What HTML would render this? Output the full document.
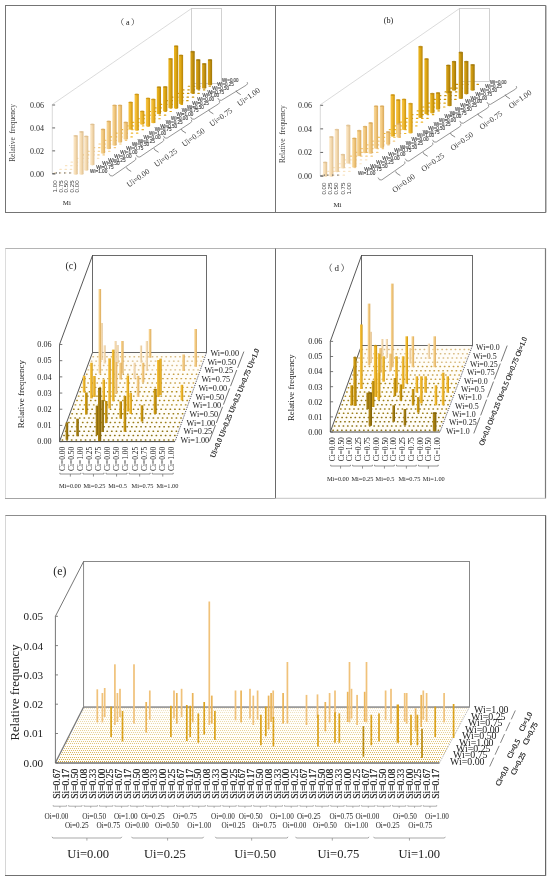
<!DOCTYPE html>
<html><head><meta charset="utf-8"><title>figure</title>
<style>html,body{margin:0;padding:0;background:#fff}svg{display:block}text{white-space:pre}</style></head><body>
<svg width="550" height="881" viewBox="0 0 550 881" font-family="'Liberation Serif','Noto Serif CJK SC',serif">
<defs>
<linearGradient id="gc" x1="0" x2="1" y1="0" y2="0"><stop offset="0" stop-color="#fbe9cc"/><stop offset="0.45" stop-color="#f6dcb2"/><stop offset="1" stop-color="#dcbc8c"/></linearGradient>
<linearGradient id="gl" x1="0" x2="1" y1="0" y2="0"><stop offset="0" stop-color="#f8d99c"/><stop offset="0.45" stop-color="#f3c97f"/><stop offset="1" stop-color="#d8a85a"/></linearGradient>
<linearGradient id="gg" x1="0" x2="1" y1="0" y2="0"><stop offset="0" stop-color="#f6c64a"/><stop offset="0.45" stop-color="#f0b72c"/><stop offset="1" stop-color="#c8920f"/></linearGradient>
<linearGradient id="gd" x1="0" x2="1" y1="0" y2="0"><stop offset="0" stop-color="#ebb72a"/><stop offset="0.45" stop-color="#dfa712"/><stop offset="1" stop-color="#b3820a"/></linearGradient>
<linearGradient id="gk" x1="0" x2="1" y1="0" y2="0"><stop offset="0" stop-color="#d8a51c"/><stop offset="0.45" stop-color="#c9950f"/><stop offset="1" stop-color="#9c7408"/></linearGradient>
<linearGradient id="gb" x1="0" x2="1" y1="0" y2="0"><stop offset="0" stop-color="#b48a18"/><stop offset="0.45" stop-color="#a07a10"/><stop offset="1" stop-color="#7c5e08"/></linearGradient>
</defs>
<rect x="0" y="0" width="550" height="881" fill="#fff"/>
<rect x="5.5" y="5.5" width="540" height="207" fill="none" stroke="#747474" stroke-width="1"/>
<line x1="275.50" y1="5.50" x2="275.50" y2="212.50" stroke="#747474" stroke-width="1" />
<line x1="545.80" y1="5.50" x2="545.80" y2="212.50" stroke="#8a8a8a" stroke-width="1.4" />
<rect x="191.50" y="8.50" width="30.00" height="75.00" fill="none" stroke="#c6c6c6" stroke-width="0.8"/>
<line x1="52.30" y1="104.50" x2="191.50" y2="8.50" stroke="#d2d2d2" stroke-width="0.8" />
<line x1="52.30" y1="104.50" x2="52.30" y2="173.80" stroke="#cfcfcf" stroke-width="0.8" />
<line x1="52.30" y1="173.80" x2="55.10" y2="173.80" stroke="#555" stroke-width="0.9" />
<text x="43.90" y="176.50" font-size="8" fill="#2a2a2a" text-anchor="end" >0.00</text>
<line x1="52.30" y1="150.87" x2="55.10" y2="150.87" stroke="#555" stroke-width="0.9" />
<text x="43.90" y="153.57" font-size="8" fill="#2a2a2a" text-anchor="end" >0.02</text>
<line x1="52.30" y1="127.93" x2="55.10" y2="127.93" stroke="#555" stroke-width="0.9" />
<text x="43.90" y="130.63" font-size="8" fill="#2a2a2a" text-anchor="end" >0.04</text>
<line x1="52.30" y1="105.00" x2="55.10" y2="105.00" stroke="#555" stroke-width="0.9" />
<text x="43.90" y="107.70" font-size="8" fill="#2a2a2a" text-anchor="end" >0.06</text>
<text x="15.30" y="132.90" font-size="7.4" fill="#444" text-anchor="middle" transform="rotate(-90.00 15.30 132.90)" >Relative&#160; frequency</text>
<rect x="187.67" y="85.63" width="2.5" height="1.2" rx="0.5" fill="#c9950f" opacity="1"/>
<rect x="192.87" y="85.63" width="2.5" height="1.2" rx="0.5" fill="#c9950f" opacity="1"/>
<rect x="198.07" y="85.63" width="2.5" height="1.2" rx="0.5" fill="#c9950f" opacity="1"/>
<rect x="203.27" y="85.63" width="2.5" height="1.2" rx="0.5" fill="#c9950f" opacity="1"/>
<rect x="208.47" y="85.63" width="2.5" height="1.2" rx="0.5" fill="#c9950f" opacity="1"/>
<rect x="182.09" y="89.24" width="2.5" height="1.2" rx="0.5" fill="#c9950f" opacity="1"/>
<rect x="187.29" y="89.24" width="2.5" height="1.2" rx="0.5" fill="#c9950f" opacity="1"/>
<rect x="192.49" y="89.24" width="2.5" height="1.2" rx="0.5" fill="#c9950f" opacity="1"/>
<rect x="197.69" y="89.24" width="2.5" height="1.2" rx="0.5" fill="#c9950f" opacity="1"/>
<rect x="202.89" y="89.24" width="2.5" height="1.2" rx="0.5" fill="#c9950f" opacity="1"/>
<rect x="176.51" y="92.85" width="2.5" height="1.2" rx="0.5" fill="#c9950f" opacity="1"/>
<rect x="181.71" y="92.85" width="2.5" height="1.2" rx="0.5" fill="#c9950f" opacity="1"/>
<rect x="186.91" y="92.85" width="2.5" height="1.2" rx="0.5" fill="#c9950f" opacity="1"/>
<rect x="192.11" y="92.85" width="2.5" height="1.2" rx="0.5" fill="#c9950f" opacity="1"/>
<rect x="197.31" y="92.85" width="2.5" height="1.2" rx="0.5" fill="#c9950f" opacity="1"/>
<rect x="170.93" y="96.46" width="2.5" height="1.2" rx="0.5" fill="#c9950f" opacity="1"/>
<rect x="176.13" y="96.46" width="2.5" height="1.2" rx="0.5" fill="#c9950f" opacity="1"/>
<rect x="181.33" y="96.46" width="2.5" height="1.2" rx="0.5" fill="#c9950f" opacity="1"/>
<rect x="186.53" y="96.46" width="2.5" height="1.2" rx="0.5" fill="#c9950f" opacity="1"/>
<rect x="191.73" y="96.46" width="2.5" height="1.2" rx="0.5" fill="#c9950f" opacity="1"/>
<rect x="165.35" y="100.07" width="2.5" height="1.2" rx="0.5" fill="#c9950f" opacity="1"/>
<rect x="170.55" y="100.07" width="2.5" height="1.2" rx="0.5" fill="#c9950f" opacity="1"/>
<rect x="175.75" y="100.07" width="2.5" height="1.2" rx="0.5" fill="#c9950f" opacity="1"/>
<rect x="180.95" y="100.07" width="2.5" height="1.2" rx="0.5" fill="#c9950f" opacity="1"/>
<rect x="186.15" y="100.07" width="2.5" height="1.2" rx="0.5" fill="#c9950f" opacity="1"/>
<rect x="159.77" y="103.68" width="2.5" height="1.2" rx="0.5" fill="#dfa712" opacity="1"/>
<rect x="164.97" y="103.68" width="2.5" height="1.2" rx="0.5" fill="#dfa712" opacity="1"/>
<rect x="170.17" y="103.68" width="2.5" height="1.2" rx="0.5" fill="#dfa712" opacity="1"/>
<rect x="175.37" y="103.68" width="2.5" height="1.2" rx="0.5" fill="#dfa712" opacity="1"/>
<rect x="180.57" y="103.68" width="2.5" height="1.2" rx="0.5" fill="#dfa712" opacity="1"/>
<rect x="154.19" y="107.30" width="2.5" height="1.2" rx="0.5" fill="#dfa712" opacity="1"/>
<rect x="159.39" y="107.30" width="2.5" height="1.2" rx="0.5" fill="#dfa712" opacity="1"/>
<rect x="164.59" y="107.30" width="2.5" height="1.2" rx="0.5" fill="#dfa712" opacity="1"/>
<rect x="169.79" y="107.30" width="2.5" height="1.2" rx="0.5" fill="#dfa712" opacity="1"/>
<rect x="174.99" y="107.30" width="2.5" height="1.2" rx="0.5" fill="#dfa712" opacity="1"/>
<rect x="148.61" y="110.91" width="2.5" height="1.2" rx="0.5" fill="#dfa712" opacity="1"/>
<rect x="153.81" y="110.91" width="2.5" height="1.2" rx="0.5" fill="#dfa712" opacity="1"/>
<rect x="159.01" y="110.91" width="2.5" height="1.2" rx="0.5" fill="#dfa712" opacity="1"/>
<rect x="164.21" y="110.91" width="2.5" height="1.2" rx="0.5" fill="#dfa712" opacity="1"/>
<rect x="169.41" y="110.91" width="2.5" height="1.2" rx="0.5" fill="#dfa712" opacity="1"/>
<rect x="143.03" y="114.52" width="2.5" height="1.2" rx="0.5" fill="#dfa712" opacity="1"/>
<rect x="148.23" y="114.52" width="2.5" height="1.2" rx="0.5" fill="#dfa712" opacity="1"/>
<rect x="153.43" y="114.52" width="2.5" height="1.2" rx="0.5" fill="#dfa712" opacity="1"/>
<rect x="158.63" y="114.52" width="2.5" height="1.2" rx="0.5" fill="#dfa712" opacity="1"/>
<rect x="163.83" y="114.52" width="2.5" height="1.2" rx="0.5" fill="#dfa712" opacity="1"/>
<rect x="137.45" y="118.13" width="2.5" height="1.2" rx="0.5" fill="#dfa712" opacity="1"/>
<rect x="142.65" y="118.13" width="2.5" height="1.2" rx="0.5" fill="#dfa712" opacity="1"/>
<rect x="147.85" y="118.13" width="2.5" height="1.2" rx="0.5" fill="#dfa712" opacity="1"/>
<rect x="153.05" y="118.13" width="2.5" height="1.2" rx="0.5" fill="#dfa712" opacity="1"/>
<rect x="158.25" y="118.13" width="2.5" height="1.2" rx="0.5" fill="#dfa712" opacity="1"/>
<rect x="131.87" y="121.74" width="2.5" height="1.2" rx="0.5" fill="#f0b72c" opacity="1"/>
<rect x="137.07" y="121.74" width="2.5" height="1.2" rx="0.5" fill="#f0b72c" opacity="1"/>
<rect x="142.27" y="121.74" width="2.5" height="1.2" rx="0.5" fill="#f0b72c" opacity="1"/>
<rect x="147.47" y="121.74" width="2.5" height="1.2" rx="0.5" fill="#f0b72c" opacity="1"/>
<rect x="152.67" y="121.74" width="2.5" height="1.2" rx="0.5" fill="#f0b72c" opacity="1"/>
<rect x="126.29" y="125.35" width="2.5" height="1.2" rx="0.5" fill="#f0b72c" opacity="1"/>
<rect x="131.49" y="125.35" width="2.5" height="1.2" rx="0.5" fill="#f0b72c" opacity="1"/>
<rect x="136.69" y="125.35" width="2.5" height="1.2" rx="0.5" fill="#f0b72c" opacity="1"/>
<rect x="141.89" y="125.35" width="2.5" height="1.2" rx="0.5" fill="#f0b72c" opacity="1"/>
<rect x="147.09" y="125.35" width="2.5" height="1.2" rx="0.5" fill="#f0b72c" opacity="1"/>
<rect x="120.71" y="128.96" width="2.5" height="1.2" rx="0.5" fill="#f0b72c" opacity="1"/>
<rect x="125.91" y="128.96" width="2.5" height="1.2" rx="0.5" fill="#f0b72c" opacity="1"/>
<rect x="131.11" y="128.96" width="2.5" height="1.2" rx="0.5" fill="#f0b72c" opacity="1"/>
<rect x="136.31" y="128.96" width="2.5" height="1.2" rx="0.5" fill="#f0b72c" opacity="1"/>
<rect x="141.51" y="128.96" width="2.5" height="1.2" rx="0.5" fill="#f0b72c" opacity="1"/>
<rect x="115.13" y="132.57" width="2.5" height="1.2" rx="0.5" fill="#f0b72c" opacity="1"/>
<rect x="120.33" y="132.57" width="2.5" height="1.2" rx="0.5" fill="#f0b72c" opacity="1"/>
<rect x="125.53" y="132.57" width="2.5" height="1.2" rx="0.5" fill="#f0b72c" opacity="1"/>
<rect x="130.73" y="132.57" width="2.5" height="1.2" rx="0.5" fill="#f0b72c" opacity="1"/>
<rect x="135.93" y="132.57" width="2.5" height="1.2" rx="0.5" fill="#f0b72c" opacity="1"/>
<rect x="109.55" y="136.19" width="2.5" height="1.2" rx="0.5" fill="#f0b72c" opacity="1"/>
<rect x="114.75" y="136.19" width="2.5" height="1.2" rx="0.5" fill="#f0b72c" opacity="1"/>
<rect x="119.95" y="136.19" width="2.5" height="1.2" rx="0.5" fill="#f0b72c" opacity="1"/>
<rect x="125.15" y="136.19" width="2.5" height="1.2" rx="0.5" fill="#f0b72c" opacity="1"/>
<rect x="130.35" y="136.19" width="2.5" height="1.2" rx="0.5" fill="#f0b72c" opacity="1"/>
<rect x="103.97" y="139.80" width="2.5" height="1.2" rx="0.5" fill="#f3c97f" opacity="1"/>
<rect x="109.17" y="139.80" width="2.5" height="1.2" rx="0.5" fill="#f3c97f" opacity="1"/>
<rect x="114.37" y="139.80" width="2.5" height="1.2" rx="0.5" fill="#f3c97f" opacity="1"/>
<rect x="119.57" y="139.80" width="2.5" height="1.2" rx="0.5" fill="#f3c97f" opacity="1"/>
<rect x="124.77" y="139.80" width="2.5" height="1.2" rx="0.5" fill="#f3c97f" opacity="1"/>
<rect x="98.39" y="143.41" width="2.5" height="1.2" rx="0.5" fill="#f3c97f" opacity="1"/>
<rect x="103.59" y="143.41" width="2.5" height="1.2" rx="0.5" fill="#f3c97f" opacity="1"/>
<rect x="108.79" y="143.41" width="2.5" height="1.2" rx="0.5" fill="#f3c97f" opacity="1"/>
<rect x="113.99" y="143.41" width="2.5" height="1.2" rx="0.5" fill="#f3c97f" opacity="1"/>
<rect x="119.19" y="143.41" width="2.5" height="1.2" rx="0.5" fill="#f3c97f" opacity="1"/>
<rect x="92.81" y="147.02" width="2.5" height="1.2" rx="0.5" fill="#f3c97f" opacity="1"/>
<rect x="98.01" y="147.02" width="2.5" height="1.2" rx="0.5" fill="#f3c97f" opacity="1"/>
<rect x="103.21" y="147.02" width="2.5" height="1.2" rx="0.5" fill="#f3c97f" opacity="1"/>
<rect x="108.41" y="147.02" width="2.5" height="1.2" rx="0.5" fill="#f3c97f" opacity="1"/>
<rect x="113.61" y="147.02" width="2.5" height="1.2" rx="0.5" fill="#f3c97f" opacity="1"/>
<rect x="87.23" y="150.63" width="2.5" height="1.2" rx="0.5" fill="#f3c97f" opacity="1"/>
<rect x="92.43" y="150.63" width="2.5" height="1.2" rx="0.5" fill="#f3c97f" opacity="1"/>
<rect x="97.63" y="150.63" width="2.5" height="1.2" rx="0.5" fill="#f3c97f" opacity="1"/>
<rect x="102.83" y="150.63" width="2.5" height="1.2" rx="0.5" fill="#f3c97f" opacity="1"/>
<rect x="108.03" y="150.63" width="2.5" height="1.2" rx="0.5" fill="#f3c97f" opacity="1"/>
<rect x="81.65" y="154.24" width="2.5" height="1.2" rx="0.5" fill="#f3c97f" opacity="1"/>
<rect x="86.85" y="154.24" width="2.5" height="1.2" rx="0.5" fill="#f3c97f" opacity="1"/>
<rect x="92.05" y="154.24" width="2.5" height="1.2" rx="0.5" fill="#f3c97f" opacity="1"/>
<rect x="97.25" y="154.24" width="2.5" height="1.2" rx="0.5" fill="#f3c97f" opacity="1"/>
<rect x="102.45" y="154.24" width="2.5" height="1.2" rx="0.5" fill="#f3c97f" opacity="1"/>
<rect x="76.07" y="157.85" width="2.5" height="1.2" rx="0.5" fill="#f6dcb2" opacity="0.8"/>
<rect x="81.27" y="157.85" width="2.5" height="1.2" rx="0.5" fill="#f6dcb2" opacity="0.8"/>
<rect x="86.47" y="157.85" width="2.5" height="1.2" rx="0.5" fill="#f6dcb2" opacity="0.8"/>
<rect x="91.67" y="157.85" width="2.5" height="1.2" rx="0.5" fill="#f6dcb2" opacity="0.8"/>
<rect x="96.87" y="157.85" width="2.5" height="1.2" rx="0.5" fill="#f6dcb2" opacity="0.8"/>
<rect x="70.49" y="161.47" width="2.5" height="1.2" rx="0.5" fill="#f6dcb2" opacity="0.8"/>
<rect x="75.69" y="161.47" width="2.5" height="1.2" rx="0.5" fill="#f6dcb2" opacity="0.8"/>
<rect x="80.89" y="161.47" width="2.5" height="1.2" rx="0.5" fill="#f6dcb2" opacity="0.8"/>
<rect x="86.09" y="161.47" width="2.5" height="1.2" rx="0.5" fill="#f6dcb2" opacity="0.8"/>
<rect x="91.29" y="161.47" width="2.5" height="1.2" rx="0.5" fill="#f6dcb2" opacity="0.8"/>
<rect x="64.91" y="165.08" width="2.5" height="1.2" rx="0.5" fill="#f6dcb2" opacity="0.8"/>
<rect x="70.11" y="165.08" width="2.5" height="1.2" rx="0.5" fill="#f6dcb2" opacity="0.8"/>
<rect x="75.31" y="165.08" width="2.5" height="1.2" rx="0.5" fill="#f6dcb2" opacity="0.8"/>
<rect x="80.51" y="165.08" width="2.5" height="1.2" rx="0.5" fill="#f6dcb2" opacity="0.8"/>
<rect x="85.71" y="165.08" width="2.5" height="1.2" rx="0.5" fill="#f6dcb2" opacity="0.8"/>
<rect x="59.33" y="168.69" width="2.5" height="1.2" rx="0.5" fill="#f6dcb2" opacity="0.8"/>
<rect x="64.53" y="168.69" width="2.5" height="1.2" rx="0.5" fill="#f6dcb2" opacity="0.8"/>
<rect x="69.73" y="168.69" width="2.5" height="1.2" rx="0.5" fill="#f6dcb2" opacity="0.8"/>
<rect x="74.93" y="168.69" width="2.5" height="1.2" rx="0.5" fill="#f6dcb2" opacity="0.8"/>
<rect x="80.13" y="168.69" width="2.5" height="1.2" rx="0.5" fill="#f6dcb2" opacity="0.8"/>
<rect x="53.75" y="172.30" width="2.5" height="1.2" rx="0.5" fill="#f6dcb2" opacity="0.8"/>
<rect x="58.95" y="172.30" width="2.5" height="1.2" rx="0.5" fill="#f6dcb2" opacity="0.8"/>
<rect x="64.15" y="172.30" width="2.5" height="1.2" rx="0.5" fill="#f6dcb2" opacity="0.8"/>
<rect x="69.35" y="172.30" width="2.5" height="1.2" rx="0.5" fill="#f6dcb2" opacity="0.8"/>
<rect x="74.55" y="172.30" width="2.5" height="1.2" rx="0.5" fill="#f6dcb2" opacity="0.8"/>
<rect x="207.90" y="59.60" width="4.20" height="25.20" fill="url(#gk)"/>
<ellipse cx="210.00" cy="59.90" rx="2.10" ry="0.9" fill="#9c7408" opacity="0.75"/>
<ellipse cx="210.00" cy="84.80" rx="2.10" ry="0.8" fill="url(#gk)"/>
<rect x="202.10" y="63.50" width="4.20" height="24.50" fill="url(#gk)"/>
<ellipse cx="204.20" cy="63.80" rx="2.10" ry="0.9" fill="#9c7408" opacity="0.75"/>
<ellipse cx="204.20" cy="88.00" rx="2.10" ry="0.8" fill="url(#gk)"/>
<rect x="196.10" y="59.60" width="4.20" height="29.40" fill="url(#gk)"/>
<ellipse cx="198.20" cy="59.90" rx="2.10" ry="0.9" fill="#9c7408" opacity="0.75"/>
<ellipse cx="198.20" cy="89.00" rx="2.10" ry="0.8" fill="url(#gk)"/>
<rect x="190.50" y="51.40" width="4.20" height="41.60" fill="url(#gk)"/>
<ellipse cx="192.60" cy="51.70" rx="2.10" ry="0.9" fill="#9c7408" opacity="0.75"/>
<ellipse cx="192.60" cy="93.00" rx="2.10" ry="0.8" fill="url(#gk)"/>
<rect x="178.90" y="55.00" width="4.20" height="48.60" fill="url(#gd)"/>
<ellipse cx="181.00" cy="55.30" rx="2.10" ry="0.9" fill="#b3820a" opacity="0.75"/>
<ellipse cx="181.00" cy="103.60" rx="2.10" ry="0.8" fill="url(#gd)"/>
<rect x="168.40" y="58.50" width="4.20" height="49.20" fill="url(#gd)"/>
<ellipse cx="170.50" cy="58.80" rx="2.10" ry="0.9" fill="#b3820a" opacity="0.75"/>
<ellipse cx="170.50" cy="107.70" rx="2.10" ry="0.8" fill="url(#gd)"/>
<rect x="174.00" y="45.80" width="4.20" height="62.20" fill="url(#gd)"/>
<ellipse cx="176.10" cy="46.10" rx="2.10" ry="0.9" fill="#b3820a" opacity="0.75"/>
<ellipse cx="176.10" cy="108.00" rx="2.10" ry="0.8" fill="url(#gd)"/>
<rect x="163.10" y="86.60" width="4.20" height="24.40" fill="url(#gd)"/>
<ellipse cx="165.20" cy="86.90" rx="2.10" ry="0.9" fill="#b3820a" opacity="0.75"/>
<ellipse cx="165.20" cy="111.00" rx="2.10" ry="0.8" fill="url(#gd)"/>
<rect x="156.80" y="86.80" width="4.20" height="26.70" fill="url(#gd)"/>
<ellipse cx="158.90" cy="87.10" rx="2.10" ry="0.9" fill="#b3820a" opacity="0.75"/>
<ellipse cx="158.90" cy="113.50" rx="2.10" ry="0.8" fill="url(#gd)"/>
<rect x="151.20" y="99.00" width="4.20" height="23.50" fill="url(#gg)"/>
<ellipse cx="153.30" cy="99.30" rx="2.10" ry="0.9" fill="#c8920f" opacity="0.75"/>
<ellipse cx="153.30" cy="122.50" rx="2.10" ry="0.8" fill="url(#gg)"/>
<rect x="140.10" y="111.00" width="4.20" height="13.00" fill="url(#gg)"/>
<ellipse cx="142.20" cy="111.30" rx="2.10" ry="0.9" fill="#c8920f" opacity="0.75"/>
<ellipse cx="142.20" cy="124.00" rx="2.10" ry="0.8" fill="url(#gg)"/>
<rect x="145.90" y="98.00" width="4.20" height="28.00" fill="url(#gg)"/>
<ellipse cx="148.00" cy="98.30" rx="2.10" ry="0.9" fill="#c8920f" opacity="0.75"/>
<ellipse cx="148.00" cy="126.00" rx="2.10" ry="0.8" fill="url(#gg)"/>
<rect x="128.50" y="102.00" width="4.20" height="27.00" fill="url(#gg)"/>
<ellipse cx="130.60" cy="102.30" rx="2.10" ry="0.9" fill="#c8920f" opacity="0.75"/>
<ellipse cx="130.60" cy="129.00" rx="2.10" ry="0.8" fill="url(#gg)"/>
<rect x="134.60" y="94.00" width="4.20" height="36.00" fill="url(#gg)"/>
<ellipse cx="136.70" cy="94.30" rx="2.10" ry="0.9" fill="#c8920f" opacity="0.75"/>
<ellipse cx="136.70" cy="130.00" rx="2.10" ry="0.8" fill="url(#gg)"/>
<rect x="123.60" y="122.00" width="4.20" height="17.00" fill="url(#gl)"/>
<ellipse cx="125.70" cy="122.30" rx="2.10" ry="0.9" fill="#d8a85a" opacity="0.75"/>
<ellipse cx="125.70" cy="139.00" rx="2.10" ry="0.8" fill="url(#gl)"/>
<rect x="117.90" y="105.00" width="4.20" height="37.00" fill="url(#gl)"/>
<ellipse cx="120.00" cy="105.30" rx="2.10" ry="0.9" fill="#d8a85a" opacity="0.75"/>
<ellipse cx="120.00" cy="142.00" rx="2.10" ry="0.8" fill="url(#gl)"/>
<rect x="112.40" y="105.00" width="4.20" height="40.00" fill="url(#gl)"/>
<ellipse cx="114.50" cy="105.30" rx="2.10" ry="0.9" fill="#d8a85a" opacity="0.75"/>
<ellipse cx="114.50" cy="145.00" rx="2.10" ry="0.8" fill="url(#gl)"/>
<rect x="106.60" y="121.00" width="4.20" height="27.50" fill="url(#gl)"/>
<ellipse cx="108.70" cy="121.30" rx="2.10" ry="0.9" fill="#d8a85a" opacity="0.75"/>
<ellipse cx="108.70" cy="148.50" rx="2.10" ry="0.8" fill="url(#gl)"/>
<rect x="100.90" y="129.00" width="4.20" height="24.00" fill="url(#gl)"/>
<ellipse cx="103.00" cy="129.30" rx="2.10" ry="0.9" fill="#d8a85a" opacity="0.75"/>
<ellipse cx="103.00" cy="153.00" rx="2.10" ry="0.8" fill="url(#gl)"/>
<rect x="90.20" y="124.00" width="4.20" height="40.60" fill="url(#gc)"/>
<ellipse cx="92.30" cy="124.30" rx="2.10" ry="0.9" fill="#dcbc8c" opacity="0.75"/>
<ellipse cx="92.30" cy="164.60" rx="2.10" ry="0.8" fill="url(#gc)"/>
<rect x="84.10" y="136.00" width="4.20" height="34.00" fill="url(#gc)"/>
<ellipse cx="86.20" cy="136.30" rx="2.10" ry="0.9" fill="#dcbc8c" opacity="0.75"/>
<ellipse cx="86.20" cy="170.00" rx="2.10" ry="0.8" fill="url(#gc)"/>
<rect x="73.50" y="135.50" width="4.20" height="38.50" fill="url(#gc)"/>
<ellipse cx="75.60" cy="135.80" rx="2.10" ry="0.9" fill="#dcbc8c" opacity="0.75"/>
<ellipse cx="75.60" cy="174.00" rx="2.10" ry="0.8" fill="url(#gc)"/>
<rect x="79.30" y="131.50" width="4.20" height="42.50" fill="url(#gc)"/>
<ellipse cx="81.40" cy="131.80" rx="2.10" ry="0.9" fill="#dcbc8c" opacity="0.75"/>
<ellipse cx="81.40" cy="174.00" rx="2.10" ry="0.8" fill="url(#gc)"/>
<rect x="55.80" y="172.20" width="1" height="1.5" fill="#666"/>
<rect x="59.30" y="172.20" width="1" height="1.5" fill="#666"/>
<rect x="64.30" y="172.20" width="1" height="1.5" fill="#666"/>
<rect x="69.40" y="172.20" width="1" height="1.5" fill="#666"/>
<line x1="52.30" y1="173.80" x2="55.50" y2="173.80" stroke="#555" stroke-width="0.9" />
<text x="57.30" y="192.40" font-size="6.2" fill="#444" text-anchor="start" transform="rotate(-90.00 57.30 192.40)" font-family="'Liberation Sans',sans-serif">1.00</text>
<text x="62.85" y="192.40" font-size="6.2" fill="#444" text-anchor="start" transform="rotate(-90.00 62.85 192.40)" font-family="'Liberation Sans',sans-serif">0.75</text>
<text x="68.40" y="192.40" font-size="6.2" fill="#444" text-anchor="start" transform="rotate(-90.00 68.40 192.40)" font-family="'Liberation Sans',sans-serif">0.50</text>
<text x="73.95" y="192.40" font-size="6.2" fill="#444" text-anchor="start" transform="rotate(-90.00 73.95 192.40)" font-family="'Liberation Sans',sans-serif">0.25</text>
<text x="79.50" y="192.40" font-size="6.2" fill="#444" text-anchor="start" transform="rotate(-90.00 79.50 192.40)" font-family="'Liberation Sans',sans-serif">0.00</text>
<text x="66.80" y="204.80" font-size="6.9" fill="#222" text-anchor="middle" >Mi</text>
<text x="90.00" y="172.90" font-size="4.7" fill="#484848" text-anchor="start" font-family="'Liberation Sans',sans-serif" stroke="#484848" stroke-width="0.15">Wi=1.00</text>
<text x="96.17" y="169.12" font-size="4.69" fill="#484848" text-anchor="start" font-family="'Liberation Sans',sans-serif" stroke="#484848" stroke-width="0.15">Wi=0.75</text>
<text x="102.28" y="165.34" font-size="4.68" fill="#484848" text-anchor="start" font-family="'Liberation Sans',sans-serif" stroke="#484848" stroke-width="0.15">Wi=0.50</text>
<text x="108.34" y="161.56" font-size="4.67" fill="#484848" text-anchor="start" font-family="'Liberation Sans',sans-serif" stroke="#484848" stroke-width="0.15">Wi=0.25</text>
<text x="114.34" y="157.78" font-size="4.66" fill="#484848" text-anchor="start" font-family="'Liberation Sans',sans-serif" stroke="#484848" stroke-width="0.15">Wi=0.00</text>
<text x="120.28" y="154.00" font-size="4.65" fill="#484848" text-anchor="start" font-family="'Liberation Sans',sans-serif" stroke="#484848" stroke-width="0.15">Wi=1.00</text>
<text x="126.16" y="150.22" font-size="4.64" fill="#484848" text-anchor="start" font-family="'Liberation Sans',sans-serif" stroke="#484848" stroke-width="0.15">Wi=0.75</text>
<text x="131.98" y="146.44" font-size="4.63" fill="#484848" text-anchor="start" font-family="'Liberation Sans',sans-serif" stroke="#484848" stroke-width="0.15">Wi=0.50</text>
<text x="137.74" y="142.66" font-size="4.62" fill="#484848" text-anchor="start" font-family="'Liberation Sans',sans-serif" stroke="#484848" stroke-width="0.15">Wi=0.25</text>
<text x="143.45" y="138.88" font-size="4.61" fill="#484848" text-anchor="start" font-family="'Liberation Sans',sans-serif" stroke="#484848" stroke-width="0.15">Wi=0.00</text>
<text x="149.10" y="135.10" font-size="4.6" fill="#484848" text-anchor="start" font-family="'Liberation Sans',sans-serif" stroke="#484848" stroke-width="0.15">Wi=1.00</text>
<text x="154.69" y="131.32" font-size="4.59" fill="#484848" text-anchor="start" font-family="'Liberation Sans',sans-serif" stroke="#484848" stroke-width="0.15">Wi=0.75</text>
<text x="160.22" y="127.54" font-size="4.58" fill="#484848" text-anchor="start" font-family="'Liberation Sans',sans-serif" stroke="#484848" stroke-width="0.15">Wi=0.50</text>
<text x="165.70" y="123.76" font-size="4.57" fill="#484848" text-anchor="start" font-family="'Liberation Sans',sans-serif" stroke="#484848" stroke-width="0.15">Wi=0.25</text>
<text x="171.12" y="119.98" font-size="4.56" fill="#484848" text-anchor="start" font-family="'Liberation Sans',sans-serif" stroke="#484848" stroke-width="0.15">Wi=0.00</text>
<text x="176.47" y="116.20" font-size="4.55" fill="#484848" text-anchor="start" font-family="'Liberation Sans',sans-serif" stroke="#484848" stroke-width="0.15">Wi=1.00</text>
<text x="181.78" y="112.42" font-size="4.54" fill="#484848" text-anchor="start" font-family="'Liberation Sans',sans-serif" stroke="#484848" stroke-width="0.15">Wi=0.75</text>
<text x="187.02" y="108.64" font-size="4.53" fill="#484848" text-anchor="start" font-family="'Liberation Sans',sans-serif" stroke="#484848" stroke-width="0.15">Wi=0.50</text>
<text x="192.20" y="104.86" font-size="4.52" fill="#484848" text-anchor="start" font-family="'Liberation Sans',sans-serif" stroke="#484848" stroke-width="0.15">Wi=0.25</text>
<text x="197.33" y="101.08" font-size="4.51" fill="#484848" text-anchor="start" font-family="'Liberation Sans',sans-serif" stroke="#484848" stroke-width="0.15">Wi=0.00</text>
<text x="202.40" y="97.30" font-size="4.5" fill="#484848" text-anchor="start" font-family="'Liberation Sans',sans-serif" stroke="#484848" stroke-width="0.15">Wi=1.00</text>
<text x="207.41" y="93.52" font-size="4.49" fill="#484848" text-anchor="start" font-family="'Liberation Sans',sans-serif" stroke="#484848" stroke-width="0.15">Wi=0.75</text>
<text x="212.36" y="89.74" font-size="4.48" fill="#484848" text-anchor="start" font-family="'Liberation Sans',sans-serif" stroke="#484848" stroke-width="0.15">Wi=0.50</text>
<text x="217.26" y="85.96" font-size="4.47" fill="#484848" text-anchor="start" font-family="'Liberation Sans',sans-serif" stroke="#484848" stroke-width="0.15">Wi=0.25</text>
<text x="222.10" y="82.18" font-size="4.46" fill="#484848" text-anchor="start" font-family="'Liberation Sans',sans-serif" stroke="#484848" stroke-width="0.15">Wi=0.00</text>
<path d="M109.00 173.60 Q109.90 176.80 112.70 175.90 L134.80 160.50 Q136.60 159.30 135.60 157.50" fill="none" stroke="#7a7a7a" stroke-width="0.8"/>
<line x1="127.30" y1="169.00" x2="131.20" y2="171.50" stroke="#6a6a6a" stroke-width="0.8" />
<line x1="127.30" y1="169.00" x2="126.60" y2="167.40" stroke="#6a6a6a" stroke-width="0.8" />
<text x="129.00" y="187.60" font-size="7.9" fill="#333" text-anchor="start" transform="rotate(-35.50 129.00 187.60)" >Ui=0.00</text>
<path d="M136.20 154.70 Q137.10 157.90 139.90 157.00 L162.70 141.65 Q164.50 140.45 163.50 138.65" fill="none" stroke="#7a7a7a" stroke-width="0.8"/>
<line x1="154.70" y1="149.80" x2="158.60" y2="152.30" stroke="#6a6a6a" stroke-width="0.8" />
<line x1="154.70" y1="149.80" x2="154.00" y2="148.20" stroke="#6a6a6a" stroke-width="0.8" />
<text x="156.60" y="167.35" font-size="7.9" fill="#333" text-anchor="start" transform="rotate(-35.50 156.60 167.35)" >Ui=0.25</text>
<path d="M163.40 135.80 Q164.30 139.00 167.10 138.10 L190.60 122.80 Q192.40 121.60 191.40 119.80" fill="none" stroke="#7a7a7a" stroke-width="0.8"/>
<line x1="182.10" y1="130.60" x2="186.00" y2="133.10" stroke="#6a6a6a" stroke-width="0.8" />
<line x1="182.10" y1="130.60" x2="181.40" y2="129.00" stroke="#6a6a6a" stroke-width="0.8" />
<text x="184.20" y="147.10" font-size="7.9" fill="#333" text-anchor="start" transform="rotate(-35.50 184.20 147.10)" >Ui=0.50</text>
<path d="M190.60 116.90 Q191.50 120.10 194.30 119.20 L218.50 103.95 Q220.30 102.75 219.30 100.95" fill="none" stroke="#7a7a7a" stroke-width="0.8"/>
<line x1="209.50" y1="111.40" x2="213.40" y2="113.90" stroke="#6a6a6a" stroke-width="0.8" />
<line x1="209.50" y1="111.40" x2="208.80" y2="109.80" stroke="#6a6a6a" stroke-width="0.8" />
<text x="211.80" y="126.85" font-size="7.9" fill="#333" text-anchor="start" transform="rotate(-35.50 211.80 126.85)" >Ui=0.75</text>
<path d="M217.80 98.00 Q218.70 101.20 221.50 100.30 L246.40 85.10 Q248.20 83.90 247.20 82.10" fill="none" stroke="#7a7a7a" stroke-width="0.8"/>
<line x1="236.90" y1="92.20" x2="240.80" y2="94.70" stroke="#6a6a6a" stroke-width="0.8" />
<line x1="236.90" y1="92.20" x2="236.20" y2="90.60" stroke="#6a6a6a" stroke-width="0.8" />
<text x="239.40" y="106.60" font-size="7.9" fill="#333" text-anchor="start" transform="rotate(-35.50 239.40 106.60)" >Ui=1.00</text>
<text x="128.50" y="25.20" font-size="8.2" fill="#222" text-anchor="middle" letter-spacing="1.6">（a）</text>
<rect x="459.50" y="8.50" width="30.00" height="73.00" fill="none" stroke="#c6c6c6" stroke-width="0.8"/>
<line x1="320.30" y1="104.80" x2="459.50" y2="8.50" stroke="#d2d2d2" stroke-width="0.8" />
<line x1="320.30" y1="104.80" x2="320.30" y2="176.00" stroke="#cfcfcf" stroke-width="0.8" />
<line x1="320.30" y1="176.00" x2="323.10" y2="176.00" stroke="#555" stroke-width="0.9" />
<text x="311.90" y="178.70" font-size="8" fill="#2a2a2a" text-anchor="end" >0.00</text>
<line x1="320.30" y1="152.43" x2="323.10" y2="152.43" stroke="#555" stroke-width="0.9" />
<text x="311.90" y="155.13" font-size="8" fill="#2a2a2a" text-anchor="end" >0.02</text>
<line x1="320.30" y1="128.87" x2="323.10" y2="128.87" stroke="#555" stroke-width="0.9" />
<text x="311.90" y="131.57" font-size="8" fill="#2a2a2a" text-anchor="end" >0.04</text>
<line x1="320.30" y1="105.30" x2="323.10" y2="105.30" stroke="#555" stroke-width="0.9" />
<text x="311.90" y="108.00" font-size="8" fill="#2a2a2a" text-anchor="end" >0.06</text>
<text x="285.20" y="134.15" font-size="7.4" fill="#444" text-anchor="middle" transform="rotate(-90.00 285.20 134.15)" >Relative&#160; frequency</text>
<rect x="455.67" y="83.70" width="2.5" height="1.2" rx="0.5" fill="#c9950f" opacity="1"/>
<rect x="460.87" y="83.70" width="2.5" height="1.2" rx="0.5" fill="#c9950f" opacity="1"/>
<rect x="466.07" y="83.70" width="2.5" height="1.2" rx="0.5" fill="#c9950f" opacity="1"/>
<rect x="471.27" y="83.70" width="2.5" height="1.2" rx="0.5" fill="#c9950f" opacity="1"/>
<rect x="476.47" y="83.70" width="2.5" height="1.2" rx="0.5" fill="#c9950f" opacity="1"/>
<rect x="450.09" y="87.49" width="2.5" height="1.2" rx="0.5" fill="#c9950f" opacity="1"/>
<rect x="455.29" y="87.49" width="2.5" height="1.2" rx="0.5" fill="#c9950f" opacity="1"/>
<rect x="460.49" y="87.49" width="2.5" height="1.2" rx="0.5" fill="#c9950f" opacity="1"/>
<rect x="465.69" y="87.49" width="2.5" height="1.2" rx="0.5" fill="#c9950f" opacity="1"/>
<rect x="470.89" y="87.49" width="2.5" height="1.2" rx="0.5" fill="#c9950f" opacity="1"/>
<rect x="444.51" y="91.27" width="2.5" height="1.2" rx="0.5" fill="#c9950f" opacity="1"/>
<rect x="449.71" y="91.27" width="2.5" height="1.2" rx="0.5" fill="#c9950f" opacity="1"/>
<rect x="454.91" y="91.27" width="2.5" height="1.2" rx="0.5" fill="#c9950f" opacity="1"/>
<rect x="460.11" y="91.27" width="2.5" height="1.2" rx="0.5" fill="#c9950f" opacity="1"/>
<rect x="465.31" y="91.27" width="2.5" height="1.2" rx="0.5" fill="#c9950f" opacity="1"/>
<rect x="438.93" y="95.05" width="2.5" height="1.2" rx="0.5" fill="#c9950f" opacity="1"/>
<rect x="444.13" y="95.05" width="2.5" height="1.2" rx="0.5" fill="#c9950f" opacity="1"/>
<rect x="449.33" y="95.05" width="2.5" height="1.2" rx="0.5" fill="#c9950f" opacity="1"/>
<rect x="454.53" y="95.05" width="2.5" height="1.2" rx="0.5" fill="#c9950f" opacity="1"/>
<rect x="459.73" y="95.05" width="2.5" height="1.2" rx="0.5" fill="#c9950f" opacity="1"/>
<rect x="433.35" y="98.84" width="2.5" height="1.2" rx="0.5" fill="#c9950f" opacity="1"/>
<rect x="438.55" y="98.84" width="2.5" height="1.2" rx="0.5" fill="#c9950f" opacity="1"/>
<rect x="443.75" y="98.84" width="2.5" height="1.2" rx="0.5" fill="#c9950f" opacity="1"/>
<rect x="448.95" y="98.84" width="2.5" height="1.2" rx="0.5" fill="#c9950f" opacity="1"/>
<rect x="454.15" y="98.84" width="2.5" height="1.2" rx="0.5" fill="#c9950f" opacity="1"/>
<rect x="427.77" y="102.62" width="2.5" height="1.2" rx="0.5" fill="#dfa712" opacity="1"/>
<rect x="432.97" y="102.62" width="2.5" height="1.2" rx="0.5" fill="#dfa712" opacity="1"/>
<rect x="438.17" y="102.62" width="2.5" height="1.2" rx="0.5" fill="#dfa712" opacity="1"/>
<rect x="443.37" y="102.62" width="2.5" height="1.2" rx="0.5" fill="#dfa712" opacity="1"/>
<rect x="448.57" y="102.62" width="2.5" height="1.2" rx="0.5" fill="#dfa712" opacity="1"/>
<rect x="422.19" y="106.40" width="2.5" height="1.2" rx="0.5" fill="#dfa712" opacity="1"/>
<rect x="427.39" y="106.40" width="2.5" height="1.2" rx="0.5" fill="#dfa712" opacity="1"/>
<rect x="432.59" y="106.40" width="2.5" height="1.2" rx="0.5" fill="#dfa712" opacity="1"/>
<rect x="437.79" y="106.40" width="2.5" height="1.2" rx="0.5" fill="#dfa712" opacity="1"/>
<rect x="442.99" y="106.40" width="2.5" height="1.2" rx="0.5" fill="#dfa712" opacity="1"/>
<rect x="416.61" y="110.19" width="2.5" height="1.2" rx="0.5" fill="#dfa712" opacity="1"/>
<rect x="421.81" y="110.19" width="2.5" height="1.2" rx="0.5" fill="#dfa712" opacity="1"/>
<rect x="427.01" y="110.19" width="2.5" height="1.2" rx="0.5" fill="#dfa712" opacity="1"/>
<rect x="432.21" y="110.19" width="2.5" height="1.2" rx="0.5" fill="#dfa712" opacity="1"/>
<rect x="437.41" y="110.19" width="2.5" height="1.2" rx="0.5" fill="#dfa712" opacity="1"/>
<rect x="411.03" y="113.97" width="2.5" height="1.2" rx="0.5" fill="#dfa712" opacity="1"/>
<rect x="416.23" y="113.97" width="2.5" height="1.2" rx="0.5" fill="#dfa712" opacity="1"/>
<rect x="421.43" y="113.97" width="2.5" height="1.2" rx="0.5" fill="#dfa712" opacity="1"/>
<rect x="426.63" y="113.97" width="2.5" height="1.2" rx="0.5" fill="#dfa712" opacity="1"/>
<rect x="431.83" y="113.97" width="2.5" height="1.2" rx="0.5" fill="#dfa712" opacity="1"/>
<rect x="405.45" y="117.75" width="2.5" height="1.2" rx="0.5" fill="#dfa712" opacity="1"/>
<rect x="410.65" y="117.75" width="2.5" height="1.2" rx="0.5" fill="#dfa712" opacity="1"/>
<rect x="415.85" y="117.75" width="2.5" height="1.2" rx="0.5" fill="#dfa712" opacity="1"/>
<rect x="421.05" y="117.75" width="2.5" height="1.2" rx="0.5" fill="#dfa712" opacity="1"/>
<rect x="426.25" y="117.75" width="2.5" height="1.2" rx="0.5" fill="#dfa712" opacity="1"/>
<rect x="399.87" y="121.54" width="2.5" height="1.2" rx="0.5" fill="#f0b72c" opacity="1"/>
<rect x="405.07" y="121.54" width="2.5" height="1.2" rx="0.5" fill="#f0b72c" opacity="1"/>
<rect x="410.27" y="121.54" width="2.5" height="1.2" rx="0.5" fill="#f0b72c" opacity="1"/>
<rect x="415.47" y="121.54" width="2.5" height="1.2" rx="0.5" fill="#f0b72c" opacity="1"/>
<rect x="420.67" y="121.54" width="2.5" height="1.2" rx="0.5" fill="#f0b72c" opacity="1"/>
<rect x="394.29" y="125.32" width="2.5" height="1.2" rx="0.5" fill="#f0b72c" opacity="1"/>
<rect x="399.49" y="125.32" width="2.5" height="1.2" rx="0.5" fill="#f0b72c" opacity="1"/>
<rect x="404.69" y="125.32" width="2.5" height="1.2" rx="0.5" fill="#f0b72c" opacity="1"/>
<rect x="409.89" y="125.32" width="2.5" height="1.2" rx="0.5" fill="#f0b72c" opacity="1"/>
<rect x="415.09" y="125.32" width="2.5" height="1.2" rx="0.5" fill="#f0b72c" opacity="1"/>
<rect x="388.71" y="129.10" width="2.5" height="1.2" rx="0.5" fill="#f0b72c" opacity="1"/>
<rect x="393.91" y="129.10" width="2.5" height="1.2" rx="0.5" fill="#f0b72c" opacity="1"/>
<rect x="399.11" y="129.10" width="2.5" height="1.2" rx="0.5" fill="#f0b72c" opacity="1"/>
<rect x="404.31" y="129.10" width="2.5" height="1.2" rx="0.5" fill="#f0b72c" opacity="1"/>
<rect x="409.51" y="129.10" width="2.5" height="1.2" rx="0.5" fill="#f0b72c" opacity="1"/>
<rect x="383.13" y="132.89" width="2.5" height="1.2" rx="0.5" fill="#f0b72c" opacity="1"/>
<rect x="388.33" y="132.89" width="2.5" height="1.2" rx="0.5" fill="#f0b72c" opacity="1"/>
<rect x="393.53" y="132.89" width="2.5" height="1.2" rx="0.5" fill="#f0b72c" opacity="1"/>
<rect x="398.73" y="132.89" width="2.5" height="1.2" rx="0.5" fill="#f0b72c" opacity="1"/>
<rect x="403.93" y="132.89" width="2.5" height="1.2" rx="0.5" fill="#f0b72c" opacity="1"/>
<rect x="377.55" y="136.67" width="2.5" height="1.2" rx="0.5" fill="#f0b72c" opacity="1"/>
<rect x="382.75" y="136.67" width="2.5" height="1.2" rx="0.5" fill="#f0b72c" opacity="1"/>
<rect x="387.95" y="136.67" width="2.5" height="1.2" rx="0.5" fill="#f0b72c" opacity="1"/>
<rect x="393.15" y="136.67" width="2.5" height="1.2" rx="0.5" fill="#f0b72c" opacity="1"/>
<rect x="398.35" y="136.67" width="2.5" height="1.2" rx="0.5" fill="#f0b72c" opacity="1"/>
<rect x="371.97" y="140.45" width="2.5" height="1.2" rx="0.5" fill="#f3c97f" opacity="1"/>
<rect x="377.17" y="140.45" width="2.5" height="1.2" rx="0.5" fill="#f3c97f" opacity="1"/>
<rect x="382.37" y="140.45" width="2.5" height="1.2" rx="0.5" fill="#f3c97f" opacity="1"/>
<rect x="387.57" y="140.45" width="2.5" height="1.2" rx="0.5" fill="#f3c97f" opacity="1"/>
<rect x="392.77" y="140.45" width="2.5" height="1.2" rx="0.5" fill="#f3c97f" opacity="1"/>
<rect x="366.39" y="144.23" width="2.5" height="1.2" rx="0.5" fill="#f3c97f" opacity="1"/>
<rect x="371.59" y="144.23" width="2.5" height="1.2" rx="0.5" fill="#f3c97f" opacity="1"/>
<rect x="376.79" y="144.23" width="2.5" height="1.2" rx="0.5" fill="#f3c97f" opacity="1"/>
<rect x="381.99" y="144.23" width="2.5" height="1.2" rx="0.5" fill="#f3c97f" opacity="1"/>
<rect x="387.19" y="144.23" width="2.5" height="1.2" rx="0.5" fill="#f3c97f" opacity="1"/>
<rect x="360.81" y="148.02" width="2.5" height="1.2" rx="0.5" fill="#f3c97f" opacity="1"/>
<rect x="366.01" y="148.02" width="2.5" height="1.2" rx="0.5" fill="#f3c97f" opacity="1"/>
<rect x="371.21" y="148.02" width="2.5" height="1.2" rx="0.5" fill="#f3c97f" opacity="1"/>
<rect x="376.41" y="148.02" width="2.5" height="1.2" rx="0.5" fill="#f3c97f" opacity="1"/>
<rect x="381.61" y="148.02" width="2.5" height="1.2" rx="0.5" fill="#f3c97f" opacity="1"/>
<rect x="355.23" y="151.80" width="2.5" height="1.2" rx="0.5" fill="#f3c97f" opacity="1"/>
<rect x="360.43" y="151.80" width="2.5" height="1.2" rx="0.5" fill="#f3c97f" opacity="1"/>
<rect x="365.63" y="151.80" width="2.5" height="1.2" rx="0.5" fill="#f3c97f" opacity="1"/>
<rect x="370.83" y="151.80" width="2.5" height="1.2" rx="0.5" fill="#f3c97f" opacity="1"/>
<rect x="376.03" y="151.80" width="2.5" height="1.2" rx="0.5" fill="#f3c97f" opacity="1"/>
<rect x="349.65" y="155.58" width="2.5" height="1.2" rx="0.5" fill="#f3c97f" opacity="1"/>
<rect x="354.85" y="155.58" width="2.5" height="1.2" rx="0.5" fill="#f3c97f" opacity="1"/>
<rect x="360.05" y="155.58" width="2.5" height="1.2" rx="0.5" fill="#f3c97f" opacity="1"/>
<rect x="365.25" y="155.58" width="2.5" height="1.2" rx="0.5" fill="#f3c97f" opacity="1"/>
<rect x="370.45" y="155.58" width="2.5" height="1.2" rx="0.5" fill="#f3c97f" opacity="1"/>
<rect x="344.07" y="159.37" width="2.5" height="1.2" rx="0.5" fill="#f6dcb2" opacity="0.8"/>
<rect x="349.27" y="159.37" width="2.5" height="1.2" rx="0.5" fill="#f6dcb2" opacity="0.8"/>
<rect x="354.47" y="159.37" width="2.5" height="1.2" rx="0.5" fill="#f6dcb2" opacity="0.8"/>
<rect x="359.67" y="159.37" width="2.5" height="1.2" rx="0.5" fill="#f6dcb2" opacity="0.8"/>
<rect x="364.87" y="159.37" width="2.5" height="1.2" rx="0.5" fill="#f6dcb2" opacity="0.8"/>
<rect x="338.49" y="163.15" width="2.5" height="1.2" rx="0.5" fill="#f6dcb2" opacity="0.8"/>
<rect x="343.69" y="163.15" width="2.5" height="1.2" rx="0.5" fill="#f6dcb2" opacity="0.8"/>
<rect x="348.89" y="163.15" width="2.5" height="1.2" rx="0.5" fill="#f6dcb2" opacity="0.8"/>
<rect x="354.09" y="163.15" width="2.5" height="1.2" rx="0.5" fill="#f6dcb2" opacity="0.8"/>
<rect x="359.29" y="163.15" width="2.5" height="1.2" rx="0.5" fill="#f6dcb2" opacity="0.8"/>
<rect x="332.91" y="166.93" width="2.5" height="1.2" rx="0.5" fill="#f6dcb2" opacity="0.8"/>
<rect x="338.11" y="166.93" width="2.5" height="1.2" rx="0.5" fill="#f6dcb2" opacity="0.8"/>
<rect x="343.31" y="166.93" width="2.5" height="1.2" rx="0.5" fill="#f6dcb2" opacity="0.8"/>
<rect x="348.51" y="166.93" width="2.5" height="1.2" rx="0.5" fill="#f6dcb2" opacity="0.8"/>
<rect x="353.71" y="166.93" width="2.5" height="1.2" rx="0.5" fill="#f6dcb2" opacity="0.8"/>
<rect x="327.33" y="170.72" width="2.5" height="1.2" rx="0.5" fill="#f6dcb2" opacity="0.8"/>
<rect x="332.53" y="170.72" width="2.5" height="1.2" rx="0.5" fill="#f6dcb2" opacity="0.8"/>
<rect x="337.73" y="170.72" width="2.5" height="1.2" rx="0.5" fill="#f6dcb2" opacity="0.8"/>
<rect x="342.93" y="170.72" width="2.5" height="1.2" rx="0.5" fill="#f6dcb2" opacity="0.8"/>
<rect x="348.13" y="170.72" width="2.5" height="1.2" rx="0.5" fill="#f6dcb2" opacity="0.8"/>
<rect x="321.75" y="174.50" width="2.5" height="1.2" rx="0.5" fill="#f6dcb2" opacity="0.8"/>
<rect x="326.95" y="174.50" width="2.5" height="1.2" rx="0.5" fill="#f6dcb2" opacity="0.8"/>
<rect x="332.15" y="174.50" width="2.5" height="1.2" rx="0.5" fill="#f6dcb2" opacity="0.8"/>
<rect x="337.35" y="174.50" width="2.5" height="1.2" rx="0.5" fill="#f6dcb2" opacity="0.8"/>
<rect x="342.55" y="174.50" width="2.5" height="1.2" rx="0.5" fill="#f6dcb2" opacity="0.8"/>
<rect x="451.90" y="61.30" width="4.20" height="28.70" fill="url(#gk)"/>
<ellipse cx="454.00" cy="61.60" rx="2.10" ry="0.9" fill="#9c7408" opacity="0.75"/>
<ellipse cx="454.00" cy="90.00" rx="2.10" ry="0.8" fill="url(#gk)"/>
<rect x="470.50" y="64.50" width="4.20" height="25.50" fill="url(#gk)"/>
<ellipse cx="472.60" cy="64.80" rx="2.10" ry="0.9" fill="#9c7408" opacity="0.75"/>
<ellipse cx="472.60" cy="90.00" rx="2.10" ry="0.8" fill="url(#gk)"/>
<rect x="446.20" y="65.00" width="4.20" height="28.00" fill="url(#gk)"/>
<ellipse cx="448.30" cy="65.30" rx="2.10" ry="0.9" fill="#9c7408" opacity="0.75"/>
<ellipse cx="448.30" cy="93.00" rx="2.10" ry="0.8" fill="url(#gk)"/>
<rect x="464.20" y="61.30" width="4.20" height="32.30" fill="url(#gk)"/>
<ellipse cx="466.30" cy="61.60" rx="2.10" ry="0.9" fill="#9c7408" opacity="0.75"/>
<ellipse cx="466.30" cy="93.60" rx="2.10" ry="0.8" fill="url(#gk)"/>
<rect x="458.70" y="52.20" width="4.20" height="46.00" fill="url(#gk)"/>
<ellipse cx="460.80" cy="52.50" rx="2.10" ry="0.9" fill="#9c7408" opacity="0.75"/>
<ellipse cx="460.80" cy="98.20" rx="2.10" ry="0.8" fill="url(#gk)"/>
<rect x="447.40" y="91.80" width="4.20" height="13.70" fill="url(#gk)"/>
<ellipse cx="449.50" cy="92.10" rx="2.10" ry="0.9" fill="#9c7408" opacity="0.75"/>
<ellipse cx="449.50" cy="105.50" rx="2.10" ry="0.8" fill="url(#gk)"/>
<rect x="435.90" y="92.70" width="4.20" height="16.30" fill="url(#gd)"/>
<ellipse cx="438.00" cy="93.00" rx="2.10" ry="0.9" fill="#b3820a" opacity="0.75"/>
<ellipse cx="438.00" cy="109.00" rx="2.10" ry="0.8" fill="url(#gd)"/>
<rect x="430.20" y="93.30" width="4.20" height="19.40" fill="url(#gd)"/>
<ellipse cx="432.30" cy="93.60" rx="2.10" ry="0.9" fill="#b3820a" opacity="0.75"/>
<ellipse cx="432.30" cy="112.70" rx="2.10" ry="0.8" fill="url(#gd)"/>
<rect x="424.40" y="58.70" width="4.20" height="54.90" fill="url(#gd)"/>
<ellipse cx="426.50" cy="59.00" rx="2.10" ry="0.9" fill="#b3820a" opacity="0.75"/>
<ellipse cx="426.50" cy="113.60" rx="2.10" ry="0.8" fill="url(#gd)"/>
<rect x="418.40" y="46.40" width="4.20" height="70.90" fill="url(#gd)"/>
<ellipse cx="420.50" cy="46.70" rx="2.10" ry="0.9" fill="#b3820a" opacity="0.75"/>
<ellipse cx="420.50" cy="117.30" rx="2.10" ry="0.8" fill="url(#gd)"/>
<rect x="401.90" y="99.00" width="4.20" height="30.20" fill="url(#gg)"/>
<ellipse cx="404.00" cy="99.30" rx="2.10" ry="0.9" fill="#c8920f" opacity="0.75"/>
<ellipse cx="404.00" cy="129.20" rx="2.10" ry="0.8" fill="url(#gg)"/>
<rect x="408.40" y="103.30" width="4.20" height="29.40" fill="url(#gg)"/>
<ellipse cx="410.50" cy="103.60" rx="2.10" ry="0.9" fill="#c8920f" opacity="0.75"/>
<ellipse cx="410.50" cy="132.70" rx="2.10" ry="0.8" fill="url(#gg)"/>
<rect x="396.10" y="99.70" width="4.20" height="34.10" fill="url(#gg)"/>
<ellipse cx="398.20" cy="100.00" rx="2.10" ry="0.9" fill="#c8920f" opacity="0.75"/>
<ellipse cx="398.20" cy="133.80" rx="2.10" ry="0.8" fill="url(#gg)"/>
<rect x="390.60" y="94.70" width="4.20" height="41.30" fill="url(#gg)"/>
<ellipse cx="392.70" cy="95.00" rx="2.10" ry="0.9" fill="#c8920f" opacity="0.75"/>
<ellipse cx="392.70" cy="136.00" rx="2.10" ry="0.8" fill="url(#gg)"/>
<rect x="396.50" y="123.60" width="4.20" height="13.40" fill="url(#gl)"/>
<ellipse cx="398.60" cy="123.90" rx="2.10" ry="0.9" fill="#d8a85a" opacity="0.75"/>
<ellipse cx="398.60" cy="137.00" rx="2.10" ry="0.8" fill="url(#gl)"/>
<rect x="386.00" y="131.70" width="4.20" height="12.30" fill="url(#gl)"/>
<ellipse cx="388.10" cy="132.00" rx="2.10" ry="0.9" fill="#d8a85a" opacity="0.75"/>
<ellipse cx="388.10" cy="144.00" rx="2.10" ry="0.8" fill="url(#gl)"/>
<rect x="379.90" y="105.90" width="4.20" height="41.40" fill="url(#gl)"/>
<ellipse cx="382.00" cy="106.20" rx="2.10" ry="0.9" fill="#d8a85a" opacity="0.75"/>
<ellipse cx="382.00" cy="147.30" rx="2.10" ry="0.8" fill="url(#gl)"/>
<rect x="373.90" y="105.90" width="4.20" height="42.10" fill="url(#gl)"/>
<ellipse cx="376.00" cy="106.20" rx="2.10" ry="0.9" fill="#d8a85a" opacity="0.75"/>
<ellipse cx="376.00" cy="148.00" rx="2.10" ry="0.8" fill="url(#gl)"/>
<rect x="362.90" y="126.30" width="4.20" height="26.10" fill="url(#gl)"/>
<ellipse cx="365.00" cy="126.60" rx="2.10" ry="0.9" fill="#d8a85a" opacity="0.75"/>
<ellipse cx="365.00" cy="152.40" rx="2.10" ry="0.8" fill="url(#gl)"/>
<rect x="368.50" y="122.70" width="4.20" height="30.30" fill="url(#gl)"/>
<ellipse cx="370.60" cy="123.00" rx="2.10" ry="0.9" fill="#d8a85a" opacity="0.75"/>
<ellipse cx="370.60" cy="153.00" rx="2.10" ry="0.8" fill="url(#gl)"/>
<rect x="357.10" y="130.40" width="4.20" height="25.10" fill="url(#gl)"/>
<ellipse cx="359.20" cy="130.70" rx="2.10" ry="0.9" fill="#d8a85a" opacity="0.75"/>
<ellipse cx="359.20" cy="155.50" rx="2.10" ry="0.8" fill="url(#gl)"/>
<rect x="346.10" y="125.20" width="4.20" height="37.80" fill="url(#gc)"/>
<ellipse cx="348.20" cy="125.50" rx="2.10" ry="0.9" fill="#dcbc8c" opacity="0.75"/>
<ellipse cx="348.20" cy="163.00" rx="2.10" ry="0.8" fill="url(#gc)"/>
<rect x="352.20" y="138.00" width="4.20" height="29.00" fill="url(#gl)"/>
<ellipse cx="354.30" cy="138.30" rx="2.10" ry="0.9" fill="#d8a85a" opacity="0.75"/>
<ellipse cx="354.30" cy="167.00" rx="2.10" ry="0.8" fill="url(#gl)"/>
<rect x="340.70" y="154.30" width="4.20" height="13.40" fill="url(#gc)"/>
<ellipse cx="342.80" cy="154.60" rx="2.10" ry="0.9" fill="#dcbc8c" opacity="0.75"/>
<ellipse cx="342.80" cy="167.70" rx="2.10" ry="0.8" fill="url(#gc)"/>
<rect x="334.70" y="129.30" width="4.20" height="42.20" fill="url(#gc)"/>
<ellipse cx="336.80" cy="129.60" rx="2.10" ry="0.9" fill="#dcbc8c" opacity="0.75"/>
<ellipse cx="336.80" cy="171.50" rx="2.10" ry="0.8" fill="url(#gc)"/>
<rect x="323.00" y="162.00" width="4.20" height="14.00" fill="url(#gc)"/>
<ellipse cx="325.10" cy="162.30" rx="2.10" ry="0.9" fill="#dcbc8c" opacity="0.75"/>
<ellipse cx="325.10" cy="176.00" rx="2.10" ry="0.8" fill="url(#gc)"/>
<rect x="329.20" y="136.60" width="4.20" height="39.40" fill="url(#gc)"/>
<ellipse cx="331.30" cy="136.90" rx="2.10" ry="0.9" fill="#dcbc8c" opacity="0.75"/>
<ellipse cx="331.30" cy="176.00" rx="2.10" ry="0.8" fill="url(#gc)"/>
<rect x="323.80" y="174.40" width="1" height="1.5" fill="#666"/>
<rect x="327.30" y="174.40" width="1" height="1.5" fill="#666"/>
<rect x="332.30" y="174.40" width="1" height="1.5" fill="#666"/>
<rect x="337.40" y="174.40" width="1" height="1.5" fill="#666"/>
<line x1="320.30" y1="176.00" x2="323.50" y2="176.00" stroke="#555" stroke-width="0.9" />
<text x="325.60" y="194.60" font-size="6.2" fill="#444" text-anchor="start" transform="rotate(-90.00 325.60 194.60)" font-family="'Liberation Sans',sans-serif">0.00</text>
<text x="332.00" y="194.60" font-size="6.2" fill="#444" text-anchor="start" transform="rotate(-90.00 332.00 194.60)" font-family="'Liberation Sans',sans-serif">0.25</text>
<text x="338.40" y="194.60" font-size="6.2" fill="#444" text-anchor="start" transform="rotate(-90.00 338.40 194.60)" font-family="'Liberation Sans',sans-serif">0.50</text>
<text x="344.80" y="194.60" font-size="6.2" fill="#444" text-anchor="start" transform="rotate(-90.00 344.80 194.60)" font-family="'Liberation Sans',sans-serif">0.75</text>
<text x="351.20" y="194.60" font-size="6.2" fill="#444" text-anchor="start" transform="rotate(-90.00 351.20 194.60)" font-family="'Liberation Sans',sans-serif">1.00</text>
<text x="337.40" y="207.00" font-size="6.9" fill="#222" text-anchor="middle" >Mi</text>
<text x="358.00" y="175.10" font-size="4.7" fill="#484848" text-anchor="start" font-family="'Liberation Sans',sans-serif" stroke="#484848" stroke-width="0.15">Wi=1.00</text>
<text x="364.17" y="171.32" font-size="4.69" fill="#484848" text-anchor="start" font-family="'Liberation Sans',sans-serif" stroke="#484848" stroke-width="0.15">Wi=0.75</text>
<text x="370.28" y="167.54" font-size="4.68" fill="#484848" text-anchor="start" font-family="'Liberation Sans',sans-serif" stroke="#484848" stroke-width="0.15">Wi=0.50</text>
<text x="376.34" y="163.76" font-size="4.67" fill="#484848" text-anchor="start" font-family="'Liberation Sans',sans-serif" stroke="#484848" stroke-width="0.15">Wi=0.25</text>
<text x="382.34" y="159.98" font-size="4.66" fill="#484848" text-anchor="start" font-family="'Liberation Sans',sans-serif" stroke="#484848" stroke-width="0.15">Wi=0.00</text>
<text x="388.27" y="156.20" font-size="4.65" fill="#484848" text-anchor="start" font-family="'Liberation Sans',sans-serif" stroke="#484848" stroke-width="0.15">Wi=1.00</text>
<text x="394.16" y="152.42" font-size="4.64" fill="#484848" text-anchor="start" font-family="'Liberation Sans',sans-serif" stroke="#484848" stroke-width="0.15">Wi=0.75</text>
<text x="399.98" y="148.64" font-size="4.63" fill="#484848" text-anchor="start" font-family="'Liberation Sans',sans-serif" stroke="#484848" stroke-width="0.15">Wi=0.50</text>
<text x="405.74" y="144.86" font-size="4.62" fill="#484848" text-anchor="start" font-family="'Liberation Sans',sans-serif" stroke="#484848" stroke-width="0.15">Wi=0.25</text>
<text x="411.45" y="141.08" font-size="4.61" fill="#484848" text-anchor="start" font-family="'Liberation Sans',sans-serif" stroke="#484848" stroke-width="0.15">Wi=0.00</text>
<text x="417.10" y="137.30" font-size="4.6" fill="#484848" text-anchor="start" font-family="'Liberation Sans',sans-serif" stroke="#484848" stroke-width="0.15">Wi=1.00</text>
<text x="422.69" y="133.52" font-size="4.59" fill="#484848" text-anchor="start" font-family="'Liberation Sans',sans-serif" stroke="#484848" stroke-width="0.15">Wi=0.75</text>
<text x="428.22" y="129.74" font-size="4.58" fill="#484848" text-anchor="start" font-family="'Liberation Sans',sans-serif" stroke="#484848" stroke-width="0.15">Wi=0.50</text>
<text x="433.70" y="125.96" font-size="4.57" fill="#484848" text-anchor="start" font-family="'Liberation Sans',sans-serif" stroke="#484848" stroke-width="0.15">Wi=0.25</text>
<text x="439.12" y="122.18" font-size="4.56" fill="#484848" text-anchor="start" font-family="'Liberation Sans',sans-serif" stroke="#484848" stroke-width="0.15">Wi=0.00</text>
<text x="444.48" y="118.40" font-size="4.55" fill="#484848" text-anchor="start" font-family="'Liberation Sans',sans-serif" stroke="#484848" stroke-width="0.15">Wi=1.00</text>
<text x="449.78" y="114.62" font-size="4.54" fill="#484848" text-anchor="start" font-family="'Liberation Sans',sans-serif" stroke="#484848" stroke-width="0.15">Wi=0.75</text>
<text x="455.02" y="110.84" font-size="4.53" fill="#484848" text-anchor="start" font-family="'Liberation Sans',sans-serif" stroke="#484848" stroke-width="0.15">Wi=0.50</text>
<text x="460.20" y="107.06" font-size="4.52" fill="#484848" text-anchor="start" font-family="'Liberation Sans',sans-serif" stroke="#484848" stroke-width="0.15">Wi=0.25</text>
<text x="465.33" y="103.28" font-size="4.51" fill="#484848" text-anchor="start" font-family="'Liberation Sans',sans-serif" stroke="#484848" stroke-width="0.15">Wi=0.00</text>
<text x="470.40" y="99.50" font-size="4.5" fill="#484848" text-anchor="start" font-family="'Liberation Sans',sans-serif" stroke="#484848" stroke-width="0.15">Wi=1.00</text>
<text x="475.41" y="95.72" font-size="4.49" fill="#484848" text-anchor="start" font-family="'Liberation Sans',sans-serif" stroke="#484848" stroke-width="0.15">Wi=0.75</text>
<text x="480.36" y="91.94" font-size="4.48" fill="#484848" text-anchor="start" font-family="'Liberation Sans',sans-serif" stroke="#484848" stroke-width="0.15">Wi=0.50</text>
<text x="485.26" y="88.16" font-size="4.47" fill="#484848" text-anchor="start" font-family="'Liberation Sans',sans-serif" stroke="#484848" stroke-width="0.15">Wi=0.25</text>
<text x="490.10" y="84.38" font-size="4.46" fill="#484848" text-anchor="start" font-family="'Liberation Sans',sans-serif" stroke="#484848" stroke-width="0.15">Wi=0.00</text>
<path d="M378.10 177.60 Q379.00 180.80 381.80 179.90 L403.90 164.50 Q405.70 163.30 404.70 161.50" fill="none" stroke="#7a7a7a" stroke-width="0.8"/>
<line x1="396.40" y1="173.00" x2="400.30" y2="175.50" stroke="#6a6a6a" stroke-width="0.8" />
<line x1="396.40" y1="173.00" x2="395.70" y2="171.40" stroke="#6a6a6a" stroke-width="0.8" />
<text x="394.50" y="193.00" font-size="7.9" fill="#333" text-anchor="start" transform="rotate(-35.50 394.50 193.00)" >Oi=0.00</text>
<path d="M405.30 158.70 Q406.20 161.90 409.00 161.00 L431.80 145.65 Q433.60 144.45 432.60 142.65" fill="none" stroke="#7a7a7a" stroke-width="0.8"/>
<line x1="423.80" y1="153.80" x2="427.70" y2="156.30" stroke="#6a6a6a" stroke-width="0.8" />
<line x1="423.80" y1="153.80" x2="423.10" y2="152.20" stroke="#6a6a6a" stroke-width="0.8" />
<text x="423.60" y="172.00" font-size="7.9" fill="#333" text-anchor="start" transform="rotate(-35.50 423.60 172.00)" >Oi=0.25</text>
<path d="M432.50 139.80 Q433.40 143.00 436.20 142.10 L459.70 126.80 Q461.50 125.60 460.50 123.80" fill="none" stroke="#7a7a7a" stroke-width="0.8"/>
<line x1="451.20" y1="134.60" x2="455.10" y2="137.10" stroke="#6a6a6a" stroke-width="0.8" />
<line x1="451.20" y1="134.60" x2="450.50" y2="133.00" stroke="#6a6a6a" stroke-width="0.8" />
<text x="452.70" y="151.00" font-size="7.9" fill="#333" text-anchor="start" transform="rotate(-35.50 452.70 151.00)" >Oi=0.50</text>
<path d="M459.70 120.90 Q460.60 124.10 463.40 123.20 L487.60 107.95 Q489.40 106.75 488.40 104.95" fill="none" stroke="#7a7a7a" stroke-width="0.8"/>
<line x1="478.60" y1="115.40" x2="482.50" y2="117.90" stroke="#6a6a6a" stroke-width="0.8" />
<line x1="478.60" y1="115.40" x2="477.90" y2="113.80" stroke="#6a6a6a" stroke-width="0.8" />
<text x="481.80" y="130.00" font-size="7.9" fill="#333" text-anchor="start" transform="rotate(-35.50 481.80 130.00)" >Oi=0.75</text>
<path d="M486.90 102.00 Q487.80 105.20 490.60 104.30 L515.50 89.10 Q517.30 87.90 516.30 86.10" fill="none" stroke="#7a7a7a" stroke-width="0.8"/>
<line x1="506.00" y1="96.20" x2="509.90" y2="98.70" stroke="#6a6a6a" stroke-width="0.8" />
<line x1="506.00" y1="96.20" x2="505.30" y2="94.60" stroke="#6a6a6a" stroke-width="0.8" />
<text x="510.90" y="109.00" font-size="7.9" fill="#333" text-anchor="start" transform="rotate(-35.50 510.90 109.00)" >Oi=1.00</text>
<text x="388.50" y="23.20" font-size="8.2" fill="#222" text-anchor="middle" >(b)</text>
<line x1="5.00" y1="248.50" x2="546.00" y2="248.50" stroke="#b4b4b4" stroke-width="1" />
<line x1="5.50" y1="248.50" x2="5.50" y2="498.50" stroke="#dcdcdc" stroke-width="1" />
<line x1="275.50" y1="248.50" x2="275.50" y2="498.50" stroke="#6a6a6a" stroke-width="1" />
<line x1="545.50" y1="248.50" x2="545.50" y2="498.50" stroke="#7a7a7a" stroke-width="1.2" />
<line x1="5.00" y1="498.50" x2="275.50" y2="498.50" stroke="#a4a4a4" stroke-width="1" />
<line x1="275.50" y1="498.30" x2="546.00" y2="498.30" stroke="#c4c4c4" stroke-width="1" />
<rect x="92.50" y="255.50" width="114.00" height="97.00" fill="#fff" stroke="#505050" stroke-width="0.85"/>
<polygon points="92.50,352.50 206.50,352.50 175.00,441.60 59.50,441.60" fill="#fffdf8" stroke="none"/>
<rect x="61.54" y="439.20" width="1.8" height="1.45" rx="0.45" fill="#8f7416"/>
<rect x="66.16" y="439.20" width="1.8" height="1.45" rx="0.45" fill="#8f7416"/>
<rect x="70.78" y="439.20" width="1.8" height="1.45" rx="0.45" fill="#8f7416"/>
<rect x="75.40" y="439.20" width="1.8" height="1.45" rx="0.45" fill="#8f7416"/>
<rect x="80.01" y="439.20" width="1.8" height="1.45" rx="0.45" fill="#8f7416"/>
<rect x="84.63" y="439.20" width="1.8" height="1.45" rx="0.45" fill="#8f7416"/>
<rect x="89.25" y="439.20" width="1.8" height="1.45" rx="0.45" fill="#8f7416"/>
<rect x="93.87" y="439.20" width="1.8" height="1.45" rx="0.45" fill="#8f7416"/>
<rect x="98.49" y="439.20" width="1.8" height="1.45" rx="0.45" fill="#8f7416"/>
<rect x="103.11" y="439.20" width="1.8" height="1.45" rx="0.45" fill="#8f7416"/>
<rect x="107.73" y="439.20" width="1.8" height="1.45" rx="0.45" fill="#8f7416"/>
<rect x="112.35" y="439.20" width="1.8" height="1.45" rx="0.45" fill="#8f7416"/>
<rect x="116.97" y="439.20" width="1.8" height="1.45" rx="0.45" fill="#8f7416"/>
<rect x="121.58" y="439.20" width="1.8" height="1.45" rx="0.45" fill="#8f7416"/>
<rect x="126.20" y="439.20" width="1.8" height="1.45" rx="0.45" fill="#8f7416"/>
<rect x="130.82" y="439.20" width="1.8" height="1.45" rx="0.45" fill="#8f7416"/>
<rect x="135.44" y="439.20" width="1.8" height="1.45" rx="0.45" fill="#8f7416"/>
<rect x="140.06" y="439.20" width="1.8" height="1.45" rx="0.45" fill="#8f7416"/>
<rect x="144.68" y="439.20" width="1.8" height="1.45" rx="0.45" fill="#8f7416"/>
<rect x="149.30" y="439.20" width="1.8" height="1.45" rx="0.45" fill="#8f7416"/>
<rect x="153.92" y="439.20" width="1.8" height="1.45" rx="0.45" fill="#8f7416"/>
<rect x="158.54" y="439.20" width="1.8" height="1.45" rx="0.45" fill="#8f7416"/>
<rect x="163.15" y="439.20" width="1.8" height="1.45" rx="0.45" fill="#8f7416"/>
<rect x="167.77" y="439.20" width="1.8" height="1.45" rx="0.45" fill="#8f7416"/>
<rect x="172.39" y="439.20" width="1.8" height="1.45" rx="0.45" fill="#8f7416"/>
<rect x="63.16" y="434.82" width="1.8" height="1.45" rx="0.45" fill="#8f7416"/>
<rect x="67.78" y="434.82" width="1.8" height="1.45" rx="0.45" fill="#8f7416"/>
<rect x="72.39" y="434.82" width="1.8" height="1.45" rx="0.45" fill="#8f7416"/>
<rect x="77.01" y="434.82" width="1.8" height="1.45" rx="0.45" fill="#8f7416"/>
<rect x="81.62" y="434.82" width="1.8" height="1.45" rx="0.45" fill="#8f7416"/>
<rect x="86.24" y="434.82" width="1.8" height="1.45" rx="0.45" fill="#8f7416"/>
<rect x="90.85" y="434.82" width="1.8" height="1.45" rx="0.45" fill="#8f7416"/>
<rect x="95.47" y="434.82" width="1.8" height="1.45" rx="0.45" fill="#8f7416"/>
<rect x="100.09" y="434.82" width="1.8" height="1.45" rx="0.45" fill="#8f7416"/>
<rect x="104.70" y="434.82" width="1.8" height="1.45" rx="0.45" fill="#8f7416"/>
<rect x="109.32" y="434.82" width="1.8" height="1.45" rx="0.45" fill="#8f7416"/>
<rect x="113.93" y="434.82" width="1.8" height="1.45" rx="0.45" fill="#8f7416"/>
<rect x="118.55" y="434.82" width="1.8" height="1.45" rx="0.45" fill="#8f7416"/>
<rect x="123.17" y="434.82" width="1.8" height="1.45" rx="0.45" fill="#8f7416"/>
<rect x="127.78" y="434.82" width="1.8" height="1.45" rx="0.45" fill="#8f7416"/>
<rect x="132.40" y="434.82" width="1.8" height="1.45" rx="0.45" fill="#8f7416"/>
<rect x="137.01" y="434.82" width="1.8" height="1.45" rx="0.45" fill="#8f7416"/>
<rect x="141.63" y="434.82" width="1.8" height="1.45" rx="0.45" fill="#8f7416"/>
<rect x="146.25" y="434.82" width="1.8" height="1.45" rx="0.45" fill="#8f7416"/>
<rect x="150.86" y="434.82" width="1.8" height="1.45" rx="0.45" fill="#8f7416"/>
<rect x="155.48" y="434.82" width="1.8" height="1.45" rx="0.45" fill="#8f7416"/>
<rect x="160.09" y="434.82" width="1.8" height="1.45" rx="0.45" fill="#8f7416"/>
<rect x="164.71" y="434.82" width="1.8" height="1.45" rx="0.45" fill="#8f7416"/>
<rect x="169.33" y="434.82" width="1.8" height="1.45" rx="0.45" fill="#8f7416"/>
<rect x="173.94" y="434.82" width="1.8" height="1.45" rx="0.45" fill="#8f7416"/>
<rect x="64.78" y="430.44" width="1.8" height="1.45" rx="0.45" fill="#8f7416"/>
<rect x="69.39" y="430.44" width="1.8" height="1.45" rx="0.45" fill="#8f7416"/>
<rect x="74.01" y="430.44" width="1.8" height="1.45" rx="0.45" fill="#8f7416"/>
<rect x="78.62" y="430.44" width="1.8" height="1.45" rx="0.45" fill="#8f7416"/>
<rect x="83.23" y="430.44" width="1.8" height="1.45" rx="0.45" fill="#8f7416"/>
<rect x="87.84" y="430.44" width="1.8" height="1.45" rx="0.45" fill="#8f7416"/>
<rect x="92.46" y="430.44" width="1.8" height="1.45" rx="0.45" fill="#8f7416"/>
<rect x="97.07" y="430.44" width="1.8" height="1.45" rx="0.45" fill="#8f7416"/>
<rect x="101.68" y="430.44" width="1.8" height="1.45" rx="0.45" fill="#8f7416"/>
<rect x="106.30" y="430.44" width="1.8" height="1.45" rx="0.45" fill="#8f7416"/>
<rect x="110.91" y="430.44" width="1.8" height="1.45" rx="0.45" fill="#8f7416"/>
<rect x="115.52" y="430.44" width="1.8" height="1.45" rx="0.45" fill="#8f7416"/>
<rect x="120.13" y="430.44" width="1.8" height="1.45" rx="0.45" fill="#8f7416"/>
<rect x="124.75" y="430.44" width="1.8" height="1.45" rx="0.45" fill="#8f7416"/>
<rect x="129.36" y="430.44" width="1.8" height="1.45" rx="0.45" fill="#8f7416"/>
<rect x="133.97" y="430.44" width="1.8" height="1.45" rx="0.45" fill="#8f7416"/>
<rect x="138.59" y="430.44" width="1.8" height="1.45" rx="0.45" fill="#8f7416"/>
<rect x="143.20" y="430.44" width="1.8" height="1.45" rx="0.45" fill="#8f7416"/>
<rect x="147.81" y="430.44" width="1.8" height="1.45" rx="0.45" fill="#8f7416"/>
<rect x="152.43" y="430.44" width="1.8" height="1.45" rx="0.45" fill="#8f7416"/>
<rect x="157.04" y="430.44" width="1.8" height="1.45" rx="0.45" fill="#8f7416"/>
<rect x="161.65" y="430.44" width="1.8" height="1.45" rx="0.45" fill="#8f7416"/>
<rect x="166.26" y="430.44" width="1.8" height="1.45" rx="0.45" fill="#8f7416"/>
<rect x="170.88" y="430.44" width="1.8" height="1.45" rx="0.45" fill="#8f7416"/>
<rect x="175.49" y="430.44" width="1.8" height="1.45" rx="0.45" fill="#8f7416"/>
<rect x="66.40" y="426.06" width="1.8" height="1.45" rx="0.45" fill="#8f7416"/>
<rect x="71.01" y="426.06" width="1.8" height="1.45" rx="0.45" fill="#8f7416"/>
<rect x="75.62" y="426.06" width="1.8" height="1.45" rx="0.45" fill="#8f7416"/>
<rect x="80.23" y="426.06" width="1.8" height="1.45" rx="0.45" fill="#8f7416"/>
<rect x="84.84" y="426.06" width="1.8" height="1.45" rx="0.45" fill="#8f7416"/>
<rect x="89.45" y="426.06" width="1.8" height="1.45" rx="0.45" fill="#8f7416"/>
<rect x="94.06" y="426.06" width="1.8" height="1.45" rx="0.45" fill="#8f7416"/>
<rect x="98.67" y="426.06" width="1.8" height="1.45" rx="0.45" fill="#8f7416"/>
<rect x="103.28" y="426.06" width="1.8" height="1.45" rx="0.45" fill="#8f7416"/>
<rect x="107.89" y="426.06" width="1.8" height="1.45" rx="0.45" fill="#8f7416"/>
<rect x="112.50" y="426.06" width="1.8" height="1.45" rx="0.45" fill="#8f7416"/>
<rect x="117.11" y="426.06" width="1.8" height="1.45" rx="0.45" fill="#8f7416"/>
<rect x="121.72" y="426.06" width="1.8" height="1.45" rx="0.45" fill="#8f7416"/>
<rect x="126.33" y="426.06" width="1.8" height="1.45" rx="0.45" fill="#8f7416"/>
<rect x="130.94" y="426.06" width="1.8" height="1.45" rx="0.45" fill="#8f7416"/>
<rect x="135.55" y="426.06" width="1.8" height="1.45" rx="0.45" fill="#8f7416"/>
<rect x="140.16" y="426.06" width="1.8" height="1.45" rx="0.45" fill="#8f7416"/>
<rect x="144.77" y="426.06" width="1.8" height="1.45" rx="0.45" fill="#8f7416"/>
<rect x="149.38" y="426.06" width="1.8" height="1.45" rx="0.45" fill="#8f7416"/>
<rect x="153.99" y="426.06" width="1.8" height="1.45" rx="0.45" fill="#8f7416"/>
<rect x="158.60" y="426.06" width="1.8" height="1.45" rx="0.45" fill="#8f7416"/>
<rect x="163.21" y="426.06" width="1.8" height="1.45" rx="0.45" fill="#8f7416"/>
<rect x="167.82" y="426.06" width="1.8" height="1.45" rx="0.45" fill="#8f7416"/>
<rect x="172.43" y="426.06" width="1.8" height="1.45" rx="0.45" fill="#8f7416"/>
<rect x="177.04" y="426.06" width="1.8" height="1.45" rx="0.45" fill="#8f7416"/>
<rect x="68.02" y="421.69" width="1.8" height="1.45" rx="0.45" fill="#9c7e18"/>
<rect x="72.63" y="421.69" width="1.8" height="1.45" rx="0.45" fill="#9c7e18"/>
<rect x="77.23" y="421.69" width="1.8" height="1.45" rx="0.45" fill="#9c7e18"/>
<rect x="81.84" y="421.69" width="1.8" height="1.45" rx="0.45" fill="#9c7e18"/>
<rect x="86.45" y="421.69" width="1.8" height="1.45" rx="0.45" fill="#9c7e18"/>
<rect x="91.05" y="421.69" width="1.8" height="1.45" rx="0.45" fill="#9c7e18"/>
<rect x="95.66" y="421.69" width="1.8" height="1.45" rx="0.45" fill="#9c7e18"/>
<rect x="100.27" y="421.69" width="1.8" height="1.45" rx="0.45" fill="#9c7e18"/>
<rect x="104.88" y="421.69" width="1.8" height="1.45" rx="0.45" fill="#9c7e18"/>
<rect x="109.48" y="421.69" width="1.8" height="1.45" rx="0.45" fill="#9c7e18"/>
<rect x="114.09" y="421.69" width="1.8" height="1.45" rx="0.45" fill="#9c7e18"/>
<rect x="118.70" y="421.69" width="1.8" height="1.45" rx="0.45" fill="#9c7e18"/>
<rect x="123.30" y="421.69" width="1.8" height="1.45" rx="0.45" fill="#9c7e18"/>
<rect x="127.91" y="421.69" width="1.8" height="1.45" rx="0.45" fill="#9c7e18"/>
<rect x="132.52" y="421.69" width="1.8" height="1.45" rx="0.45" fill="#9c7e18"/>
<rect x="137.13" y="421.69" width="1.8" height="1.45" rx="0.45" fill="#9c7e18"/>
<rect x="141.73" y="421.69" width="1.8" height="1.45" rx="0.45" fill="#9c7e18"/>
<rect x="146.34" y="421.69" width="1.8" height="1.45" rx="0.45" fill="#9c7e18"/>
<rect x="150.95" y="421.69" width="1.8" height="1.45" rx="0.45" fill="#9c7e18"/>
<rect x="155.55" y="421.69" width="1.8" height="1.45" rx="0.45" fill="#9c7e18"/>
<rect x="160.16" y="421.69" width="1.8" height="1.45" rx="0.45" fill="#9c7e18"/>
<rect x="164.77" y="421.69" width="1.8" height="1.45" rx="0.45" fill="#9c7e18"/>
<rect x="169.38" y="421.69" width="1.8" height="1.45" rx="0.45" fill="#9c7e18"/>
<rect x="173.98" y="421.69" width="1.8" height="1.45" rx="0.45" fill="#9c7e18"/>
<rect x="178.59" y="421.69" width="1.8" height="1.45" rx="0.45" fill="#9c7e18"/>
<rect x="69.64" y="417.31" width="1.8" height="1.45" rx="0.45" fill="#9c7e18"/>
<rect x="74.24" y="417.31" width="1.8" height="1.45" rx="0.45" fill="#9c7e18"/>
<rect x="78.85" y="417.31" width="1.8" height="1.45" rx="0.45" fill="#9c7e18"/>
<rect x="83.45" y="417.31" width="1.8" height="1.45" rx="0.45" fill="#9c7e18"/>
<rect x="88.06" y="417.31" width="1.8" height="1.45" rx="0.45" fill="#9c7e18"/>
<rect x="92.66" y="417.31" width="1.8" height="1.45" rx="0.45" fill="#9c7e18"/>
<rect x="97.26" y="417.31" width="1.8" height="1.45" rx="0.45" fill="#9c7e18"/>
<rect x="101.87" y="417.31" width="1.8" height="1.45" rx="0.45" fill="#9c7e18"/>
<rect x="106.47" y="417.31" width="1.8" height="1.45" rx="0.45" fill="#9c7e18"/>
<rect x="111.08" y="417.31" width="1.8" height="1.45" rx="0.45" fill="#9c7e18"/>
<rect x="115.68" y="417.31" width="1.8" height="1.45" rx="0.45" fill="#9c7e18"/>
<rect x="120.29" y="417.31" width="1.8" height="1.45" rx="0.45" fill="#9c7e18"/>
<rect x="124.89" y="417.31" width="1.8" height="1.45" rx="0.45" fill="#9c7e18"/>
<rect x="129.49" y="417.31" width="1.8" height="1.45" rx="0.45" fill="#9c7e18"/>
<rect x="134.10" y="417.31" width="1.8" height="1.45" rx="0.45" fill="#9c7e18"/>
<rect x="138.70" y="417.31" width="1.8" height="1.45" rx="0.45" fill="#9c7e18"/>
<rect x="143.31" y="417.31" width="1.8" height="1.45" rx="0.45" fill="#9c7e18"/>
<rect x="147.91" y="417.31" width="1.8" height="1.45" rx="0.45" fill="#9c7e18"/>
<rect x="152.51" y="417.31" width="1.8" height="1.45" rx="0.45" fill="#9c7e18"/>
<rect x="157.12" y="417.31" width="1.8" height="1.45" rx="0.45" fill="#9c7e18"/>
<rect x="161.72" y="417.31" width="1.8" height="1.45" rx="0.45" fill="#9c7e18"/>
<rect x="166.33" y="417.31" width="1.8" height="1.45" rx="0.45" fill="#9c7e18"/>
<rect x="170.93" y="417.31" width="1.8" height="1.45" rx="0.45" fill="#9c7e18"/>
<rect x="175.53" y="417.31" width="1.8" height="1.45" rx="0.45" fill="#9c7e18"/>
<rect x="180.14" y="417.31" width="1.8" height="1.45" rx="0.45" fill="#9c7e18"/>
<rect x="71.26" y="412.93" width="1.8" height="1.45" rx="0.45" fill="#9c7e18"/>
<rect x="75.86" y="412.93" width="1.8" height="1.45" rx="0.45" fill="#9c7e18"/>
<rect x="80.46" y="412.93" width="1.8" height="1.45" rx="0.45" fill="#9c7e18"/>
<rect x="85.06" y="412.93" width="1.8" height="1.45" rx="0.45" fill="#9c7e18"/>
<rect x="89.66" y="412.93" width="1.8" height="1.45" rx="0.45" fill="#9c7e18"/>
<rect x="94.27" y="412.93" width="1.8" height="1.45" rx="0.45" fill="#9c7e18"/>
<rect x="98.87" y="412.93" width="1.8" height="1.45" rx="0.45" fill="#9c7e18"/>
<rect x="103.47" y="412.93" width="1.8" height="1.45" rx="0.45" fill="#9c7e18"/>
<rect x="108.07" y="412.93" width="1.8" height="1.45" rx="0.45" fill="#9c7e18"/>
<rect x="112.67" y="412.93" width="1.8" height="1.45" rx="0.45" fill="#9c7e18"/>
<rect x="117.27" y="412.93" width="1.8" height="1.45" rx="0.45" fill="#9c7e18"/>
<rect x="121.87" y="412.93" width="1.8" height="1.45" rx="0.45" fill="#9c7e18"/>
<rect x="126.47" y="412.93" width="1.8" height="1.45" rx="0.45" fill="#9c7e18"/>
<rect x="131.08" y="412.93" width="1.8" height="1.45" rx="0.45" fill="#9c7e18"/>
<rect x="135.68" y="412.93" width="1.8" height="1.45" rx="0.45" fill="#9c7e18"/>
<rect x="140.28" y="412.93" width="1.8" height="1.45" rx="0.45" fill="#9c7e18"/>
<rect x="144.88" y="412.93" width="1.8" height="1.45" rx="0.45" fill="#9c7e18"/>
<rect x="149.48" y="412.93" width="1.8" height="1.45" rx="0.45" fill="#9c7e18"/>
<rect x="154.08" y="412.93" width="1.8" height="1.45" rx="0.45" fill="#9c7e18"/>
<rect x="158.68" y="412.93" width="1.8" height="1.45" rx="0.45" fill="#9c7e18"/>
<rect x="163.28" y="412.93" width="1.8" height="1.45" rx="0.45" fill="#9c7e18"/>
<rect x="167.88" y="412.93" width="1.8" height="1.45" rx="0.45" fill="#9c7e18"/>
<rect x="172.49" y="412.93" width="1.8" height="1.45" rx="0.45" fill="#9c7e18"/>
<rect x="177.09" y="412.93" width="1.8" height="1.45" rx="0.45" fill="#9c7e18"/>
<rect x="181.69" y="412.93" width="1.8" height="1.45" rx="0.45" fill="#9c7e18"/>
<rect x="72.88" y="408.55" width="1.8" height="1.45" rx="0.45" fill="#9c7e18"/>
<rect x="77.48" y="408.55" width="1.8" height="1.45" rx="0.45" fill="#9c7e18"/>
<rect x="82.08" y="408.55" width="1.8" height="1.45" rx="0.45" fill="#9c7e18"/>
<rect x="86.67" y="408.55" width="1.8" height="1.45" rx="0.45" fill="#9c7e18"/>
<rect x="91.27" y="408.55" width="1.8" height="1.45" rx="0.45" fill="#9c7e18"/>
<rect x="95.87" y="408.55" width="1.8" height="1.45" rx="0.45" fill="#9c7e18"/>
<rect x="100.47" y="408.55" width="1.8" height="1.45" rx="0.45" fill="#9c7e18"/>
<rect x="105.07" y="408.55" width="1.8" height="1.45" rx="0.45" fill="#9c7e18"/>
<rect x="109.67" y="408.55" width="1.8" height="1.45" rx="0.45" fill="#9c7e18"/>
<rect x="114.26" y="408.55" width="1.8" height="1.45" rx="0.45" fill="#9c7e18"/>
<rect x="118.86" y="408.55" width="1.8" height="1.45" rx="0.45" fill="#9c7e18"/>
<rect x="123.46" y="408.55" width="1.8" height="1.45" rx="0.45" fill="#9c7e18"/>
<rect x="128.06" y="408.55" width="1.8" height="1.45" rx="0.45" fill="#9c7e18"/>
<rect x="132.66" y="408.55" width="1.8" height="1.45" rx="0.45" fill="#9c7e18"/>
<rect x="137.26" y="408.55" width="1.8" height="1.45" rx="0.45" fill="#9c7e18"/>
<rect x="141.85" y="408.55" width="1.8" height="1.45" rx="0.45" fill="#9c7e18"/>
<rect x="146.45" y="408.55" width="1.8" height="1.45" rx="0.45" fill="#9c7e18"/>
<rect x="151.05" y="408.55" width="1.8" height="1.45" rx="0.45" fill="#9c7e18"/>
<rect x="155.65" y="408.55" width="1.8" height="1.45" rx="0.45" fill="#9c7e18"/>
<rect x="160.25" y="408.55" width="1.8" height="1.45" rx="0.45" fill="#9c7e18"/>
<rect x="164.84" y="408.55" width="1.8" height="1.45" rx="0.45" fill="#9c7e18"/>
<rect x="169.44" y="408.55" width="1.8" height="1.45" rx="0.45" fill="#9c7e18"/>
<rect x="174.04" y="408.55" width="1.8" height="1.45" rx="0.45" fill="#9c7e18"/>
<rect x="178.64" y="408.55" width="1.8" height="1.45" rx="0.45" fill="#9c7e18"/>
<rect x="183.24" y="408.55" width="1.8" height="1.45" rx="0.45" fill="#9c7e18"/>
<rect x="74.50" y="404.17" width="1.8" height="1.45" rx="0.45" fill="#ad8a1c"/>
<rect x="79.10" y="404.17" width="1.8" height="1.45" rx="0.45" fill="#ad8a1c"/>
<rect x="83.69" y="404.17" width="1.8" height="1.45" rx="0.45" fill="#ad8a1c"/>
<rect x="88.29" y="404.17" width="1.8" height="1.45" rx="0.45" fill="#ad8a1c"/>
<rect x="92.88" y="404.17" width="1.8" height="1.45" rx="0.45" fill="#ad8a1c"/>
<rect x="97.48" y="404.17" width="1.8" height="1.45" rx="0.45" fill="#ad8a1c"/>
<rect x="102.07" y="404.17" width="1.8" height="1.45" rx="0.45" fill="#ad8a1c"/>
<rect x="106.67" y="404.17" width="1.8" height="1.45" rx="0.45" fill="#ad8a1c"/>
<rect x="111.26" y="404.17" width="1.8" height="1.45" rx="0.45" fill="#ad8a1c"/>
<rect x="115.86" y="404.17" width="1.8" height="1.45" rx="0.45" fill="#ad8a1c"/>
<rect x="120.45" y="404.17" width="1.8" height="1.45" rx="0.45" fill="#ad8a1c"/>
<rect x="125.05" y="404.17" width="1.8" height="1.45" rx="0.45" fill="#ad8a1c"/>
<rect x="129.64" y="404.17" width="1.8" height="1.45" rx="0.45" fill="#ad8a1c"/>
<rect x="134.24" y="404.17" width="1.8" height="1.45" rx="0.45" fill="#ad8a1c"/>
<rect x="138.83" y="404.17" width="1.8" height="1.45" rx="0.45" fill="#ad8a1c"/>
<rect x="143.43" y="404.17" width="1.8" height="1.45" rx="0.45" fill="#ad8a1c"/>
<rect x="148.02" y="404.17" width="1.8" height="1.45" rx="0.45" fill="#ad8a1c"/>
<rect x="152.62" y="404.17" width="1.8" height="1.45" rx="0.45" fill="#ad8a1c"/>
<rect x="157.22" y="404.17" width="1.8" height="1.45" rx="0.45" fill="#ad8a1c"/>
<rect x="161.81" y="404.17" width="1.8" height="1.45" rx="0.45" fill="#ad8a1c"/>
<rect x="166.41" y="404.17" width="1.8" height="1.45" rx="0.45" fill="#ad8a1c"/>
<rect x="171.00" y="404.17" width="1.8" height="1.45" rx="0.45" fill="#ad8a1c"/>
<rect x="175.60" y="404.17" width="1.8" height="1.45" rx="0.45" fill="#ad8a1c"/>
<rect x="180.19" y="404.17" width="1.8" height="1.45" rx="0.45" fill="#ad8a1c"/>
<rect x="184.79" y="404.17" width="1.8" height="1.45" rx="0.45" fill="#ad8a1c"/>
<rect x="76.12" y="399.79" width="1.8" height="1.45" rx="0.45" fill="#ad8a1c"/>
<rect x="80.71" y="399.79" width="1.8" height="1.45" rx="0.45" fill="#ad8a1c"/>
<rect x="85.31" y="399.79" width="1.8" height="1.45" rx="0.45" fill="#ad8a1c"/>
<rect x="89.90" y="399.79" width="1.8" height="1.45" rx="0.45" fill="#ad8a1c"/>
<rect x="94.49" y="399.79" width="1.8" height="1.45" rx="0.45" fill="#ad8a1c"/>
<rect x="99.08" y="399.79" width="1.8" height="1.45" rx="0.45" fill="#ad8a1c"/>
<rect x="103.67" y="399.79" width="1.8" height="1.45" rx="0.45" fill="#ad8a1c"/>
<rect x="108.27" y="399.79" width="1.8" height="1.45" rx="0.45" fill="#ad8a1c"/>
<rect x="112.86" y="399.79" width="1.8" height="1.45" rx="0.45" fill="#ad8a1c"/>
<rect x="117.45" y="399.79" width="1.8" height="1.45" rx="0.45" fill="#ad8a1c"/>
<rect x="122.04" y="399.79" width="1.8" height="1.45" rx="0.45" fill="#ad8a1c"/>
<rect x="126.64" y="399.79" width="1.8" height="1.45" rx="0.45" fill="#ad8a1c"/>
<rect x="131.23" y="399.79" width="1.8" height="1.45" rx="0.45" fill="#ad8a1c"/>
<rect x="135.82" y="399.79" width="1.8" height="1.45" rx="0.45" fill="#ad8a1c"/>
<rect x="140.41" y="399.79" width="1.8" height="1.45" rx="0.45" fill="#ad8a1c"/>
<rect x="145.01" y="399.79" width="1.8" height="1.45" rx="0.45" fill="#ad8a1c"/>
<rect x="149.60" y="399.79" width="1.8" height="1.45" rx="0.45" fill="#ad8a1c"/>
<rect x="154.19" y="399.79" width="1.8" height="1.45" rx="0.45" fill="#ad8a1c"/>
<rect x="158.78" y="399.79" width="1.8" height="1.45" rx="0.45" fill="#ad8a1c"/>
<rect x="163.37" y="399.79" width="1.8" height="1.45" rx="0.45" fill="#ad8a1c"/>
<rect x="167.97" y="399.79" width="1.8" height="1.45" rx="0.45" fill="#ad8a1c"/>
<rect x="172.56" y="399.79" width="1.8" height="1.45" rx="0.45" fill="#ad8a1c"/>
<rect x="177.15" y="399.79" width="1.8" height="1.45" rx="0.45" fill="#ad8a1c"/>
<rect x="181.74" y="399.79" width="1.8" height="1.45" rx="0.45" fill="#ad8a1c"/>
<rect x="186.34" y="399.79" width="1.8" height="1.45" rx="0.45" fill="#ad8a1c"/>
<rect x="77.74" y="395.42" width="1.8" height="1.45" rx="0.45" fill="#ad8a1c"/>
<rect x="82.33" y="395.42" width="1.8" height="1.45" rx="0.45" fill="#ad8a1c"/>
<rect x="86.92" y="395.42" width="1.8" height="1.45" rx="0.45" fill="#ad8a1c"/>
<rect x="91.51" y="395.42" width="1.8" height="1.45" rx="0.45" fill="#ad8a1c"/>
<rect x="96.10" y="395.42" width="1.8" height="1.45" rx="0.45" fill="#ad8a1c"/>
<rect x="100.69" y="395.42" width="1.8" height="1.45" rx="0.45" fill="#ad8a1c"/>
<rect x="105.28" y="395.42" width="1.8" height="1.45" rx="0.45" fill="#ad8a1c"/>
<rect x="109.87" y="395.42" width="1.8" height="1.45" rx="0.45" fill="#ad8a1c"/>
<rect x="114.46" y="395.42" width="1.8" height="1.45" rx="0.45" fill="#ad8a1c"/>
<rect x="119.04" y="395.42" width="1.8" height="1.45" rx="0.45" fill="#ad8a1c"/>
<rect x="123.63" y="395.42" width="1.8" height="1.45" rx="0.45" fill="#ad8a1c"/>
<rect x="128.22" y="395.42" width="1.8" height="1.45" rx="0.45" fill="#ad8a1c"/>
<rect x="132.81" y="395.42" width="1.8" height="1.45" rx="0.45" fill="#ad8a1c"/>
<rect x="137.40" y="395.42" width="1.8" height="1.45" rx="0.45" fill="#ad8a1c"/>
<rect x="141.99" y="395.42" width="1.8" height="1.45" rx="0.45" fill="#ad8a1c"/>
<rect x="146.58" y="395.42" width="1.8" height="1.45" rx="0.45" fill="#ad8a1c"/>
<rect x="151.17" y="395.42" width="1.8" height="1.45" rx="0.45" fill="#ad8a1c"/>
<rect x="155.76" y="395.42" width="1.8" height="1.45" rx="0.45" fill="#ad8a1c"/>
<rect x="160.35" y="395.42" width="1.8" height="1.45" rx="0.45" fill="#ad8a1c"/>
<rect x="164.94" y="395.42" width="1.8" height="1.45" rx="0.45" fill="#ad8a1c"/>
<rect x="169.53" y="395.42" width="1.8" height="1.45" rx="0.45" fill="#ad8a1c"/>
<rect x="174.12" y="395.42" width="1.8" height="1.45" rx="0.45" fill="#ad8a1c"/>
<rect x="178.71" y="395.42" width="1.8" height="1.45" rx="0.45" fill="#ad8a1c"/>
<rect x="183.30" y="395.42" width="1.8" height="1.45" rx="0.45" fill="#ad8a1c"/>
<rect x="187.89" y="395.42" width="1.8" height="1.45" rx="0.45" fill="#ad8a1c"/>
<rect x="79.36" y="391.04" width="1.8" height="1.45" rx="0.45" fill="#ad8a1c"/>
<rect x="83.95" y="391.04" width="1.8" height="1.45" rx="0.45" fill="#ad8a1c"/>
<rect x="88.53" y="391.04" width="1.8" height="1.45" rx="0.45" fill="#ad8a1c"/>
<rect x="93.12" y="391.04" width="1.8" height="1.45" rx="0.45" fill="#ad8a1c"/>
<rect x="97.71" y="391.04" width="1.8" height="1.45" rx="0.45" fill="#ad8a1c"/>
<rect x="102.29" y="391.04" width="1.8" height="1.45" rx="0.45" fill="#ad8a1c"/>
<rect x="106.88" y="391.04" width="1.8" height="1.45" rx="0.45" fill="#ad8a1c"/>
<rect x="111.47" y="391.04" width="1.8" height="1.45" rx="0.45" fill="#ad8a1c"/>
<rect x="116.05" y="391.04" width="1.8" height="1.45" rx="0.45" fill="#ad8a1c"/>
<rect x="120.64" y="391.04" width="1.8" height="1.45" rx="0.45" fill="#ad8a1c"/>
<rect x="125.22" y="391.04" width="1.8" height="1.45" rx="0.45" fill="#ad8a1c"/>
<rect x="129.81" y="391.04" width="1.8" height="1.45" rx="0.45" fill="#ad8a1c"/>
<rect x="134.40" y="391.04" width="1.8" height="1.45" rx="0.45" fill="#ad8a1c"/>
<rect x="138.98" y="391.04" width="1.8" height="1.45" rx="0.45" fill="#ad8a1c"/>
<rect x="143.57" y="391.04" width="1.8" height="1.45" rx="0.45" fill="#ad8a1c"/>
<rect x="148.16" y="391.04" width="1.8" height="1.45" rx="0.45" fill="#ad8a1c"/>
<rect x="152.74" y="391.04" width="1.8" height="1.45" rx="0.45" fill="#ad8a1c"/>
<rect x="157.33" y="391.04" width="1.8" height="1.45" rx="0.45" fill="#ad8a1c"/>
<rect x="161.92" y="391.04" width="1.8" height="1.45" rx="0.45" fill="#ad8a1c"/>
<rect x="166.50" y="391.04" width="1.8" height="1.45" rx="0.45" fill="#ad8a1c"/>
<rect x="171.09" y="391.04" width="1.8" height="1.45" rx="0.45" fill="#ad8a1c"/>
<rect x="175.68" y="391.04" width="1.8" height="1.45" rx="0.45" fill="#ad8a1c"/>
<rect x="180.26" y="391.04" width="1.8" height="1.45" rx="0.45" fill="#ad8a1c"/>
<rect x="184.85" y="391.04" width="1.8" height="1.45" rx="0.45" fill="#ad8a1c"/>
<rect x="189.43" y="391.04" width="1.8" height="1.45" rx="0.45" fill="#ad8a1c"/>
<rect x="80.98" y="386.66" width="1.8" height="1.45" rx="0.45" fill="#c8a24a"/>
<rect x="85.56" y="386.66" width="1.8" height="1.45" rx="0.45" fill="#c8a24a"/>
<rect x="90.15" y="386.66" width="1.8" height="1.45" rx="0.45" fill="#c8a24a"/>
<rect x="94.73" y="386.66" width="1.8" height="1.45" rx="0.45" fill="#c8a24a"/>
<rect x="99.31" y="386.66" width="1.8" height="1.45" rx="0.45" fill="#c8a24a"/>
<rect x="103.90" y="386.66" width="1.8" height="1.45" rx="0.45" fill="#c8a24a"/>
<rect x="108.48" y="386.66" width="1.8" height="1.45" rx="0.45" fill="#c8a24a"/>
<rect x="113.07" y="386.66" width="1.8" height="1.45" rx="0.45" fill="#c8a24a"/>
<rect x="117.65" y="386.66" width="1.8" height="1.45" rx="0.45" fill="#c8a24a"/>
<rect x="122.23" y="386.66" width="1.8" height="1.45" rx="0.45" fill="#c8a24a"/>
<rect x="126.82" y="386.66" width="1.8" height="1.45" rx="0.45" fill="#c8a24a"/>
<rect x="131.40" y="386.66" width="1.8" height="1.45" rx="0.45" fill="#c8a24a"/>
<rect x="135.98" y="386.66" width="1.8" height="1.45" rx="0.45" fill="#c8a24a"/>
<rect x="140.57" y="386.66" width="1.8" height="1.45" rx="0.45" fill="#c8a24a"/>
<rect x="145.15" y="386.66" width="1.8" height="1.45" rx="0.45" fill="#c8a24a"/>
<rect x="149.73" y="386.66" width="1.8" height="1.45" rx="0.45" fill="#c8a24a"/>
<rect x="154.32" y="386.66" width="1.8" height="1.45" rx="0.45" fill="#c8a24a"/>
<rect x="158.90" y="386.66" width="1.8" height="1.45" rx="0.45" fill="#c8a24a"/>
<rect x="163.48" y="386.66" width="1.8" height="1.45" rx="0.45" fill="#c8a24a"/>
<rect x="168.07" y="386.66" width="1.8" height="1.45" rx="0.45" fill="#c8a24a"/>
<rect x="172.65" y="386.66" width="1.8" height="1.45" rx="0.45" fill="#c8a24a"/>
<rect x="177.23" y="386.66" width="1.8" height="1.45" rx="0.45" fill="#c8a24a"/>
<rect x="181.82" y="386.66" width="1.8" height="1.45" rx="0.45" fill="#c8a24a"/>
<rect x="186.40" y="386.66" width="1.8" height="1.45" rx="0.45" fill="#c8a24a"/>
<rect x="190.98" y="386.66" width="1.8" height="1.45" rx="0.45" fill="#c8a24a"/>
<rect x="82.60" y="382.28" width="1.8" height="1.45" rx="0.45" fill="#c8a24a"/>
<rect x="87.18" y="382.28" width="1.8" height="1.45" rx="0.45" fill="#c8a24a"/>
<rect x="91.76" y="382.28" width="1.8" height="1.45" rx="0.45" fill="#c8a24a"/>
<rect x="96.34" y="382.28" width="1.8" height="1.45" rx="0.45" fill="#c8a24a"/>
<rect x="100.92" y="382.28" width="1.8" height="1.45" rx="0.45" fill="#c8a24a"/>
<rect x="105.50" y="382.28" width="1.8" height="1.45" rx="0.45" fill="#c8a24a"/>
<rect x="110.08" y="382.28" width="1.8" height="1.45" rx="0.45" fill="#c8a24a"/>
<rect x="114.66" y="382.28" width="1.8" height="1.45" rx="0.45" fill="#c8a24a"/>
<rect x="119.25" y="382.28" width="1.8" height="1.45" rx="0.45" fill="#c8a24a"/>
<rect x="123.83" y="382.28" width="1.8" height="1.45" rx="0.45" fill="#c8a24a"/>
<rect x="128.41" y="382.28" width="1.8" height="1.45" rx="0.45" fill="#c8a24a"/>
<rect x="132.99" y="382.28" width="1.8" height="1.45" rx="0.45" fill="#c8a24a"/>
<rect x="137.57" y="382.28" width="1.8" height="1.45" rx="0.45" fill="#c8a24a"/>
<rect x="142.15" y="382.28" width="1.8" height="1.45" rx="0.45" fill="#c8a24a"/>
<rect x="146.73" y="382.28" width="1.8" height="1.45" rx="0.45" fill="#c8a24a"/>
<rect x="151.31" y="382.28" width="1.8" height="1.45" rx="0.45" fill="#c8a24a"/>
<rect x="155.89" y="382.28" width="1.8" height="1.45" rx="0.45" fill="#c8a24a"/>
<rect x="160.47" y="382.28" width="1.8" height="1.45" rx="0.45" fill="#c8a24a"/>
<rect x="165.05" y="382.28" width="1.8" height="1.45" rx="0.45" fill="#c8a24a"/>
<rect x="169.63" y="382.28" width="1.8" height="1.45" rx="0.45" fill="#c8a24a"/>
<rect x="174.21" y="382.28" width="1.8" height="1.45" rx="0.45" fill="#c8a24a"/>
<rect x="178.79" y="382.28" width="1.8" height="1.45" rx="0.45" fill="#c8a24a"/>
<rect x="183.37" y="382.28" width="1.8" height="1.45" rx="0.45" fill="#c8a24a"/>
<rect x="187.95" y="382.28" width="1.8" height="1.45" rx="0.45" fill="#c8a24a"/>
<rect x="192.53" y="382.28" width="1.8" height="1.45" rx="0.45" fill="#c8a24a"/>
<rect x="84.22" y="377.90" width="1.8" height="1.45" rx="0.45" fill="#c8a24a"/>
<rect x="88.80" y="377.90" width="1.8" height="1.45" rx="0.45" fill="#c8a24a"/>
<rect x="93.38" y="377.90" width="1.8" height="1.45" rx="0.45" fill="#c8a24a"/>
<rect x="97.95" y="377.90" width="1.8" height="1.45" rx="0.45" fill="#c8a24a"/>
<rect x="102.53" y="377.90" width="1.8" height="1.45" rx="0.45" fill="#c8a24a"/>
<rect x="107.11" y="377.90" width="1.8" height="1.45" rx="0.45" fill="#c8a24a"/>
<rect x="111.69" y="377.90" width="1.8" height="1.45" rx="0.45" fill="#c8a24a"/>
<rect x="116.26" y="377.90" width="1.8" height="1.45" rx="0.45" fill="#c8a24a"/>
<rect x="120.84" y="377.90" width="1.8" height="1.45" rx="0.45" fill="#c8a24a"/>
<rect x="125.42" y="377.90" width="1.8" height="1.45" rx="0.45" fill="#c8a24a"/>
<rect x="130.00" y="377.90" width="1.8" height="1.45" rx="0.45" fill="#c8a24a"/>
<rect x="134.57" y="377.90" width="1.8" height="1.45" rx="0.45" fill="#c8a24a"/>
<rect x="139.15" y="377.90" width="1.8" height="1.45" rx="0.45" fill="#c8a24a"/>
<rect x="143.73" y="377.90" width="1.8" height="1.45" rx="0.45" fill="#c8a24a"/>
<rect x="148.31" y="377.90" width="1.8" height="1.45" rx="0.45" fill="#c8a24a"/>
<rect x="152.88" y="377.90" width="1.8" height="1.45" rx="0.45" fill="#c8a24a"/>
<rect x="157.46" y="377.90" width="1.8" height="1.45" rx="0.45" fill="#c8a24a"/>
<rect x="162.04" y="377.90" width="1.8" height="1.45" rx="0.45" fill="#c8a24a"/>
<rect x="166.62" y="377.90" width="1.8" height="1.45" rx="0.45" fill="#c8a24a"/>
<rect x="171.20" y="377.90" width="1.8" height="1.45" rx="0.45" fill="#c8a24a"/>
<rect x="175.77" y="377.90" width="1.8" height="1.45" rx="0.45" fill="#c8a24a"/>
<rect x="180.35" y="377.90" width="1.8" height="1.45" rx="0.45" fill="#c8a24a"/>
<rect x="184.93" y="377.90" width="1.8" height="1.45" rx="0.45" fill="#c8a24a"/>
<rect x="189.51" y="377.90" width="1.8" height="1.45" rx="0.45" fill="#c8a24a"/>
<rect x="194.08" y="377.90" width="1.8" height="1.45" rx="0.45" fill="#c8a24a"/>
<rect x="85.84" y="373.52" width="1.8" height="1.45" rx="0.45" fill="#c8a24a"/>
<rect x="90.42" y="373.52" width="1.8" height="1.45" rx="0.45" fill="#c8a24a"/>
<rect x="94.99" y="373.52" width="1.8" height="1.45" rx="0.45" fill="#c8a24a"/>
<rect x="99.57" y="373.52" width="1.8" height="1.45" rx="0.45" fill="#c8a24a"/>
<rect x="104.14" y="373.52" width="1.8" height="1.45" rx="0.45" fill="#c8a24a"/>
<rect x="108.71" y="373.52" width="1.8" height="1.45" rx="0.45" fill="#c8a24a"/>
<rect x="113.29" y="373.52" width="1.8" height="1.45" rx="0.45" fill="#c8a24a"/>
<rect x="117.86" y="373.52" width="1.8" height="1.45" rx="0.45" fill="#c8a24a"/>
<rect x="122.44" y="373.52" width="1.8" height="1.45" rx="0.45" fill="#c8a24a"/>
<rect x="127.01" y="373.52" width="1.8" height="1.45" rx="0.45" fill="#c8a24a"/>
<rect x="131.59" y="373.52" width="1.8" height="1.45" rx="0.45" fill="#c8a24a"/>
<rect x="136.16" y="373.52" width="1.8" height="1.45" rx="0.45" fill="#c8a24a"/>
<rect x="140.74" y="373.52" width="1.8" height="1.45" rx="0.45" fill="#c8a24a"/>
<rect x="145.31" y="373.52" width="1.8" height="1.45" rx="0.45" fill="#c8a24a"/>
<rect x="149.89" y="373.52" width="1.8" height="1.45" rx="0.45" fill="#c8a24a"/>
<rect x="154.46" y="373.52" width="1.8" height="1.45" rx="0.45" fill="#c8a24a"/>
<rect x="159.04" y="373.52" width="1.8" height="1.45" rx="0.45" fill="#c8a24a"/>
<rect x="163.61" y="373.52" width="1.8" height="1.45" rx="0.45" fill="#c8a24a"/>
<rect x="168.18" y="373.52" width="1.8" height="1.45" rx="0.45" fill="#c8a24a"/>
<rect x="172.76" y="373.52" width="1.8" height="1.45" rx="0.45" fill="#c8a24a"/>
<rect x="177.33" y="373.52" width="1.8" height="1.45" rx="0.45" fill="#c8a24a"/>
<rect x="181.91" y="373.52" width="1.8" height="1.45" rx="0.45" fill="#c8a24a"/>
<rect x="186.48" y="373.52" width="1.8" height="1.45" rx="0.45" fill="#c8a24a"/>
<rect x="191.06" y="373.52" width="1.8" height="1.45" rx="0.45" fill="#c8a24a"/>
<rect x="195.63" y="373.52" width="1.8" height="1.45" rx="0.45" fill="#c8a24a"/>
<rect x="87.46" y="369.15" width="1.8" height="1.45" rx="0.45" fill="#d8bc84"/>
<rect x="92.03" y="369.15" width="1.8" height="1.45" rx="0.45" fill="#d8bc84"/>
<rect x="96.60" y="369.15" width="1.8" height="1.45" rx="0.45" fill="#d8bc84"/>
<rect x="101.18" y="369.15" width="1.8" height="1.45" rx="0.45" fill="#d8bc84"/>
<rect x="105.75" y="369.15" width="1.8" height="1.45" rx="0.45" fill="#d8bc84"/>
<rect x="110.32" y="369.15" width="1.8" height="1.45" rx="0.45" fill="#d8bc84"/>
<rect x="114.89" y="369.15" width="1.8" height="1.45" rx="0.45" fill="#d8bc84"/>
<rect x="119.46" y="369.15" width="1.8" height="1.45" rx="0.45" fill="#d8bc84"/>
<rect x="124.03" y="369.15" width="1.8" height="1.45" rx="0.45" fill="#d8bc84"/>
<rect x="128.61" y="369.15" width="1.8" height="1.45" rx="0.45" fill="#d8bc84"/>
<rect x="133.18" y="369.15" width="1.8" height="1.45" rx="0.45" fill="#d8bc84"/>
<rect x="137.75" y="369.15" width="1.8" height="1.45" rx="0.45" fill="#d8bc84"/>
<rect x="142.32" y="369.15" width="1.8" height="1.45" rx="0.45" fill="#d8bc84"/>
<rect x="146.89" y="369.15" width="1.8" height="1.45" rx="0.45" fill="#d8bc84"/>
<rect x="151.46" y="369.15" width="1.8" height="1.45" rx="0.45" fill="#d8bc84"/>
<rect x="156.04" y="369.15" width="1.8" height="1.45" rx="0.45" fill="#d8bc84"/>
<rect x="160.61" y="369.15" width="1.8" height="1.45" rx="0.45" fill="#d8bc84"/>
<rect x="165.18" y="369.15" width="1.8" height="1.45" rx="0.45" fill="#d8bc84"/>
<rect x="169.75" y="369.15" width="1.8" height="1.45" rx="0.45" fill="#d8bc84"/>
<rect x="174.32" y="369.15" width="1.8" height="1.45" rx="0.45" fill="#d8bc84"/>
<rect x="178.90" y="369.15" width="1.8" height="1.45" rx="0.45" fill="#d8bc84"/>
<rect x="183.47" y="369.15" width="1.8" height="1.45" rx="0.45" fill="#d8bc84"/>
<rect x="188.04" y="369.15" width="1.8" height="1.45" rx="0.45" fill="#d8bc84"/>
<rect x="192.61" y="369.15" width="1.8" height="1.45" rx="0.45" fill="#d8bc84"/>
<rect x="197.18" y="369.15" width="1.8" height="1.45" rx="0.45" fill="#d8bc84"/>
<rect x="89.08" y="364.77" width="1.8" height="1.45" rx="0.45" fill="#d8bc84"/>
<rect x="93.65" y="364.77" width="1.8" height="1.45" rx="0.45" fill="#d8bc84"/>
<rect x="98.22" y="364.77" width="1.8" height="1.45" rx="0.45" fill="#d8bc84"/>
<rect x="102.79" y="364.77" width="1.8" height="1.45" rx="0.45" fill="#d8bc84"/>
<rect x="107.36" y="364.77" width="1.8" height="1.45" rx="0.45" fill="#d8bc84"/>
<rect x="111.93" y="364.77" width="1.8" height="1.45" rx="0.45" fill="#d8bc84"/>
<rect x="116.49" y="364.77" width="1.8" height="1.45" rx="0.45" fill="#d8bc84"/>
<rect x="121.06" y="364.77" width="1.8" height="1.45" rx="0.45" fill="#d8bc84"/>
<rect x="125.63" y="364.77" width="1.8" height="1.45" rx="0.45" fill="#d8bc84"/>
<rect x="130.20" y="364.77" width="1.8" height="1.45" rx="0.45" fill="#d8bc84"/>
<rect x="134.77" y="364.77" width="1.8" height="1.45" rx="0.45" fill="#d8bc84"/>
<rect x="139.34" y="364.77" width="1.8" height="1.45" rx="0.45" fill="#d8bc84"/>
<rect x="143.91" y="364.77" width="1.8" height="1.45" rx="0.45" fill="#d8bc84"/>
<rect x="148.48" y="364.77" width="1.8" height="1.45" rx="0.45" fill="#d8bc84"/>
<rect x="153.04" y="364.77" width="1.8" height="1.45" rx="0.45" fill="#d8bc84"/>
<rect x="157.61" y="364.77" width="1.8" height="1.45" rx="0.45" fill="#d8bc84"/>
<rect x="162.18" y="364.77" width="1.8" height="1.45" rx="0.45" fill="#d8bc84"/>
<rect x="166.75" y="364.77" width="1.8" height="1.45" rx="0.45" fill="#d8bc84"/>
<rect x="171.32" y="364.77" width="1.8" height="1.45" rx="0.45" fill="#d8bc84"/>
<rect x="175.89" y="364.77" width="1.8" height="1.45" rx="0.45" fill="#d8bc84"/>
<rect x="180.46" y="364.77" width="1.8" height="1.45" rx="0.45" fill="#d8bc84"/>
<rect x="185.02" y="364.77" width="1.8" height="1.45" rx="0.45" fill="#d8bc84"/>
<rect x="189.59" y="364.77" width="1.8" height="1.45" rx="0.45" fill="#d8bc84"/>
<rect x="194.16" y="364.77" width="1.8" height="1.45" rx="0.45" fill="#d8bc84"/>
<rect x="198.73" y="364.77" width="1.8" height="1.45" rx="0.45" fill="#d8bc84"/>
<rect x="90.70" y="360.39" width="1.8" height="1.45" rx="0.45" fill="#d8bc84"/>
<rect x="95.27" y="360.39" width="1.8" height="1.45" rx="0.45" fill="#d8bc84"/>
<rect x="99.83" y="360.39" width="1.8" height="1.45" rx="0.45" fill="#d8bc84"/>
<rect x="104.40" y="360.39" width="1.8" height="1.45" rx="0.45" fill="#d8bc84"/>
<rect x="108.96" y="360.39" width="1.8" height="1.45" rx="0.45" fill="#d8bc84"/>
<rect x="113.53" y="360.39" width="1.8" height="1.45" rx="0.45" fill="#d8bc84"/>
<rect x="118.10" y="360.39" width="1.8" height="1.45" rx="0.45" fill="#d8bc84"/>
<rect x="122.66" y="360.39" width="1.8" height="1.45" rx="0.45" fill="#d8bc84"/>
<rect x="127.23" y="360.39" width="1.8" height="1.45" rx="0.45" fill="#d8bc84"/>
<rect x="131.79" y="360.39" width="1.8" height="1.45" rx="0.45" fill="#d8bc84"/>
<rect x="136.36" y="360.39" width="1.8" height="1.45" rx="0.45" fill="#d8bc84"/>
<rect x="140.93" y="360.39" width="1.8" height="1.45" rx="0.45" fill="#d8bc84"/>
<rect x="145.49" y="360.39" width="1.8" height="1.45" rx="0.45" fill="#d8bc84"/>
<rect x="150.06" y="360.39" width="1.8" height="1.45" rx="0.45" fill="#d8bc84"/>
<rect x="154.62" y="360.39" width="1.8" height="1.45" rx="0.45" fill="#d8bc84"/>
<rect x="159.19" y="360.39" width="1.8" height="1.45" rx="0.45" fill="#d8bc84"/>
<rect x="163.75" y="360.39" width="1.8" height="1.45" rx="0.45" fill="#d8bc84"/>
<rect x="168.32" y="360.39" width="1.8" height="1.45" rx="0.45" fill="#d8bc84"/>
<rect x="172.89" y="360.39" width="1.8" height="1.45" rx="0.45" fill="#d8bc84"/>
<rect x="177.45" y="360.39" width="1.8" height="1.45" rx="0.45" fill="#d8bc84"/>
<rect x="182.02" y="360.39" width="1.8" height="1.45" rx="0.45" fill="#d8bc84"/>
<rect x="186.58" y="360.39" width="1.8" height="1.45" rx="0.45" fill="#d8bc84"/>
<rect x="191.15" y="360.39" width="1.8" height="1.45" rx="0.45" fill="#d8bc84"/>
<rect x="195.71" y="360.39" width="1.8" height="1.45" rx="0.45" fill="#d8bc84"/>
<rect x="200.28" y="360.39" width="1.8" height="1.45" rx="0.45" fill="#d8bc84"/>
<rect x="92.32" y="356.01" width="1.8" height="1.45" rx="0.45" fill="#d8bc84"/>
<rect x="96.88" y="356.01" width="1.8" height="1.45" rx="0.45" fill="#d8bc84"/>
<rect x="101.45" y="356.01" width="1.8" height="1.45" rx="0.45" fill="#d8bc84"/>
<rect x="106.01" y="356.01" width="1.8" height="1.45" rx="0.45" fill="#d8bc84"/>
<rect x="110.57" y="356.01" width="1.8" height="1.45" rx="0.45" fill="#d8bc84"/>
<rect x="115.14" y="356.01" width="1.8" height="1.45" rx="0.45" fill="#d8bc84"/>
<rect x="119.70" y="356.01" width="1.8" height="1.45" rx="0.45" fill="#d8bc84"/>
<rect x="124.26" y="356.01" width="1.8" height="1.45" rx="0.45" fill="#d8bc84"/>
<rect x="128.82" y="356.01" width="1.8" height="1.45" rx="0.45" fill="#d8bc84"/>
<rect x="133.39" y="356.01" width="1.8" height="1.45" rx="0.45" fill="#d8bc84"/>
<rect x="137.95" y="356.01" width="1.8" height="1.45" rx="0.45" fill="#d8bc84"/>
<rect x="142.51" y="356.01" width="1.8" height="1.45" rx="0.45" fill="#d8bc84"/>
<rect x="147.08" y="356.01" width="1.8" height="1.45" rx="0.45" fill="#d8bc84"/>
<rect x="151.64" y="356.01" width="1.8" height="1.45" rx="0.45" fill="#d8bc84"/>
<rect x="156.20" y="356.01" width="1.8" height="1.45" rx="0.45" fill="#d8bc84"/>
<rect x="160.76" y="356.01" width="1.8" height="1.45" rx="0.45" fill="#d8bc84"/>
<rect x="165.33" y="356.01" width="1.8" height="1.45" rx="0.45" fill="#d8bc84"/>
<rect x="169.89" y="356.01" width="1.8" height="1.45" rx="0.45" fill="#d8bc84"/>
<rect x="174.45" y="356.01" width="1.8" height="1.45" rx="0.45" fill="#d8bc84"/>
<rect x="179.02" y="356.01" width="1.8" height="1.45" rx="0.45" fill="#d8bc84"/>
<rect x="183.58" y="356.01" width="1.8" height="1.45" rx="0.45" fill="#d8bc84"/>
<rect x="188.14" y="356.01" width="1.8" height="1.45" rx="0.45" fill="#d8bc84"/>
<rect x="192.70" y="356.01" width="1.8" height="1.45" rx="0.45" fill="#d8bc84"/>
<rect x="197.27" y="356.01" width="1.8" height="1.45" rx="0.45" fill="#d8bc84"/>
<rect x="201.83" y="356.01" width="1.8" height="1.45" rx="0.45" fill="#d8bc84"/>
<line x1="59.50" y1="441.60" x2="92.50" y2="352.50" stroke="#444" stroke-width="0.9" />
<line x1="59.50" y1="441.60" x2="175.00" y2="441.60" stroke="#444" stroke-width="1.0" />
<line x1="206.50" y1="352.50" x2="175.00" y2="441.60" stroke="#445" stroke-width="0.9" stroke-dasharray="1.2 1.1"/>
<line x1="92.50" y1="352.50" x2="206.50" y2="352.50" stroke="#5a5a5a" stroke-width="0.85" />
<line x1="59.50" y1="344.50" x2="59.50" y2="441.60" stroke="#555" stroke-width="0.9" />
<line x1="59.50" y1="344.50" x2="92.50" y2="255.50" stroke="#444" stroke-width="0.9" />
<line x1="59.50" y1="441.60" x2="62.30" y2="441.60" stroke="#555" stroke-width="0.8" />
<text x="51.50" y="444.40" font-size="8.1" fill="#222" text-anchor="end" >0.00</text>
<line x1="59.50" y1="425.42" x2="62.30" y2="425.42" stroke="#555" stroke-width="0.8" />
<text x="51.50" y="428.22" font-size="8.1" fill="#222" text-anchor="end" >0.01</text>
<line x1="59.50" y1="409.23" x2="62.30" y2="409.23" stroke="#555" stroke-width="0.8" />
<text x="51.50" y="412.03" font-size="8.1" fill="#222" text-anchor="end" >0.02</text>
<line x1="59.50" y1="393.05" x2="62.30" y2="393.05" stroke="#555" stroke-width="0.8" />
<text x="51.50" y="395.85" font-size="8.1" fill="#222" text-anchor="end" >0.03</text>
<line x1="59.50" y1="376.87" x2="62.30" y2="376.87" stroke="#555" stroke-width="0.8" />
<text x="51.50" y="379.67" font-size="8.1" fill="#222" text-anchor="end" >0.04</text>
<line x1="59.50" y1="360.68" x2="62.30" y2="360.68" stroke="#555" stroke-width="0.8" />
<text x="51.50" y="363.48" font-size="8.1" fill="#222" text-anchor="end" >0.05</text>
<line x1="59.50" y1="344.50" x2="62.30" y2="344.50" stroke="#555" stroke-width="0.8" />
<text x="51.50" y="347.30" font-size="8.1" fill="#222" text-anchor="end" >0.06</text>
<text x="24.20" y="394.05" font-size="9" fill="#222" text-anchor="middle" transform="rotate(-90.00 24.20 394.05)" >Relative frequency</text>
<rect x="148.70" y="329.00" width="2.60" height="28.80" fill="url(#gl)"/>
<rect x="100.50" y="323.00" width="2.20" height="37.00" fill="url(#gc)"/>
<rect x="139.90" y="345.50" width="2.20" height="17.20" fill="url(#gc)"/>
<rect x="103.40" y="345.30" width="2.20" height="18.20" fill="url(#gc)"/>
<rect x="116.40" y="345.00" width="2.20" height="18.50" fill="url(#gc)"/>
<rect x="194.30" y="329.00" width="2.60" height="37.80" fill="url(#gl)"/>
<rect x="145.60" y="341.00" width="2.20" height="30.00" fill="url(#gc)"/>
<rect x="182.20" y="354.50" width="2.60" height="16.50" fill="url(#gl)"/>
<rect x="98.50" y="289.00" width="2.60" height="84.60" fill="url(#gl)"/>
<rect x="121.00" y="341.00" width="2.60" height="32.60" fill="url(#gl)"/>
<rect x="114.30" y="341.00" width="2.20" height="37.00" fill="url(#gc)"/>
<rect x="133.30" y="362.70" width="2.20" height="16.30" fill="url(#gc)"/>
<rect x="119.20" y="362.70" width="2.60" height="16.80" fill="url(#gl)"/>
<rect x="141.70" y="362.70" width="2.60" height="19.70" fill="url(#gl)"/>
<rect x="82.80" y="375.80" width="2.60" height="16.70" fill="url(#gg)"/>
<rect x="114.70" y="362.00" width="2.60" height="32.00" fill="url(#gl)"/>
<rect x="159.10" y="358.60" width="2.60" height="36.40" fill="url(#gg)"/>
<rect x="93.00" y="376.00" width="2.60" height="21.00" fill="url(#gg)"/>
<rect x="136.70" y="375.80" width="2.60" height="21.20" fill="url(#gl)"/>
<rect x="157.00" y="360.00" width="2.60" height="37.00" fill="url(#gg)"/>
<rect x="90.10" y="362.70" width="2.60" height="35.70" fill="url(#gg)"/>
<rect x="102.40" y="379.50" width="2.60" height="20.50" fill="url(#gg)"/>
<rect x="180.60" y="384.80" width="2.60" height="15.60" fill="url(#gg)"/>
<rect x="111.90" y="349.60" width="2.60" height="51.70" fill="url(#gg)"/>
<rect x="108.20" y="358.40" width="2.60" height="50.10" fill="url(#gg)"/>
<rect x="126.50" y="375.50" width="2.60" height="36.00" fill="url(#gg)"/>
<rect x="153.70" y="389.00" width="3.00" height="24.50" fill="url(#gk)"/>
<ellipse cx="155.20" cy="389.30" rx="1.50" ry="0.9" fill="#9c7408" opacity="0.75"/>
<ellipse cx="155.20" cy="413.50" rx="1.50" ry="0.8" fill="url(#gk)"/>
<rect x="129.30" y="393.00" width="2.60" height="21.00" fill="url(#gg)"/>
<rect x="85.00" y="392.50" width="2.60" height="21.90" fill="url(#gk)"/>
<rect x="119.40" y="401.30" width="2.60" height="17.40" fill="url(#gk)"/>
<rect x="140.70" y="405.30" width="2.60" height="16.30" fill="url(#gk)"/>
<rect x="104.90" y="401.00" width="2.60" height="22.00" fill="url(#gk)"/>
<rect x="123.60" y="396.00" width="2.60" height="35.80" fill="url(#gk)"/>
<rect x="101.30" y="400.00" width="2.60" height="32.00" fill="url(#gb)"/>
<rect x="95.70" y="405.60" width="2.60" height="29.40" fill="url(#gb)"/>
<rect x="76.20" y="418.70" width="2.60" height="17.50" fill="url(#gb)"/>
<rect x="65.60" y="422.40" width="2.60" height="17.40" fill="url(#gb)"/>
<rect x="98.00" y="388.00" width="3.20" height="52.50" fill="url(#gb)"/>
<ellipse cx="99.60" cy="388.30" rx="1.60" ry="0.9" fill="#7c5e08" opacity="0.75"/>
<ellipse cx="99.60" cy="440.50" rx="1.60" ry="0.8" fill="url(#gb)"/>
<text x="64.80" y="446.80" font-size="7.4" fill="#222" text-anchor="end" transform="rotate(-90.00 64.80 446.80)" >Ci=0.00</text>
<text x="73.90" y="446.80" font-size="7.4" fill="#222" text-anchor="end" transform="rotate(-90.00 73.90 446.80)" >Ci=0.50</text>
<text x="83.00" y="446.80" font-size="7.4" fill="#222" text-anchor="end" transform="rotate(-90.00 83.00 446.80)" >Ci=1.00</text>
<text x="92.10" y="446.80" font-size="7.4" fill="#222" text-anchor="end" transform="rotate(-90.00 92.10 446.80)" >Ci=0.25</text>
<text x="101.20" y="446.80" font-size="7.4" fill="#222" text-anchor="end" transform="rotate(-90.00 101.20 446.80)" >Ci=0.75</text>
<text x="110.30" y="446.80" font-size="7.4" fill="#222" text-anchor="end" transform="rotate(-90.00 110.30 446.80)" >Ci=0.00</text>
<text x="119.40" y="446.80" font-size="7.4" fill="#222" text-anchor="end" transform="rotate(-90.00 119.40 446.80)" >Ci=0.50</text>
<text x="128.50" y="446.80" font-size="7.4" fill="#222" text-anchor="end" transform="rotate(-90.00 128.50 446.80)" >Ci=1.00</text>
<text x="137.60" y="446.80" font-size="7.4" fill="#222" text-anchor="end" transform="rotate(-90.00 137.60 446.80)" >Ci=0.25</text>
<text x="146.70" y="446.80" font-size="7.4" fill="#222" text-anchor="end" transform="rotate(-90.00 146.70 446.80)" >Ci=0.75</text>
<text x="155.80" y="446.80" font-size="7.4" fill="#222" text-anchor="end" transform="rotate(-90.00 155.80 446.80)" >Ci=0.00</text>
<text x="164.90" y="446.80" font-size="7.4" fill="#222" text-anchor="end" transform="rotate(-90.00 164.90 446.80)" >Ci=0.50</text>
<text x="174.00" y="446.80" font-size="7.4" fill="#222" text-anchor="end" transform="rotate(-90.00 174.00 446.80)" >Ci=1.00</text>
<path d="M59.90 472.80 L59.90 474.00 L80.80 474.00 L80.80 472.80 M70.35 474.00 l0 2.6" fill="none" stroke="#777" stroke-width="0.8"/>
<path d="M83.00 472.80 L83.00 474.00 L103.90 474.00 L103.90 472.80 M93.45 474.00 l0 2.6" fill="none" stroke="#777" stroke-width="0.8"/>
<path d="M106.10 472.80 L106.10 474.00 L127.00 474.00 L127.00 472.80 M116.55 474.00 l0 2.6" fill="none" stroke="#777" stroke-width="0.8"/>
<path d="M129.20 472.80 L129.20 474.00 L150.10 474.00 L150.10 472.80 M139.65 474.00 l0 2.6" fill="none" stroke="#777" stroke-width="0.8"/>
<path d="M152.30 472.80 L152.30 474.00 L173.20 474.00 L173.20 472.80 M162.75 474.00 l0 2.6" fill="none" stroke="#777" stroke-width="0.8"/>
<text x="59.00" y="488.40" font-size="6.3" fill="#222" text-anchor="start" >Mi=0.00</text>
<text x="83.50" y="488.40" font-size="6.3" fill="#222" text-anchor="start" >Mi=0.25</text>
<text x="108.20" y="488.40" font-size="6.3" fill="#222" text-anchor="start" >Mi=0.5</text>
<text x="131.60" y="488.40" font-size="6.3" fill="#222" text-anchor="start" >Mi=0.75</text>
<text x="156.40" y="488.40" font-size="6.3" fill="#222" text-anchor="start" >Mi=1.00</text>
<text x="210.40" y="356.00" font-size="8.2" fill="#222" text-anchor="start" >Wi=0.00</text>
<text x="207.42" y="364.70" font-size="8.2" fill="#222" text-anchor="start" >Wi=0.50</text>
<text x="204.44" y="373.40" font-size="8.2" fill="#222" text-anchor="start" >Wi=0.25</text>
<text x="201.46" y="382.10" font-size="8.2" fill="#222" text-anchor="start" >Wi=0.75</text>
<text x="198.48" y="390.80" font-size="8.2" fill="#222" text-anchor="start" >Wi=0.00</text>
<text x="195.50" y="399.50" font-size="8.2" fill="#222" text-anchor="start" >Wi=0.50</text>
<text x="192.52" y="408.20" font-size="8.2" fill="#222" text-anchor="start" >Wi=1.00</text>
<text x="189.54" y="416.90" font-size="8.2" fill="#222" text-anchor="start" >Wi=0.50</text>
<text x="186.56" y="425.60" font-size="8.2" fill="#222" text-anchor="start" >Wi=1.00</text>
<text x="183.58" y="434.30" font-size="8.2" fill="#222" text-anchor="start" >Wi=0.25</text>
<text x="180.60" y="443.00" font-size="8.2" fill="#222" text-anchor="start" >Wi=1.00</text>
<line x1="243.87" y1="351.60" x2="237.63" y2="367.80" stroke="#555" stroke-width="0.8" />
<line x1="236.77" y1="370.00" x2="230.53" y2="386.20" stroke="#555" stroke-width="0.8" />
<line x1="229.67" y1="388.40" x2="223.43" y2="404.60" stroke="#555" stroke-width="0.8" />
<line x1="222.57" y1="406.80" x2="216.33" y2="423.00" stroke="#555" stroke-width="0.8" />
<line x1="215.47" y1="425.20" x2="209.23" y2="441.40" stroke="#555" stroke-width="0.8" />
<text x="214.60" y="458.30" font-size="7.3" fill="#222" text-anchor="start" transform="rotate(-67.50 214.60 458.30)" stroke="#222" stroke-width="0.22">Ui=0.0 Ui=0.25 Ui=0.5 Ui=0.75 Ui=1.0</text>
<text x="71.00" y="269.20" font-size="10" fill="#222" text-anchor="middle" >(c)</text>
<rect x="361.50" y="255.50" width="111.00" height="90.00" fill="#fff" stroke="#505050" stroke-width="0.85"/>
<polygon points="361.50,345.50 472.50,345.50 440.00,432.00 330.30,432.00" fill="#fffdf8" stroke="none"/>
<rect x="332.21" y="429.60" width="1.8" height="1.45" rx="0.45" fill="#8f7416"/>
<rect x="336.60" y="429.60" width="1.8" height="1.45" rx="0.45" fill="#8f7416"/>
<rect x="340.99" y="429.60" width="1.8" height="1.45" rx="0.45" fill="#8f7416"/>
<rect x="345.37" y="429.60" width="1.8" height="1.45" rx="0.45" fill="#8f7416"/>
<rect x="349.76" y="429.60" width="1.8" height="1.45" rx="0.45" fill="#8f7416"/>
<rect x="354.15" y="429.60" width="1.8" height="1.45" rx="0.45" fill="#8f7416"/>
<rect x="358.54" y="429.60" width="1.8" height="1.45" rx="0.45" fill="#8f7416"/>
<rect x="362.93" y="429.60" width="1.8" height="1.45" rx="0.45" fill="#8f7416"/>
<rect x="367.32" y="429.60" width="1.8" height="1.45" rx="0.45" fill="#8f7416"/>
<rect x="371.71" y="429.60" width="1.8" height="1.45" rx="0.45" fill="#8f7416"/>
<rect x="376.10" y="429.60" width="1.8" height="1.45" rx="0.45" fill="#8f7416"/>
<rect x="380.49" y="429.60" width="1.8" height="1.45" rx="0.45" fill="#8f7416"/>
<rect x="384.88" y="429.60" width="1.8" height="1.45" rx="0.45" fill="#8f7416"/>
<rect x="389.26" y="429.60" width="1.8" height="1.45" rx="0.45" fill="#8f7416"/>
<rect x="393.65" y="429.60" width="1.8" height="1.45" rx="0.45" fill="#8f7416"/>
<rect x="398.04" y="429.60" width="1.8" height="1.45" rx="0.45" fill="#8f7416"/>
<rect x="402.43" y="429.60" width="1.8" height="1.45" rx="0.45" fill="#8f7416"/>
<rect x="406.82" y="429.60" width="1.8" height="1.45" rx="0.45" fill="#8f7416"/>
<rect x="411.21" y="429.60" width="1.8" height="1.45" rx="0.45" fill="#8f7416"/>
<rect x="415.60" y="429.60" width="1.8" height="1.45" rx="0.45" fill="#8f7416"/>
<rect x="419.99" y="429.60" width="1.8" height="1.45" rx="0.45" fill="#8f7416"/>
<rect x="424.38" y="429.60" width="1.8" height="1.45" rx="0.45" fill="#8f7416"/>
<rect x="428.77" y="429.60" width="1.8" height="1.45" rx="0.45" fill="#8f7416"/>
<rect x="433.16" y="429.60" width="1.8" height="1.45" rx="0.45" fill="#8f7416"/>
<rect x="437.54" y="429.60" width="1.8" height="1.45" rx="0.45" fill="#8f7416"/>
<rect x="333.74" y="425.35" width="1.8" height="1.45" rx="0.45" fill="#8f7416"/>
<rect x="338.13" y="425.35" width="1.8" height="1.45" rx="0.45" fill="#8f7416"/>
<rect x="342.53" y="425.35" width="1.8" height="1.45" rx="0.45" fill="#8f7416"/>
<rect x="346.92" y="425.35" width="1.8" height="1.45" rx="0.45" fill="#8f7416"/>
<rect x="351.31" y="425.35" width="1.8" height="1.45" rx="0.45" fill="#8f7416"/>
<rect x="355.70" y="425.35" width="1.8" height="1.45" rx="0.45" fill="#8f7416"/>
<rect x="360.09" y="425.35" width="1.8" height="1.45" rx="0.45" fill="#8f7416"/>
<rect x="364.48" y="425.35" width="1.8" height="1.45" rx="0.45" fill="#8f7416"/>
<rect x="368.87" y="425.35" width="1.8" height="1.45" rx="0.45" fill="#8f7416"/>
<rect x="373.27" y="425.35" width="1.8" height="1.45" rx="0.45" fill="#8f7416"/>
<rect x="377.66" y="425.35" width="1.8" height="1.45" rx="0.45" fill="#8f7416"/>
<rect x="382.05" y="425.35" width="1.8" height="1.45" rx="0.45" fill="#8f7416"/>
<rect x="386.44" y="425.35" width="1.8" height="1.45" rx="0.45" fill="#8f7416"/>
<rect x="390.83" y="425.35" width="1.8" height="1.45" rx="0.45" fill="#8f7416"/>
<rect x="395.22" y="425.35" width="1.8" height="1.45" rx="0.45" fill="#8f7416"/>
<rect x="399.62" y="425.35" width="1.8" height="1.45" rx="0.45" fill="#8f7416"/>
<rect x="404.01" y="425.35" width="1.8" height="1.45" rx="0.45" fill="#8f7416"/>
<rect x="408.40" y="425.35" width="1.8" height="1.45" rx="0.45" fill="#8f7416"/>
<rect x="412.79" y="425.35" width="1.8" height="1.45" rx="0.45" fill="#8f7416"/>
<rect x="417.18" y="425.35" width="1.8" height="1.45" rx="0.45" fill="#8f7416"/>
<rect x="421.57" y="425.35" width="1.8" height="1.45" rx="0.45" fill="#8f7416"/>
<rect x="425.97" y="425.35" width="1.8" height="1.45" rx="0.45" fill="#8f7416"/>
<rect x="430.36" y="425.35" width="1.8" height="1.45" rx="0.45" fill="#8f7416"/>
<rect x="434.75" y="425.35" width="1.8" height="1.45" rx="0.45" fill="#8f7416"/>
<rect x="439.14" y="425.35" width="1.8" height="1.45" rx="0.45" fill="#8f7416"/>
<rect x="335.28" y="421.10" width="1.8" height="1.45" rx="0.45" fill="#8f7416"/>
<rect x="339.67" y="421.10" width="1.8" height="1.45" rx="0.45" fill="#8f7416"/>
<rect x="344.06" y="421.10" width="1.8" height="1.45" rx="0.45" fill="#8f7416"/>
<rect x="348.46" y="421.10" width="1.8" height="1.45" rx="0.45" fill="#8f7416"/>
<rect x="352.85" y="421.10" width="1.8" height="1.45" rx="0.45" fill="#8f7416"/>
<rect x="357.25" y="421.10" width="1.8" height="1.45" rx="0.45" fill="#8f7416"/>
<rect x="361.64" y="421.10" width="1.8" height="1.45" rx="0.45" fill="#8f7416"/>
<rect x="366.04" y="421.10" width="1.8" height="1.45" rx="0.45" fill="#8f7416"/>
<rect x="370.43" y="421.10" width="1.8" height="1.45" rx="0.45" fill="#8f7416"/>
<rect x="374.82" y="421.10" width="1.8" height="1.45" rx="0.45" fill="#8f7416"/>
<rect x="379.22" y="421.10" width="1.8" height="1.45" rx="0.45" fill="#8f7416"/>
<rect x="383.61" y="421.10" width="1.8" height="1.45" rx="0.45" fill="#8f7416"/>
<rect x="388.01" y="421.10" width="1.8" height="1.45" rx="0.45" fill="#8f7416"/>
<rect x="392.40" y="421.10" width="1.8" height="1.45" rx="0.45" fill="#8f7416"/>
<rect x="396.79" y="421.10" width="1.8" height="1.45" rx="0.45" fill="#8f7416"/>
<rect x="401.19" y="421.10" width="1.8" height="1.45" rx="0.45" fill="#8f7416"/>
<rect x="405.58" y="421.10" width="1.8" height="1.45" rx="0.45" fill="#8f7416"/>
<rect x="409.98" y="421.10" width="1.8" height="1.45" rx="0.45" fill="#8f7416"/>
<rect x="414.37" y="421.10" width="1.8" height="1.45" rx="0.45" fill="#8f7416"/>
<rect x="418.77" y="421.10" width="1.8" height="1.45" rx="0.45" fill="#8f7416"/>
<rect x="423.16" y="421.10" width="1.8" height="1.45" rx="0.45" fill="#8f7416"/>
<rect x="427.55" y="421.10" width="1.8" height="1.45" rx="0.45" fill="#8f7416"/>
<rect x="431.95" y="421.10" width="1.8" height="1.45" rx="0.45" fill="#8f7416"/>
<rect x="436.34" y="421.10" width="1.8" height="1.45" rx="0.45" fill="#8f7416"/>
<rect x="440.74" y="421.10" width="1.8" height="1.45" rx="0.45" fill="#8f7416"/>
<rect x="336.81" y="416.85" width="1.8" height="1.45" rx="0.45" fill="#8f7416"/>
<rect x="341.21" y="416.85" width="1.8" height="1.45" rx="0.45" fill="#8f7416"/>
<rect x="345.60" y="416.85" width="1.8" height="1.45" rx="0.45" fill="#8f7416"/>
<rect x="350.00" y="416.85" width="1.8" height="1.45" rx="0.45" fill="#8f7416"/>
<rect x="354.40" y="416.85" width="1.8" height="1.45" rx="0.45" fill="#8f7416"/>
<rect x="358.79" y="416.85" width="1.8" height="1.45" rx="0.45" fill="#8f7416"/>
<rect x="363.19" y="416.85" width="1.8" height="1.45" rx="0.45" fill="#8f7416"/>
<rect x="367.59" y="416.85" width="1.8" height="1.45" rx="0.45" fill="#8f7416"/>
<rect x="371.98" y="416.85" width="1.8" height="1.45" rx="0.45" fill="#8f7416"/>
<rect x="376.38" y="416.85" width="1.8" height="1.45" rx="0.45" fill="#8f7416"/>
<rect x="380.78" y="416.85" width="1.8" height="1.45" rx="0.45" fill="#8f7416"/>
<rect x="385.17" y="416.85" width="1.8" height="1.45" rx="0.45" fill="#8f7416"/>
<rect x="389.57" y="416.85" width="1.8" height="1.45" rx="0.45" fill="#8f7416"/>
<rect x="393.97" y="416.85" width="1.8" height="1.45" rx="0.45" fill="#8f7416"/>
<rect x="398.36" y="416.85" width="1.8" height="1.45" rx="0.45" fill="#8f7416"/>
<rect x="402.76" y="416.85" width="1.8" height="1.45" rx="0.45" fill="#8f7416"/>
<rect x="407.16" y="416.85" width="1.8" height="1.45" rx="0.45" fill="#8f7416"/>
<rect x="411.55" y="416.85" width="1.8" height="1.45" rx="0.45" fill="#8f7416"/>
<rect x="415.95" y="416.85" width="1.8" height="1.45" rx="0.45" fill="#8f7416"/>
<rect x="420.35" y="416.85" width="1.8" height="1.45" rx="0.45" fill="#8f7416"/>
<rect x="424.74" y="416.85" width="1.8" height="1.45" rx="0.45" fill="#8f7416"/>
<rect x="429.14" y="416.85" width="1.8" height="1.45" rx="0.45" fill="#8f7416"/>
<rect x="433.54" y="416.85" width="1.8" height="1.45" rx="0.45" fill="#8f7416"/>
<rect x="437.93" y="416.85" width="1.8" height="1.45" rx="0.45" fill="#8f7416"/>
<rect x="442.33" y="416.85" width="1.8" height="1.45" rx="0.45" fill="#8f7416"/>
<rect x="338.35" y="412.60" width="1.8" height="1.45" rx="0.45" fill="#9c7e18"/>
<rect x="342.74" y="412.60" width="1.8" height="1.45" rx="0.45" fill="#9c7e18"/>
<rect x="347.14" y="412.60" width="1.8" height="1.45" rx="0.45" fill="#9c7e18"/>
<rect x="351.54" y="412.60" width="1.8" height="1.45" rx="0.45" fill="#9c7e18"/>
<rect x="355.94" y="412.60" width="1.8" height="1.45" rx="0.45" fill="#9c7e18"/>
<rect x="360.34" y="412.60" width="1.8" height="1.45" rx="0.45" fill="#9c7e18"/>
<rect x="364.74" y="412.60" width="1.8" height="1.45" rx="0.45" fill="#9c7e18"/>
<rect x="369.14" y="412.60" width="1.8" height="1.45" rx="0.45" fill="#9c7e18"/>
<rect x="373.54" y="412.60" width="1.8" height="1.45" rx="0.45" fill="#9c7e18"/>
<rect x="377.94" y="412.60" width="1.8" height="1.45" rx="0.45" fill="#9c7e18"/>
<rect x="382.34" y="412.60" width="1.8" height="1.45" rx="0.45" fill="#9c7e18"/>
<rect x="386.74" y="412.60" width="1.8" height="1.45" rx="0.45" fill="#9c7e18"/>
<rect x="391.14" y="412.60" width="1.8" height="1.45" rx="0.45" fill="#9c7e18"/>
<rect x="395.54" y="412.60" width="1.8" height="1.45" rx="0.45" fill="#9c7e18"/>
<rect x="399.93" y="412.60" width="1.8" height="1.45" rx="0.45" fill="#9c7e18"/>
<rect x="404.33" y="412.60" width="1.8" height="1.45" rx="0.45" fill="#9c7e18"/>
<rect x="408.73" y="412.60" width="1.8" height="1.45" rx="0.45" fill="#9c7e18"/>
<rect x="413.13" y="412.60" width="1.8" height="1.45" rx="0.45" fill="#9c7e18"/>
<rect x="417.53" y="412.60" width="1.8" height="1.45" rx="0.45" fill="#9c7e18"/>
<rect x="421.93" y="412.60" width="1.8" height="1.45" rx="0.45" fill="#9c7e18"/>
<rect x="426.33" y="412.60" width="1.8" height="1.45" rx="0.45" fill="#9c7e18"/>
<rect x="430.73" y="412.60" width="1.8" height="1.45" rx="0.45" fill="#9c7e18"/>
<rect x="435.13" y="412.60" width="1.8" height="1.45" rx="0.45" fill="#9c7e18"/>
<rect x="439.53" y="412.60" width="1.8" height="1.45" rx="0.45" fill="#9c7e18"/>
<rect x="443.93" y="412.60" width="1.8" height="1.45" rx="0.45" fill="#9c7e18"/>
<rect x="339.88" y="408.35" width="1.8" height="1.45" rx="0.45" fill="#9c7e18"/>
<rect x="344.28" y="408.35" width="1.8" height="1.45" rx="0.45" fill="#9c7e18"/>
<rect x="348.68" y="408.35" width="1.8" height="1.45" rx="0.45" fill="#9c7e18"/>
<rect x="353.09" y="408.35" width="1.8" height="1.45" rx="0.45" fill="#9c7e18"/>
<rect x="357.49" y="408.35" width="1.8" height="1.45" rx="0.45" fill="#9c7e18"/>
<rect x="361.89" y="408.35" width="1.8" height="1.45" rx="0.45" fill="#9c7e18"/>
<rect x="366.29" y="408.35" width="1.8" height="1.45" rx="0.45" fill="#9c7e18"/>
<rect x="370.69" y="408.35" width="1.8" height="1.45" rx="0.45" fill="#9c7e18"/>
<rect x="375.09" y="408.35" width="1.8" height="1.45" rx="0.45" fill="#9c7e18"/>
<rect x="379.50" y="408.35" width="1.8" height="1.45" rx="0.45" fill="#9c7e18"/>
<rect x="383.90" y="408.35" width="1.8" height="1.45" rx="0.45" fill="#9c7e18"/>
<rect x="388.30" y="408.35" width="1.8" height="1.45" rx="0.45" fill="#9c7e18"/>
<rect x="392.70" y="408.35" width="1.8" height="1.45" rx="0.45" fill="#9c7e18"/>
<rect x="397.10" y="408.35" width="1.8" height="1.45" rx="0.45" fill="#9c7e18"/>
<rect x="401.51" y="408.35" width="1.8" height="1.45" rx="0.45" fill="#9c7e18"/>
<rect x="405.91" y="408.35" width="1.8" height="1.45" rx="0.45" fill="#9c7e18"/>
<rect x="410.31" y="408.35" width="1.8" height="1.45" rx="0.45" fill="#9c7e18"/>
<rect x="414.71" y="408.35" width="1.8" height="1.45" rx="0.45" fill="#9c7e18"/>
<rect x="419.11" y="408.35" width="1.8" height="1.45" rx="0.45" fill="#9c7e18"/>
<rect x="423.51" y="408.35" width="1.8" height="1.45" rx="0.45" fill="#9c7e18"/>
<rect x="427.92" y="408.35" width="1.8" height="1.45" rx="0.45" fill="#9c7e18"/>
<rect x="432.32" y="408.35" width="1.8" height="1.45" rx="0.45" fill="#9c7e18"/>
<rect x="436.72" y="408.35" width="1.8" height="1.45" rx="0.45" fill="#9c7e18"/>
<rect x="441.12" y="408.35" width="1.8" height="1.45" rx="0.45" fill="#9c7e18"/>
<rect x="445.52" y="408.35" width="1.8" height="1.45" rx="0.45" fill="#9c7e18"/>
<rect x="341.41" y="404.10" width="1.8" height="1.45" rx="0.45" fill="#9c7e18"/>
<rect x="345.82" y="404.10" width="1.8" height="1.45" rx="0.45" fill="#9c7e18"/>
<rect x="350.22" y="404.10" width="1.8" height="1.45" rx="0.45" fill="#9c7e18"/>
<rect x="354.63" y="404.10" width="1.8" height="1.45" rx="0.45" fill="#9c7e18"/>
<rect x="359.03" y="404.10" width="1.8" height="1.45" rx="0.45" fill="#9c7e18"/>
<rect x="363.44" y="404.10" width="1.8" height="1.45" rx="0.45" fill="#9c7e18"/>
<rect x="367.84" y="404.10" width="1.8" height="1.45" rx="0.45" fill="#9c7e18"/>
<rect x="372.24" y="404.10" width="1.8" height="1.45" rx="0.45" fill="#9c7e18"/>
<rect x="376.65" y="404.10" width="1.8" height="1.45" rx="0.45" fill="#9c7e18"/>
<rect x="381.05" y="404.10" width="1.8" height="1.45" rx="0.45" fill="#9c7e18"/>
<rect x="385.46" y="404.10" width="1.8" height="1.45" rx="0.45" fill="#9c7e18"/>
<rect x="389.86" y="404.10" width="1.8" height="1.45" rx="0.45" fill="#9c7e18"/>
<rect x="394.27" y="404.10" width="1.8" height="1.45" rx="0.45" fill="#9c7e18"/>
<rect x="398.67" y="404.10" width="1.8" height="1.45" rx="0.45" fill="#9c7e18"/>
<rect x="403.08" y="404.10" width="1.8" height="1.45" rx="0.45" fill="#9c7e18"/>
<rect x="407.48" y="404.10" width="1.8" height="1.45" rx="0.45" fill="#9c7e18"/>
<rect x="411.88" y="404.10" width="1.8" height="1.45" rx="0.45" fill="#9c7e18"/>
<rect x="416.29" y="404.10" width="1.8" height="1.45" rx="0.45" fill="#9c7e18"/>
<rect x="420.69" y="404.10" width="1.8" height="1.45" rx="0.45" fill="#9c7e18"/>
<rect x="425.10" y="404.10" width="1.8" height="1.45" rx="0.45" fill="#9c7e18"/>
<rect x="429.50" y="404.10" width="1.8" height="1.45" rx="0.45" fill="#9c7e18"/>
<rect x="433.91" y="404.10" width="1.8" height="1.45" rx="0.45" fill="#9c7e18"/>
<rect x="438.31" y="404.10" width="1.8" height="1.45" rx="0.45" fill="#9c7e18"/>
<rect x="442.71" y="404.10" width="1.8" height="1.45" rx="0.45" fill="#9c7e18"/>
<rect x="447.12" y="404.10" width="1.8" height="1.45" rx="0.45" fill="#9c7e18"/>
<rect x="342.95" y="399.85" width="1.8" height="1.45" rx="0.45" fill="#9c7e18"/>
<rect x="347.36" y="399.85" width="1.8" height="1.45" rx="0.45" fill="#9c7e18"/>
<rect x="351.76" y="399.85" width="1.8" height="1.45" rx="0.45" fill="#9c7e18"/>
<rect x="356.17" y="399.85" width="1.8" height="1.45" rx="0.45" fill="#9c7e18"/>
<rect x="360.58" y="399.85" width="1.8" height="1.45" rx="0.45" fill="#9c7e18"/>
<rect x="364.98" y="399.85" width="1.8" height="1.45" rx="0.45" fill="#9c7e18"/>
<rect x="369.39" y="399.85" width="1.8" height="1.45" rx="0.45" fill="#9c7e18"/>
<rect x="373.80" y="399.85" width="1.8" height="1.45" rx="0.45" fill="#9c7e18"/>
<rect x="378.20" y="399.85" width="1.8" height="1.45" rx="0.45" fill="#9c7e18"/>
<rect x="382.61" y="399.85" width="1.8" height="1.45" rx="0.45" fill="#9c7e18"/>
<rect x="387.02" y="399.85" width="1.8" height="1.45" rx="0.45" fill="#9c7e18"/>
<rect x="391.42" y="399.85" width="1.8" height="1.45" rx="0.45" fill="#9c7e18"/>
<rect x="395.83" y="399.85" width="1.8" height="1.45" rx="0.45" fill="#9c7e18"/>
<rect x="400.24" y="399.85" width="1.8" height="1.45" rx="0.45" fill="#9c7e18"/>
<rect x="404.65" y="399.85" width="1.8" height="1.45" rx="0.45" fill="#9c7e18"/>
<rect x="409.05" y="399.85" width="1.8" height="1.45" rx="0.45" fill="#9c7e18"/>
<rect x="413.46" y="399.85" width="1.8" height="1.45" rx="0.45" fill="#9c7e18"/>
<rect x="417.87" y="399.85" width="1.8" height="1.45" rx="0.45" fill="#9c7e18"/>
<rect x="422.27" y="399.85" width="1.8" height="1.45" rx="0.45" fill="#9c7e18"/>
<rect x="426.68" y="399.85" width="1.8" height="1.45" rx="0.45" fill="#9c7e18"/>
<rect x="431.09" y="399.85" width="1.8" height="1.45" rx="0.45" fill="#9c7e18"/>
<rect x="435.49" y="399.85" width="1.8" height="1.45" rx="0.45" fill="#9c7e18"/>
<rect x="439.90" y="399.85" width="1.8" height="1.45" rx="0.45" fill="#9c7e18"/>
<rect x="444.31" y="399.85" width="1.8" height="1.45" rx="0.45" fill="#9c7e18"/>
<rect x="448.71" y="399.85" width="1.8" height="1.45" rx="0.45" fill="#9c7e18"/>
<rect x="344.48" y="395.60" width="1.8" height="1.45" rx="0.45" fill="#ad8a1c"/>
<rect x="348.89" y="395.60" width="1.8" height="1.45" rx="0.45" fill="#ad8a1c"/>
<rect x="353.30" y="395.60" width="1.8" height="1.45" rx="0.45" fill="#ad8a1c"/>
<rect x="357.71" y="395.60" width="1.8" height="1.45" rx="0.45" fill="#ad8a1c"/>
<rect x="362.12" y="395.60" width="1.8" height="1.45" rx="0.45" fill="#ad8a1c"/>
<rect x="366.53" y="395.60" width="1.8" height="1.45" rx="0.45" fill="#ad8a1c"/>
<rect x="370.94" y="395.60" width="1.8" height="1.45" rx="0.45" fill="#ad8a1c"/>
<rect x="375.35" y="395.60" width="1.8" height="1.45" rx="0.45" fill="#ad8a1c"/>
<rect x="379.76" y="395.60" width="1.8" height="1.45" rx="0.45" fill="#ad8a1c"/>
<rect x="384.17" y="395.60" width="1.8" height="1.45" rx="0.45" fill="#ad8a1c"/>
<rect x="388.58" y="395.60" width="1.8" height="1.45" rx="0.45" fill="#ad8a1c"/>
<rect x="392.99" y="395.60" width="1.8" height="1.45" rx="0.45" fill="#ad8a1c"/>
<rect x="397.40" y="395.60" width="1.8" height="1.45" rx="0.45" fill="#ad8a1c"/>
<rect x="401.81" y="395.60" width="1.8" height="1.45" rx="0.45" fill="#ad8a1c"/>
<rect x="406.22" y="395.60" width="1.8" height="1.45" rx="0.45" fill="#ad8a1c"/>
<rect x="410.63" y="395.60" width="1.8" height="1.45" rx="0.45" fill="#ad8a1c"/>
<rect x="415.03" y="395.60" width="1.8" height="1.45" rx="0.45" fill="#ad8a1c"/>
<rect x="419.44" y="395.60" width="1.8" height="1.45" rx="0.45" fill="#ad8a1c"/>
<rect x="423.85" y="395.60" width="1.8" height="1.45" rx="0.45" fill="#ad8a1c"/>
<rect x="428.26" y="395.60" width="1.8" height="1.45" rx="0.45" fill="#ad8a1c"/>
<rect x="432.67" y="395.60" width="1.8" height="1.45" rx="0.45" fill="#ad8a1c"/>
<rect x="437.08" y="395.60" width="1.8" height="1.45" rx="0.45" fill="#ad8a1c"/>
<rect x="441.49" y="395.60" width="1.8" height="1.45" rx="0.45" fill="#ad8a1c"/>
<rect x="445.90" y="395.60" width="1.8" height="1.45" rx="0.45" fill="#ad8a1c"/>
<rect x="450.31" y="395.60" width="1.8" height="1.45" rx="0.45" fill="#ad8a1c"/>
<rect x="346.02" y="391.34" width="1.8" height="1.45" rx="0.45" fill="#ad8a1c"/>
<rect x="350.43" y="391.34" width="1.8" height="1.45" rx="0.45" fill="#ad8a1c"/>
<rect x="354.84" y="391.34" width="1.8" height="1.45" rx="0.45" fill="#ad8a1c"/>
<rect x="359.25" y="391.34" width="1.8" height="1.45" rx="0.45" fill="#ad8a1c"/>
<rect x="363.67" y="391.34" width="1.8" height="1.45" rx="0.45" fill="#ad8a1c"/>
<rect x="368.08" y="391.34" width="1.8" height="1.45" rx="0.45" fill="#ad8a1c"/>
<rect x="372.49" y="391.34" width="1.8" height="1.45" rx="0.45" fill="#ad8a1c"/>
<rect x="376.90" y="391.34" width="1.8" height="1.45" rx="0.45" fill="#ad8a1c"/>
<rect x="381.31" y="391.34" width="1.8" height="1.45" rx="0.45" fill="#ad8a1c"/>
<rect x="385.73" y="391.34" width="1.8" height="1.45" rx="0.45" fill="#ad8a1c"/>
<rect x="390.14" y="391.34" width="1.8" height="1.45" rx="0.45" fill="#ad8a1c"/>
<rect x="394.55" y="391.34" width="1.8" height="1.45" rx="0.45" fill="#ad8a1c"/>
<rect x="398.96" y="391.34" width="1.8" height="1.45" rx="0.45" fill="#ad8a1c"/>
<rect x="403.37" y="391.34" width="1.8" height="1.45" rx="0.45" fill="#ad8a1c"/>
<rect x="407.79" y="391.34" width="1.8" height="1.45" rx="0.45" fill="#ad8a1c"/>
<rect x="412.20" y="391.34" width="1.8" height="1.45" rx="0.45" fill="#ad8a1c"/>
<rect x="416.61" y="391.34" width="1.8" height="1.45" rx="0.45" fill="#ad8a1c"/>
<rect x="421.02" y="391.34" width="1.8" height="1.45" rx="0.45" fill="#ad8a1c"/>
<rect x="425.43" y="391.34" width="1.8" height="1.45" rx="0.45" fill="#ad8a1c"/>
<rect x="429.85" y="391.34" width="1.8" height="1.45" rx="0.45" fill="#ad8a1c"/>
<rect x="434.26" y="391.34" width="1.8" height="1.45" rx="0.45" fill="#ad8a1c"/>
<rect x="438.67" y="391.34" width="1.8" height="1.45" rx="0.45" fill="#ad8a1c"/>
<rect x="443.08" y="391.34" width="1.8" height="1.45" rx="0.45" fill="#ad8a1c"/>
<rect x="447.49" y="391.34" width="1.8" height="1.45" rx="0.45" fill="#ad8a1c"/>
<rect x="451.91" y="391.34" width="1.8" height="1.45" rx="0.45" fill="#ad8a1c"/>
<rect x="347.55" y="387.09" width="1.8" height="1.45" rx="0.45" fill="#ad8a1c"/>
<rect x="351.97" y="387.09" width="1.8" height="1.45" rx="0.45" fill="#ad8a1c"/>
<rect x="356.38" y="387.09" width="1.8" height="1.45" rx="0.45" fill="#ad8a1c"/>
<rect x="360.80" y="387.09" width="1.8" height="1.45" rx="0.45" fill="#ad8a1c"/>
<rect x="365.21" y="387.09" width="1.8" height="1.45" rx="0.45" fill="#ad8a1c"/>
<rect x="369.63" y="387.09" width="1.8" height="1.45" rx="0.45" fill="#ad8a1c"/>
<rect x="374.04" y="387.09" width="1.8" height="1.45" rx="0.45" fill="#ad8a1c"/>
<rect x="378.45" y="387.09" width="1.8" height="1.45" rx="0.45" fill="#ad8a1c"/>
<rect x="382.87" y="387.09" width="1.8" height="1.45" rx="0.45" fill="#ad8a1c"/>
<rect x="387.28" y="387.09" width="1.8" height="1.45" rx="0.45" fill="#ad8a1c"/>
<rect x="391.70" y="387.09" width="1.8" height="1.45" rx="0.45" fill="#ad8a1c"/>
<rect x="396.11" y="387.09" width="1.8" height="1.45" rx="0.45" fill="#ad8a1c"/>
<rect x="400.53" y="387.09" width="1.8" height="1.45" rx="0.45" fill="#ad8a1c"/>
<rect x="404.94" y="387.09" width="1.8" height="1.45" rx="0.45" fill="#ad8a1c"/>
<rect x="409.36" y="387.09" width="1.8" height="1.45" rx="0.45" fill="#ad8a1c"/>
<rect x="413.77" y="387.09" width="1.8" height="1.45" rx="0.45" fill="#ad8a1c"/>
<rect x="418.19" y="387.09" width="1.8" height="1.45" rx="0.45" fill="#ad8a1c"/>
<rect x="422.60" y="387.09" width="1.8" height="1.45" rx="0.45" fill="#ad8a1c"/>
<rect x="427.01" y="387.09" width="1.8" height="1.45" rx="0.45" fill="#ad8a1c"/>
<rect x="431.43" y="387.09" width="1.8" height="1.45" rx="0.45" fill="#ad8a1c"/>
<rect x="435.84" y="387.09" width="1.8" height="1.45" rx="0.45" fill="#ad8a1c"/>
<rect x="440.26" y="387.09" width="1.8" height="1.45" rx="0.45" fill="#ad8a1c"/>
<rect x="444.67" y="387.09" width="1.8" height="1.45" rx="0.45" fill="#ad8a1c"/>
<rect x="449.09" y="387.09" width="1.8" height="1.45" rx="0.45" fill="#ad8a1c"/>
<rect x="453.50" y="387.09" width="1.8" height="1.45" rx="0.45" fill="#ad8a1c"/>
<rect x="349.09" y="382.84" width="1.8" height="1.45" rx="0.45" fill="#ad8a1c"/>
<rect x="353.50" y="382.84" width="1.8" height="1.45" rx="0.45" fill="#ad8a1c"/>
<rect x="357.92" y="382.84" width="1.8" height="1.45" rx="0.45" fill="#ad8a1c"/>
<rect x="362.34" y="382.84" width="1.8" height="1.45" rx="0.45" fill="#ad8a1c"/>
<rect x="366.76" y="382.84" width="1.8" height="1.45" rx="0.45" fill="#ad8a1c"/>
<rect x="371.17" y="382.84" width="1.8" height="1.45" rx="0.45" fill="#ad8a1c"/>
<rect x="375.59" y="382.84" width="1.8" height="1.45" rx="0.45" fill="#ad8a1c"/>
<rect x="380.01" y="382.84" width="1.8" height="1.45" rx="0.45" fill="#ad8a1c"/>
<rect x="384.42" y="382.84" width="1.8" height="1.45" rx="0.45" fill="#ad8a1c"/>
<rect x="388.84" y="382.84" width="1.8" height="1.45" rx="0.45" fill="#ad8a1c"/>
<rect x="393.26" y="382.84" width="1.8" height="1.45" rx="0.45" fill="#ad8a1c"/>
<rect x="397.68" y="382.84" width="1.8" height="1.45" rx="0.45" fill="#ad8a1c"/>
<rect x="402.09" y="382.84" width="1.8" height="1.45" rx="0.45" fill="#ad8a1c"/>
<rect x="406.51" y="382.84" width="1.8" height="1.45" rx="0.45" fill="#ad8a1c"/>
<rect x="410.93" y="382.84" width="1.8" height="1.45" rx="0.45" fill="#ad8a1c"/>
<rect x="415.34" y="382.84" width="1.8" height="1.45" rx="0.45" fill="#ad8a1c"/>
<rect x="419.76" y="382.84" width="1.8" height="1.45" rx="0.45" fill="#ad8a1c"/>
<rect x="424.18" y="382.84" width="1.8" height="1.45" rx="0.45" fill="#ad8a1c"/>
<rect x="428.59" y="382.84" width="1.8" height="1.45" rx="0.45" fill="#ad8a1c"/>
<rect x="433.01" y="382.84" width="1.8" height="1.45" rx="0.45" fill="#ad8a1c"/>
<rect x="437.43" y="382.84" width="1.8" height="1.45" rx="0.45" fill="#ad8a1c"/>
<rect x="441.85" y="382.84" width="1.8" height="1.45" rx="0.45" fill="#ad8a1c"/>
<rect x="446.26" y="382.84" width="1.8" height="1.45" rx="0.45" fill="#ad8a1c"/>
<rect x="450.68" y="382.84" width="1.8" height="1.45" rx="0.45" fill="#ad8a1c"/>
<rect x="455.10" y="382.84" width="1.8" height="1.45" rx="0.45" fill="#ad8a1c"/>
<rect x="350.62" y="378.59" width="1.8" height="1.45" rx="0.45" fill="#c8a24a"/>
<rect x="355.04" y="378.59" width="1.8" height="1.45" rx="0.45" fill="#c8a24a"/>
<rect x="359.46" y="378.59" width="1.8" height="1.45" rx="0.45" fill="#c8a24a"/>
<rect x="363.88" y="378.59" width="1.8" height="1.45" rx="0.45" fill="#c8a24a"/>
<rect x="368.30" y="378.59" width="1.8" height="1.45" rx="0.45" fill="#c8a24a"/>
<rect x="372.72" y="378.59" width="1.8" height="1.45" rx="0.45" fill="#c8a24a"/>
<rect x="377.14" y="378.59" width="1.8" height="1.45" rx="0.45" fill="#c8a24a"/>
<rect x="381.56" y="378.59" width="1.8" height="1.45" rx="0.45" fill="#c8a24a"/>
<rect x="385.98" y="378.59" width="1.8" height="1.45" rx="0.45" fill="#c8a24a"/>
<rect x="390.40" y="378.59" width="1.8" height="1.45" rx="0.45" fill="#c8a24a"/>
<rect x="394.82" y="378.59" width="1.8" height="1.45" rx="0.45" fill="#c8a24a"/>
<rect x="399.24" y="378.59" width="1.8" height="1.45" rx="0.45" fill="#c8a24a"/>
<rect x="403.66" y="378.59" width="1.8" height="1.45" rx="0.45" fill="#c8a24a"/>
<rect x="408.08" y="378.59" width="1.8" height="1.45" rx="0.45" fill="#c8a24a"/>
<rect x="412.50" y="378.59" width="1.8" height="1.45" rx="0.45" fill="#c8a24a"/>
<rect x="416.92" y="378.59" width="1.8" height="1.45" rx="0.45" fill="#c8a24a"/>
<rect x="421.34" y="378.59" width="1.8" height="1.45" rx="0.45" fill="#c8a24a"/>
<rect x="425.76" y="378.59" width="1.8" height="1.45" rx="0.45" fill="#c8a24a"/>
<rect x="430.18" y="378.59" width="1.8" height="1.45" rx="0.45" fill="#c8a24a"/>
<rect x="434.60" y="378.59" width="1.8" height="1.45" rx="0.45" fill="#c8a24a"/>
<rect x="439.01" y="378.59" width="1.8" height="1.45" rx="0.45" fill="#c8a24a"/>
<rect x="443.43" y="378.59" width="1.8" height="1.45" rx="0.45" fill="#c8a24a"/>
<rect x="447.85" y="378.59" width="1.8" height="1.45" rx="0.45" fill="#c8a24a"/>
<rect x="452.27" y="378.59" width="1.8" height="1.45" rx="0.45" fill="#c8a24a"/>
<rect x="456.69" y="378.59" width="1.8" height="1.45" rx="0.45" fill="#c8a24a"/>
<rect x="352.16" y="374.34" width="1.8" height="1.45" rx="0.45" fill="#c8a24a"/>
<rect x="356.58" y="374.34" width="1.8" height="1.45" rx="0.45" fill="#c8a24a"/>
<rect x="361.00" y="374.34" width="1.8" height="1.45" rx="0.45" fill="#c8a24a"/>
<rect x="365.42" y="374.34" width="1.8" height="1.45" rx="0.45" fill="#c8a24a"/>
<rect x="369.84" y="374.34" width="1.8" height="1.45" rx="0.45" fill="#c8a24a"/>
<rect x="374.27" y="374.34" width="1.8" height="1.45" rx="0.45" fill="#c8a24a"/>
<rect x="378.69" y="374.34" width="1.8" height="1.45" rx="0.45" fill="#c8a24a"/>
<rect x="383.11" y="374.34" width="1.8" height="1.45" rx="0.45" fill="#c8a24a"/>
<rect x="387.53" y="374.34" width="1.8" height="1.45" rx="0.45" fill="#c8a24a"/>
<rect x="391.96" y="374.34" width="1.8" height="1.45" rx="0.45" fill="#c8a24a"/>
<rect x="396.38" y="374.34" width="1.8" height="1.45" rx="0.45" fill="#c8a24a"/>
<rect x="400.80" y="374.34" width="1.8" height="1.45" rx="0.45" fill="#c8a24a"/>
<rect x="405.22" y="374.34" width="1.8" height="1.45" rx="0.45" fill="#c8a24a"/>
<rect x="409.64" y="374.34" width="1.8" height="1.45" rx="0.45" fill="#c8a24a"/>
<rect x="414.07" y="374.34" width="1.8" height="1.45" rx="0.45" fill="#c8a24a"/>
<rect x="418.49" y="374.34" width="1.8" height="1.45" rx="0.45" fill="#c8a24a"/>
<rect x="422.91" y="374.34" width="1.8" height="1.45" rx="0.45" fill="#c8a24a"/>
<rect x="427.33" y="374.34" width="1.8" height="1.45" rx="0.45" fill="#c8a24a"/>
<rect x="431.76" y="374.34" width="1.8" height="1.45" rx="0.45" fill="#c8a24a"/>
<rect x="436.18" y="374.34" width="1.8" height="1.45" rx="0.45" fill="#c8a24a"/>
<rect x="440.60" y="374.34" width="1.8" height="1.45" rx="0.45" fill="#c8a24a"/>
<rect x="445.02" y="374.34" width="1.8" height="1.45" rx="0.45" fill="#c8a24a"/>
<rect x="449.44" y="374.34" width="1.8" height="1.45" rx="0.45" fill="#c8a24a"/>
<rect x="453.87" y="374.34" width="1.8" height="1.45" rx="0.45" fill="#c8a24a"/>
<rect x="458.29" y="374.34" width="1.8" height="1.45" rx="0.45" fill="#c8a24a"/>
<rect x="353.69" y="370.09" width="1.8" height="1.45" rx="0.45" fill="#c8a24a"/>
<rect x="358.11" y="370.09" width="1.8" height="1.45" rx="0.45" fill="#c8a24a"/>
<rect x="362.54" y="370.09" width="1.8" height="1.45" rx="0.45" fill="#c8a24a"/>
<rect x="366.96" y="370.09" width="1.8" height="1.45" rx="0.45" fill="#c8a24a"/>
<rect x="371.39" y="370.09" width="1.8" height="1.45" rx="0.45" fill="#c8a24a"/>
<rect x="375.81" y="370.09" width="1.8" height="1.45" rx="0.45" fill="#c8a24a"/>
<rect x="380.24" y="370.09" width="1.8" height="1.45" rx="0.45" fill="#c8a24a"/>
<rect x="384.66" y="370.09" width="1.8" height="1.45" rx="0.45" fill="#c8a24a"/>
<rect x="389.09" y="370.09" width="1.8" height="1.45" rx="0.45" fill="#c8a24a"/>
<rect x="393.51" y="370.09" width="1.8" height="1.45" rx="0.45" fill="#c8a24a"/>
<rect x="397.94" y="370.09" width="1.8" height="1.45" rx="0.45" fill="#c8a24a"/>
<rect x="402.36" y="370.09" width="1.8" height="1.45" rx="0.45" fill="#c8a24a"/>
<rect x="406.79" y="370.09" width="1.8" height="1.45" rx="0.45" fill="#c8a24a"/>
<rect x="411.21" y="370.09" width="1.8" height="1.45" rx="0.45" fill="#c8a24a"/>
<rect x="415.64" y="370.09" width="1.8" height="1.45" rx="0.45" fill="#c8a24a"/>
<rect x="420.06" y="370.09" width="1.8" height="1.45" rx="0.45" fill="#c8a24a"/>
<rect x="424.49" y="370.09" width="1.8" height="1.45" rx="0.45" fill="#c8a24a"/>
<rect x="428.91" y="370.09" width="1.8" height="1.45" rx="0.45" fill="#c8a24a"/>
<rect x="433.34" y="370.09" width="1.8" height="1.45" rx="0.45" fill="#c8a24a"/>
<rect x="437.76" y="370.09" width="1.8" height="1.45" rx="0.45" fill="#c8a24a"/>
<rect x="442.19" y="370.09" width="1.8" height="1.45" rx="0.45" fill="#c8a24a"/>
<rect x="446.61" y="370.09" width="1.8" height="1.45" rx="0.45" fill="#c8a24a"/>
<rect x="451.04" y="370.09" width="1.8" height="1.45" rx="0.45" fill="#c8a24a"/>
<rect x="455.46" y="370.09" width="1.8" height="1.45" rx="0.45" fill="#c8a24a"/>
<rect x="459.89" y="370.09" width="1.8" height="1.45" rx="0.45" fill="#c8a24a"/>
<rect x="355.22" y="365.84" width="1.8" height="1.45" rx="0.45" fill="#c8a24a"/>
<rect x="359.65" y="365.84" width="1.8" height="1.45" rx="0.45" fill="#c8a24a"/>
<rect x="364.08" y="365.84" width="1.8" height="1.45" rx="0.45" fill="#c8a24a"/>
<rect x="368.51" y="365.84" width="1.8" height="1.45" rx="0.45" fill="#c8a24a"/>
<rect x="372.93" y="365.84" width="1.8" height="1.45" rx="0.45" fill="#c8a24a"/>
<rect x="377.36" y="365.84" width="1.8" height="1.45" rx="0.45" fill="#c8a24a"/>
<rect x="381.79" y="365.84" width="1.8" height="1.45" rx="0.45" fill="#c8a24a"/>
<rect x="386.22" y="365.84" width="1.8" height="1.45" rx="0.45" fill="#c8a24a"/>
<rect x="390.64" y="365.84" width="1.8" height="1.45" rx="0.45" fill="#c8a24a"/>
<rect x="395.07" y="365.84" width="1.8" height="1.45" rx="0.45" fill="#c8a24a"/>
<rect x="399.50" y="365.84" width="1.8" height="1.45" rx="0.45" fill="#c8a24a"/>
<rect x="403.93" y="365.84" width="1.8" height="1.45" rx="0.45" fill="#c8a24a"/>
<rect x="408.35" y="365.84" width="1.8" height="1.45" rx="0.45" fill="#c8a24a"/>
<rect x="412.78" y="365.84" width="1.8" height="1.45" rx="0.45" fill="#c8a24a"/>
<rect x="417.21" y="365.84" width="1.8" height="1.45" rx="0.45" fill="#c8a24a"/>
<rect x="421.63" y="365.84" width="1.8" height="1.45" rx="0.45" fill="#c8a24a"/>
<rect x="426.06" y="365.84" width="1.8" height="1.45" rx="0.45" fill="#c8a24a"/>
<rect x="430.49" y="365.84" width="1.8" height="1.45" rx="0.45" fill="#c8a24a"/>
<rect x="434.92" y="365.84" width="1.8" height="1.45" rx="0.45" fill="#c8a24a"/>
<rect x="439.34" y="365.84" width="1.8" height="1.45" rx="0.45" fill="#c8a24a"/>
<rect x="443.77" y="365.84" width="1.8" height="1.45" rx="0.45" fill="#c8a24a"/>
<rect x="448.20" y="365.84" width="1.8" height="1.45" rx="0.45" fill="#c8a24a"/>
<rect x="452.63" y="365.84" width="1.8" height="1.45" rx="0.45" fill="#c8a24a"/>
<rect x="457.05" y="365.84" width="1.8" height="1.45" rx="0.45" fill="#c8a24a"/>
<rect x="461.48" y="365.84" width="1.8" height="1.45" rx="0.45" fill="#c8a24a"/>
<rect x="356.76" y="361.59" width="1.8" height="1.45" rx="0.45" fill="#d8bc84"/>
<rect x="361.19" y="361.59" width="1.8" height="1.45" rx="0.45" fill="#d8bc84"/>
<rect x="365.62" y="361.59" width="1.8" height="1.45" rx="0.45" fill="#d8bc84"/>
<rect x="370.05" y="361.59" width="1.8" height="1.45" rx="0.45" fill="#d8bc84"/>
<rect x="374.48" y="361.59" width="1.8" height="1.45" rx="0.45" fill="#d8bc84"/>
<rect x="378.91" y="361.59" width="1.8" height="1.45" rx="0.45" fill="#d8bc84"/>
<rect x="383.34" y="361.59" width="1.8" height="1.45" rx="0.45" fill="#d8bc84"/>
<rect x="387.77" y="361.59" width="1.8" height="1.45" rx="0.45" fill="#d8bc84"/>
<rect x="392.20" y="361.59" width="1.8" height="1.45" rx="0.45" fill="#d8bc84"/>
<rect x="396.63" y="361.59" width="1.8" height="1.45" rx="0.45" fill="#d8bc84"/>
<rect x="401.06" y="361.59" width="1.8" height="1.45" rx="0.45" fill="#d8bc84"/>
<rect x="405.49" y="361.59" width="1.8" height="1.45" rx="0.45" fill="#d8bc84"/>
<rect x="409.92" y="361.59" width="1.8" height="1.45" rx="0.45" fill="#d8bc84"/>
<rect x="414.35" y="361.59" width="1.8" height="1.45" rx="0.45" fill="#d8bc84"/>
<rect x="418.78" y="361.59" width="1.8" height="1.45" rx="0.45" fill="#d8bc84"/>
<rect x="423.21" y="361.59" width="1.8" height="1.45" rx="0.45" fill="#d8bc84"/>
<rect x="427.64" y="361.59" width="1.8" height="1.45" rx="0.45" fill="#d8bc84"/>
<rect x="432.07" y="361.59" width="1.8" height="1.45" rx="0.45" fill="#d8bc84"/>
<rect x="436.50" y="361.59" width="1.8" height="1.45" rx="0.45" fill="#d8bc84"/>
<rect x="440.93" y="361.59" width="1.8" height="1.45" rx="0.45" fill="#d8bc84"/>
<rect x="445.36" y="361.59" width="1.8" height="1.45" rx="0.45" fill="#d8bc84"/>
<rect x="449.79" y="361.59" width="1.8" height="1.45" rx="0.45" fill="#d8bc84"/>
<rect x="454.22" y="361.59" width="1.8" height="1.45" rx="0.45" fill="#d8bc84"/>
<rect x="458.65" y="361.59" width="1.8" height="1.45" rx="0.45" fill="#d8bc84"/>
<rect x="463.08" y="361.59" width="1.8" height="1.45" rx="0.45" fill="#d8bc84"/>
<rect x="358.29" y="357.34" width="1.8" height="1.45" rx="0.45" fill="#d8bc84"/>
<rect x="362.73" y="357.34" width="1.8" height="1.45" rx="0.45" fill="#d8bc84"/>
<rect x="367.16" y="357.34" width="1.8" height="1.45" rx="0.45" fill="#d8bc84"/>
<rect x="371.59" y="357.34" width="1.8" height="1.45" rx="0.45" fill="#d8bc84"/>
<rect x="376.02" y="357.34" width="1.8" height="1.45" rx="0.45" fill="#d8bc84"/>
<rect x="380.46" y="357.34" width="1.8" height="1.45" rx="0.45" fill="#d8bc84"/>
<rect x="384.89" y="357.34" width="1.8" height="1.45" rx="0.45" fill="#d8bc84"/>
<rect x="389.32" y="357.34" width="1.8" height="1.45" rx="0.45" fill="#d8bc84"/>
<rect x="393.75" y="357.34" width="1.8" height="1.45" rx="0.45" fill="#d8bc84"/>
<rect x="398.19" y="357.34" width="1.8" height="1.45" rx="0.45" fill="#d8bc84"/>
<rect x="402.62" y="357.34" width="1.8" height="1.45" rx="0.45" fill="#d8bc84"/>
<rect x="407.05" y="357.34" width="1.8" height="1.45" rx="0.45" fill="#d8bc84"/>
<rect x="411.48" y="357.34" width="1.8" height="1.45" rx="0.45" fill="#d8bc84"/>
<rect x="415.92" y="357.34" width="1.8" height="1.45" rx="0.45" fill="#d8bc84"/>
<rect x="420.35" y="357.34" width="1.8" height="1.45" rx="0.45" fill="#d8bc84"/>
<rect x="424.78" y="357.34" width="1.8" height="1.45" rx="0.45" fill="#d8bc84"/>
<rect x="429.21" y="357.34" width="1.8" height="1.45" rx="0.45" fill="#d8bc84"/>
<rect x="433.65" y="357.34" width="1.8" height="1.45" rx="0.45" fill="#d8bc84"/>
<rect x="438.08" y="357.34" width="1.8" height="1.45" rx="0.45" fill="#d8bc84"/>
<rect x="442.51" y="357.34" width="1.8" height="1.45" rx="0.45" fill="#d8bc84"/>
<rect x="446.94" y="357.34" width="1.8" height="1.45" rx="0.45" fill="#d8bc84"/>
<rect x="451.37" y="357.34" width="1.8" height="1.45" rx="0.45" fill="#d8bc84"/>
<rect x="455.81" y="357.34" width="1.8" height="1.45" rx="0.45" fill="#d8bc84"/>
<rect x="460.24" y="357.34" width="1.8" height="1.45" rx="0.45" fill="#d8bc84"/>
<rect x="464.67" y="357.34" width="1.8" height="1.45" rx="0.45" fill="#d8bc84"/>
<rect x="359.83" y="353.09" width="1.8" height="1.45" rx="0.45" fill="#d8bc84"/>
<rect x="364.26" y="353.09" width="1.8" height="1.45" rx="0.45" fill="#d8bc84"/>
<rect x="368.70" y="353.09" width="1.8" height="1.45" rx="0.45" fill="#d8bc84"/>
<rect x="373.13" y="353.09" width="1.8" height="1.45" rx="0.45" fill="#d8bc84"/>
<rect x="377.57" y="353.09" width="1.8" height="1.45" rx="0.45" fill="#d8bc84"/>
<rect x="382.00" y="353.09" width="1.8" height="1.45" rx="0.45" fill="#d8bc84"/>
<rect x="386.44" y="353.09" width="1.8" height="1.45" rx="0.45" fill="#d8bc84"/>
<rect x="390.87" y="353.09" width="1.8" height="1.45" rx="0.45" fill="#d8bc84"/>
<rect x="395.31" y="353.09" width="1.8" height="1.45" rx="0.45" fill="#d8bc84"/>
<rect x="399.74" y="353.09" width="1.8" height="1.45" rx="0.45" fill="#d8bc84"/>
<rect x="404.18" y="353.09" width="1.8" height="1.45" rx="0.45" fill="#d8bc84"/>
<rect x="408.61" y="353.09" width="1.8" height="1.45" rx="0.45" fill="#d8bc84"/>
<rect x="413.05" y="353.09" width="1.8" height="1.45" rx="0.45" fill="#d8bc84"/>
<rect x="417.48" y="353.09" width="1.8" height="1.45" rx="0.45" fill="#d8bc84"/>
<rect x="421.92" y="353.09" width="1.8" height="1.45" rx="0.45" fill="#d8bc84"/>
<rect x="426.35" y="353.09" width="1.8" height="1.45" rx="0.45" fill="#d8bc84"/>
<rect x="430.79" y="353.09" width="1.8" height="1.45" rx="0.45" fill="#d8bc84"/>
<rect x="435.22" y="353.09" width="1.8" height="1.45" rx="0.45" fill="#d8bc84"/>
<rect x="439.66" y="353.09" width="1.8" height="1.45" rx="0.45" fill="#d8bc84"/>
<rect x="444.09" y="353.09" width="1.8" height="1.45" rx="0.45" fill="#d8bc84"/>
<rect x="448.53" y="353.09" width="1.8" height="1.45" rx="0.45" fill="#d8bc84"/>
<rect x="452.96" y="353.09" width="1.8" height="1.45" rx="0.45" fill="#d8bc84"/>
<rect x="457.40" y="353.09" width="1.8" height="1.45" rx="0.45" fill="#d8bc84"/>
<rect x="461.83" y="353.09" width="1.8" height="1.45" rx="0.45" fill="#d8bc84"/>
<rect x="466.27" y="353.09" width="1.8" height="1.45" rx="0.45" fill="#d8bc84"/>
<rect x="361.36" y="348.84" width="1.8" height="1.45" rx="0.45" fill="#d8bc84"/>
<rect x="365.80" y="348.84" width="1.8" height="1.45" rx="0.45" fill="#d8bc84"/>
<rect x="370.24" y="348.84" width="1.8" height="1.45" rx="0.45" fill="#d8bc84"/>
<rect x="374.67" y="348.84" width="1.8" height="1.45" rx="0.45" fill="#d8bc84"/>
<rect x="379.11" y="348.84" width="1.8" height="1.45" rx="0.45" fill="#d8bc84"/>
<rect x="383.55" y="348.84" width="1.8" height="1.45" rx="0.45" fill="#d8bc84"/>
<rect x="387.99" y="348.84" width="1.8" height="1.45" rx="0.45" fill="#d8bc84"/>
<rect x="392.43" y="348.84" width="1.8" height="1.45" rx="0.45" fill="#d8bc84"/>
<rect x="396.86" y="348.84" width="1.8" height="1.45" rx="0.45" fill="#d8bc84"/>
<rect x="401.30" y="348.84" width="1.8" height="1.45" rx="0.45" fill="#d8bc84"/>
<rect x="405.74" y="348.84" width="1.8" height="1.45" rx="0.45" fill="#d8bc84"/>
<rect x="410.18" y="348.84" width="1.8" height="1.45" rx="0.45" fill="#d8bc84"/>
<rect x="414.61" y="348.84" width="1.8" height="1.45" rx="0.45" fill="#d8bc84"/>
<rect x="419.05" y="348.84" width="1.8" height="1.45" rx="0.45" fill="#d8bc84"/>
<rect x="423.49" y="348.84" width="1.8" height="1.45" rx="0.45" fill="#d8bc84"/>
<rect x="427.93" y="348.84" width="1.8" height="1.45" rx="0.45" fill="#d8bc84"/>
<rect x="432.36" y="348.84" width="1.8" height="1.45" rx="0.45" fill="#d8bc84"/>
<rect x="436.80" y="348.84" width="1.8" height="1.45" rx="0.45" fill="#d8bc84"/>
<rect x="441.24" y="348.84" width="1.8" height="1.45" rx="0.45" fill="#d8bc84"/>
<rect x="445.68" y="348.84" width="1.8" height="1.45" rx="0.45" fill="#d8bc84"/>
<rect x="450.11" y="348.84" width="1.8" height="1.45" rx="0.45" fill="#d8bc84"/>
<rect x="454.55" y="348.84" width="1.8" height="1.45" rx="0.45" fill="#d8bc84"/>
<rect x="458.99" y="348.84" width="1.8" height="1.45" rx="0.45" fill="#d8bc84"/>
<rect x="463.43" y="348.84" width="1.8" height="1.45" rx="0.45" fill="#d8bc84"/>
<rect x="467.86" y="348.84" width="1.8" height="1.45" rx="0.45" fill="#d8bc84"/>
<line x1="330.30" y1="432.00" x2="361.50" y2="345.50" stroke="#444" stroke-width="0.9" />
<line x1="330.30" y1="432.00" x2="440.00" y2="432.00" stroke="#444" stroke-width="1.0" />
<line x1="472.50" y1="345.50" x2="440.00" y2="432.00" stroke="#445" stroke-width="0.9" stroke-dasharray="1.2 1.1"/>
<line x1="361.50" y1="345.50" x2="472.50" y2="345.50" stroke="#5a5a5a" stroke-width="0.85" />
<line x1="330.30" y1="341.40" x2="330.30" y2="432.00" stroke="#555" stroke-width="0.9" />
<line x1="330.30" y1="341.40" x2="361.50" y2="255.50" stroke="#444" stroke-width="0.9" />
<line x1="330.30" y1="432.00" x2="333.10" y2="432.00" stroke="#555" stroke-width="0.8" />
<text x="322.30" y="434.80" font-size="8.1" fill="#222" text-anchor="end" >0.00</text>
<line x1="330.30" y1="416.90" x2="333.10" y2="416.90" stroke="#555" stroke-width="0.8" />
<text x="322.30" y="419.70" font-size="8.1" fill="#222" text-anchor="end" >0.01</text>
<line x1="330.30" y1="401.80" x2="333.10" y2="401.80" stroke="#555" stroke-width="0.8" />
<text x="322.30" y="404.60" font-size="8.1" fill="#222" text-anchor="end" >0.02</text>
<line x1="330.30" y1="386.70" x2="333.10" y2="386.70" stroke="#555" stroke-width="0.8" />
<text x="322.30" y="389.50" font-size="8.1" fill="#222" text-anchor="end" >0.03</text>
<line x1="330.30" y1="371.60" x2="333.10" y2="371.60" stroke="#555" stroke-width="0.8" />
<text x="322.30" y="374.40" font-size="8.1" fill="#222" text-anchor="end" >0.04</text>
<line x1="330.30" y1="356.50" x2="333.10" y2="356.50" stroke="#555" stroke-width="0.8" />
<text x="322.30" y="359.30" font-size="8.1" fill="#222" text-anchor="end" >0.05</text>
<line x1="330.30" y1="341.40" x2="333.10" y2="341.40" stroke="#555" stroke-width="0.8" />
<text x="322.30" y="344.20" font-size="8.1" fill="#222" text-anchor="end" >0.06</text>
<text x="294.20" y="387.70" font-size="8.8" fill="#222" text-anchor="middle" transform="rotate(-90.00 294.20 387.70)" >Relative frequency</text>
<rect x="381.10" y="339.00" width="2.20" height="17.30" fill="url(#gc)"/>
<rect x="385.60" y="339.00" width="2.20" height="19.00" fill="url(#gc)"/>
<rect x="427.70" y="343.60" width="2.20" height="15.40" fill="url(#gc)"/>
<rect x="369.70" y="331.80" width="2.20" height="30.20" fill="url(#gc)"/>
<rect x="408.90" y="348.10" width="2.20" height="15.40" fill="url(#gc)"/>
<rect x="367.70" y="303.60" width="2.60" height="61.80" fill="url(#gl)"/>
<rect x="390.90" y="283.60" width="2.60" height="83.60" fill="url(#gl)"/>
<rect x="411.50" y="336.30" width="2.60" height="30.90" fill="url(#gl)"/>
<rect x="433.30" y="336.30" width="2.60" height="30.90" fill="url(#gl)"/>
<rect x="389.10" y="353.60" width="2.60" height="17.20" fill="url(#gl)"/>
<rect x="379.10" y="348.10" width="2.60" height="24.50" fill="url(#gl)"/>
<rect x="382.20" y="356.30" width="2.60" height="25.40" fill="url(#gg)"/>
<rect x="405.40" y="336.30" width="2.60" height="47.20" fill="url(#gg)"/>
<rect x="360.00" y="324.50" width="2.60" height="64.50" fill="url(#gg)"/>
<rect x="401.80" y="356.30" width="2.60" height="32.70" fill="url(#gg)"/>
<rect x="395.10" y="356.30" width="2.60" height="36.30" fill="url(#gg)"/>
<rect x="415.50" y="376.30" width="2.60" height="16.30" fill="url(#gg)"/>
<rect x="424.20" y="376.30" width="2.60" height="16.30" fill="url(#gg)"/>
<rect x="446.40" y="376.30" width="2.60" height="16.30" fill="url(#gg)"/>
<rect x="373.90" y="345.40" width="3.20" height="50.80" fill="url(#gg)"/>
<ellipse cx="375.50" cy="345.70" rx="1.60" ry="0.9" fill="#c8920f" opacity="0.75"/>
<ellipse cx="375.50" cy="396.20" rx="1.60" ry="0.8" fill="url(#gg)"/>
<rect x="393.60" y="378.00" width="2.60" height="18.20" fill="url(#gk)"/>
<rect x="377.80" y="353.60" width="2.60" height="44.40" fill="url(#gg)"/>
<rect x="377.30" y="372.60" width="2.60" height="27.30" fill="url(#gg)"/>
<rect x="399.60" y="384.40" width="2.60" height="16.40" fill="url(#gk)"/>
<rect x="420.00" y="376.30" width="2.60" height="27.20" fill="url(#gg)"/>
<rect x="353.40" y="357.20" width="3.20" height="48.10" fill="url(#gk)"/>
<ellipse cx="355.00" cy="357.50" rx="1.60" ry="0.9" fill="#9c7408" opacity="0.75"/>
<ellipse cx="355.00" cy="405.30" rx="1.60" ry="0.8" fill="url(#gk)"/>
<rect x="350.40" y="385.30" width="2.60" height="20.00" fill="url(#gk)"/>
<rect x="411.80" y="389.00" width="2.60" height="16.30" fill="url(#gk)"/>
<rect x="434.60" y="385.30" width="2.60" height="20.00" fill="url(#gg)"/>
<rect x="441.80" y="372.60" width="2.60" height="32.70" fill="url(#gg)"/>
<rect x="371.80" y="380.80" width="2.60" height="26.20" fill="url(#gk)"/>
<rect x="366.40" y="392.60" width="2.60" height="16.40" fill="url(#gb)"/>
<rect x="416.90" y="397.10" width="2.60" height="15.50" fill="url(#gk)"/>
<rect x="392.40" y="405.30" width="2.60" height="16.40" fill="url(#gb)"/>
<rect x="368.60" y="392.60" width="3.40" height="32.70" fill="url(#gb)"/>
<ellipse cx="370.30" cy="392.90" rx="1.70" ry="0.9" fill="#7c5e08" opacity="0.75"/>
<ellipse cx="370.30" cy="425.30" rx="1.70" ry="0.8" fill="url(#gb)"/>
<rect x="403.60" y="409.00" width="2.60" height="16.30" fill="url(#gb)"/>
<rect x="432.80" y="412.60" width="3.60" height="18.10" fill="url(#gb)"/>
<ellipse cx="434.60" cy="412.90" rx="1.80" ry="0.9" fill="#7c5e08" opacity="0.75"/>
<ellipse cx="434.60" cy="430.70" rx="1.80" ry="0.8" fill="url(#gb)"/>
<text x="334.90" y="437.20" font-size="7.4" fill="#222" text-anchor="end" transform="rotate(-90.00 334.90 437.20)" >Ci=0.00</text>
<text x="343.68" y="437.20" font-size="7.4" fill="#222" text-anchor="end" transform="rotate(-90.00 343.68 437.20)" >Ci=0.50</text>
<text x="352.46" y="437.20" font-size="7.4" fill="#222" text-anchor="end" transform="rotate(-90.00 352.46 437.20)" >Ci=1.00</text>
<text x="361.24" y="437.20" font-size="7.4" fill="#222" text-anchor="end" transform="rotate(-90.00 361.24 437.20)" >Ci=0.25</text>
<text x="370.02" y="437.20" font-size="7.4" fill="#222" text-anchor="end" transform="rotate(-90.00 370.02 437.20)" >Ci=0.75</text>
<text x="378.80" y="437.20" font-size="7.4" fill="#222" text-anchor="end" transform="rotate(-90.00 378.80 437.20)" >Ci=0.00</text>
<text x="387.58" y="437.20" font-size="7.4" fill="#222" text-anchor="end" transform="rotate(-90.00 387.58 437.20)" >Ci=0.50</text>
<text x="396.36" y="437.20" font-size="7.4" fill="#222" text-anchor="end" transform="rotate(-90.00 396.36 437.20)" >Ci=1.00</text>
<text x="405.14" y="437.20" font-size="7.4" fill="#222" text-anchor="end" transform="rotate(-90.00 405.14 437.20)" >Ci=0.25</text>
<text x="413.92" y="437.20" font-size="7.4" fill="#222" text-anchor="end" transform="rotate(-90.00 413.92 437.20)" >Ci=0.75</text>
<text x="422.70" y="437.20" font-size="7.4" fill="#222" text-anchor="end" transform="rotate(-90.00 422.70 437.20)" >Ci=0.00</text>
<text x="431.48" y="437.20" font-size="7.4" fill="#222" text-anchor="end" transform="rotate(-90.00 431.48 437.20)" >Ci=0.50</text>
<text x="440.26" y="437.20" font-size="7.4" fill="#222" text-anchor="end" transform="rotate(-90.00 440.26 437.20)" >Ci=1.00</text>
<path d="M330.70 464.80 L330.70 466.00 L350.44 466.00 L350.44 464.80 M340.57 466.00 l0 2.6" fill="none" stroke="#777" stroke-width="0.8"/>
<path d="M352.64 464.80 L352.64 466.00 L372.38 466.00 L372.38 464.80 M362.51 466.00 l0 2.6" fill="none" stroke="#777" stroke-width="0.8"/>
<path d="M374.58 464.80 L374.58 466.00 L394.32 466.00 L394.32 464.80 M384.45 466.00 l0 2.6" fill="none" stroke="#777" stroke-width="0.8"/>
<path d="M396.52 464.80 L396.52 466.00 L416.26 466.00 L416.26 464.80 M406.39 466.00 l0 2.6" fill="none" stroke="#777" stroke-width="0.8"/>
<path d="M418.46 464.80 L418.46 466.00 L438.20 466.00 L438.20 464.80 M428.33 466.00 l0 2.6" fill="none" stroke="#777" stroke-width="0.8"/>
<text x="327.00" y="480.60" font-size="6.3" fill="#222" text-anchor="start" >Mi=0.00</text>
<text x="351.50" y="480.60" font-size="6.3" fill="#222" text-anchor="start" >Mi=0.25</text>
<text x="375.60" y="480.60" font-size="6.3" fill="#222" text-anchor="start" >Mi=0.5</text>
<text x="398.40" y="480.60" font-size="6.3" fill="#222" text-anchor="start" >Mi=0.75</text>
<text x="422.80" y="480.60" font-size="6.3" fill="#222" text-anchor="start" >Mi=1.00</text>
<text x="476.00" y="350.30" font-size="7.9" fill="#222" text-anchor="start" >Wi=0.0</text>
<text x="473.00" y="358.65" font-size="7.9" fill="#222" text-anchor="start" >Wi=0.5</text>
<text x="470.00" y="367.00" font-size="7.9" fill="#222" text-anchor="start" >Wi=0.25</text>
<text x="467.00" y="375.35" font-size="7.9" fill="#222" text-anchor="start" >Wi=0.75</text>
<text x="464.00" y="383.70" font-size="7.9" fill="#222" text-anchor="start" >Wi=0.0</text>
<text x="461.00" y="392.05" font-size="7.9" fill="#222" text-anchor="start" >Wi=0.5</text>
<text x="458.00" y="400.40" font-size="7.9" fill="#222" text-anchor="start" >Wi=1.0</text>
<text x="455.00" y="408.75" font-size="7.9" fill="#222" text-anchor="start" >Wi=0.5</text>
<text x="452.00" y="417.10" font-size="7.9" fill="#222" text-anchor="start" >Wi=1.0</text>
<text x="449.00" y="425.45" font-size="7.9" fill="#222" text-anchor="start" >Wi=0.25</text>
<text x="446.00" y="433.80" font-size="7.9" fill="#222" text-anchor="start" >Wi=1.0</text>
<line x1="507.19" y1="345.58" x2="501.17" y2="361.42" stroke="#555" stroke-width="0.8" />
<line x1="500.35" y1="363.58" x2="494.33" y2="379.42" stroke="#555" stroke-width="0.8" />
<line x1="493.51" y1="381.58" x2="487.49" y2="397.42" stroke="#555" stroke-width="0.8" />
<line x1="486.67" y1="399.58" x2="480.65" y2="415.42" stroke="#555" stroke-width="0.8" />
<line x1="479.83" y1="417.58" x2="473.81" y2="433.42" stroke="#555" stroke-width="0.8" />
<text x="483.20" y="446.00" font-size="7.25" fill="#222" text-anchor="start" transform="rotate(-67.80 483.20 446.00)" stroke="#222" stroke-width="0.22">Oi=0.0 Oi=0.25 Oi=0.5 Oi=0.75 Oi=1.0</text>
<text x="337.50" y="271.00" font-size="9" fill="#222" text-anchor="middle" letter-spacing="1.6">（d）</text>
<line x1="5.00" y1="515.50" x2="546.00" y2="515.50" stroke="#8c8c8c" stroke-width="1" />
<line x1="5.50" y1="515.50" x2="5.50" y2="875.50" stroke="#d6d6d6" stroke-width="1" />
<line x1="545.60" y1="515.50" x2="545.60" y2="875.80" stroke="#666" stroke-width="1.2" />
<line x1="5.00" y1="875.50" x2="546.00" y2="875.50" stroke="#707070" stroke-width="1.2" />
<rect x="83.6" y="561.5" width="385.9" height="145.5" fill="#fff" stroke="#7c7c7c" stroke-width="0.9"/>
<polygon points="83.6,707 469.5,707 439.5,762.8 55.4,762.8" fill="#fffefb"/>
<line x1="57.00" y1="761.50" x2="439.90" y2="761.50" stroke="#d2a838" stroke-width="1" stroke-dasharray="1 1" stroke-dashoffset="1.0"/>
<line x1="58.00" y1="759.50" x2="440.97" y2="759.50" stroke="#d5af48" stroke-width="1" stroke-dasharray="1 1" stroke-dashoffset="1.0"/>
<line x1="59.00" y1="757.50" x2="442.05" y2="757.50" stroke="#d8b352" stroke-width="1" stroke-dasharray="1 1" stroke-dashoffset="1.0"/>
<line x1="61.00" y1="754.50" x2="443.66" y2="754.50" stroke="#d9b65a" stroke-width="1" stroke-dasharray="1 1" stroke-dashoffset="0"/>
<line x1="62.00" y1="752.50" x2="444.74" y2="752.50" stroke="#dbba62" stroke-width="1" stroke-dasharray="1 1" stroke-dashoffset="0"/>
<line x1="63.00" y1="750.50" x2="445.81" y2="750.50" stroke="#ddbd69" stroke-width="1" stroke-dasharray="1 1" stroke-dashoffset="0"/>
<line x1="64.00" y1="748.50" x2="446.89" y2="748.50" stroke="#debf6f" stroke-width="1" stroke-dasharray="1 1" stroke-dashoffset="0"/>
<line x1="65.00" y1="746.50" x2="447.96" y2="746.50" stroke="#e0c276" stroke-width="1" stroke-dasharray="1 1" stroke-dashoffset="0"/>
<line x1="66.00" y1="743.50" x2="449.58" y2="743.50" stroke="#e1c57c" stroke-width="1" stroke-dasharray="1 1" stroke-dashoffset="0"/>
<line x1="67.00" y1="741.50" x2="450.65" y2="741.50" stroke="#e2c781" stroke-width="1" stroke-dasharray="1 1" stroke-dashoffset="0"/>
<line x1="68.00" y1="739.50" x2="451.73" y2="739.50" stroke="#e3ca87" stroke-width="1" stroke-dasharray="1 1" stroke-dashoffset="0"/>
<line x1="69.00" y1="737.50" x2="452.80" y2="737.50" stroke="#e5cc8d" stroke-width="1" stroke-dasharray="1 1" stroke-dashoffset="0"/>
<line x1="71.00" y1="734.50" x2="454.42" y2="734.50" stroke="#e6ce92" stroke-width="1" stroke-dasharray="1 1" stroke-dashoffset="1.0"/>
<line x1="72.00" y1="732.50" x2="455.49" y2="732.50" stroke="#e7d097" stroke-width="1" stroke-dasharray="1 1" stroke-dashoffset="1.0"/>
<line x1="73.00" y1="730.50" x2="456.57" y2="730.50" stroke="#e8d39c" stroke-width="1" stroke-dasharray="1 1" stroke-dashoffset="1.0"/>
<line x1="74.00" y1="728.50" x2="457.64" y2="728.50" stroke="#e9d5a1" stroke-width="1" stroke-dasharray="1 1" stroke-dashoffset="1.0"/>
<line x1="75.00" y1="726.50" x2="458.72" y2="726.50" stroke="#ead7a6" stroke-width="1" stroke-dasharray="1 1" stroke-dashoffset="1.0"/>
<line x1="76.00" y1="723.50" x2="460.33" y2="723.50" stroke="#ebd9ab" stroke-width="1" stroke-dasharray="1 1" stroke-dashoffset="1.0"/>
<line x1="77.00" y1="721.50" x2="461.40" y2="721.50" stroke="#ecdbaf" stroke-width="1" stroke-dasharray="1 1" stroke-dashoffset="1.0"/>
<line x1="78.00" y1="719.50" x2="462.48" y2="719.50" stroke="#edddb4" stroke-width="1" stroke-dasharray="1 1" stroke-dashoffset="1.0"/>
<line x1="79.00" y1="717.50" x2="463.55" y2="717.50" stroke="#eedfb9" stroke-width="1" stroke-dasharray="1 1" stroke-dashoffset="1.0"/>
<line x1="80.00" y1="715.50" x2="464.63" y2="715.50" stroke="#efe0bd" stroke-width="1" stroke-dasharray="1 1" stroke-dashoffset="1.0"/>
<line x1="82.00" y1="712.50" x2="466.24" y2="712.50" stroke="#f0e2c1" stroke-width="1" stroke-dasharray="1 1" stroke-dashoffset="0"/>
<line x1="83.00" y1="710.50" x2="467.32" y2="710.50" stroke="#f1e4c6" stroke-width="1" stroke-dasharray="1 1" stroke-dashoffset="0"/>
<line x1="84.00" y1="708.50" x2="468.39" y2="708.50" stroke="#f2e6ca" stroke-width="1" stroke-dasharray="1 1" stroke-dashoffset="0"/>
<line x1="83.60" y1="707.30" x2="469.50" y2="707.30" stroke="#9c9c9c" stroke-width="1.6" />
<line x1="55.40" y1="762.80" x2="83.60" y2="707.00" stroke="#777" stroke-width="1.3" />
<line x1="55.40" y1="763.00" x2="439.50" y2="763.00" stroke="#707070" stroke-width="1.5" />
<line x1="469.50" y1="707.00" x2="439.50" y2="762.80" stroke="#999" stroke-width="0.8" stroke-dasharray="1 1"/>
<line x1="55.40" y1="616.30" x2="55.40" y2="762.80" stroke="#666" stroke-width="0.9" />
<line x1="55.40" y1="616.30" x2="83.60" y2="561.50" stroke="#666" stroke-width="0.9" />
<line x1="55.40" y1="762.80" x2="58.00" y2="762.80" stroke="#666" stroke-width="0.8" />
<text x="43.20" y="766.70" font-size="11.2" fill="#222" text-anchor="end" >0.00</text>
<line x1="55.40" y1="733.50" x2="58.00" y2="733.50" stroke="#666" stroke-width="0.8" />
<text x="43.20" y="737.40" font-size="11.2" fill="#222" text-anchor="end" >0.01</text>
<line x1="55.40" y1="704.20" x2="58.00" y2="704.20" stroke="#666" stroke-width="0.8" />
<text x="43.20" y="708.10" font-size="11.2" fill="#222" text-anchor="end" >0.02</text>
<line x1="55.40" y1="674.90" x2="58.00" y2="674.90" stroke="#666" stroke-width="0.8" />
<text x="43.20" y="678.80" font-size="11.2" fill="#222" text-anchor="end" >0.03</text>
<line x1="55.40" y1="645.60" x2="58.00" y2="645.60" stroke="#666" stroke-width="0.8" />
<text x="43.20" y="649.50" font-size="11.2" fill="#222" text-anchor="end" >0.04</text>
<line x1="55.40" y1="616.30" x2="58.00" y2="616.30" stroke="#666" stroke-width="0.8" />
<text x="43.20" y="620.20" font-size="11.2" fill="#222" text-anchor="end" >0.05</text>
<text x="18.60" y="692.50" font-size="12.7" fill="#222" text-anchor="middle" transform="rotate(-90.00 18.60 692.50)" >Relative frequency</text>
<text x="59.80" y="575.00" font-size="11.8" fill="#222" text-anchor="middle" >(e)</text>
<rect x="103.85" y="688.00" width="1.7" height="29.00" fill="#f0c27a"/>
<rect x="119.15" y="688.80" width="1.7" height="28.20" fill="#f0c27a"/>
<rect x="180.75" y="688.80" width="1.7" height="28.20" fill="#f0c27a"/>
<rect x="316.65" y="694.40" width="1.7" height="23.60" fill="#f0c27a"/>
<rect x="334.15" y="690.50" width="1.7" height="27.50" fill="#f0c27a"/>
<rect x="173.15" y="690.50" width="1.7" height="28.00" fill="#f0c27a"/>
<rect x="249.15" y="688.80" width="1.7" height="29.70" fill="#f0c27a"/>
<rect x="350.65" y="688.80" width="1.7" height="29.70" fill="#f0c27a"/>
<rect x="272.35" y="690.50" width="1.7" height="28.50" fill="#f0c27a"/>
<rect x="148.95" y="690.50" width="1.7" height="29.30" fill="#f0c27a"/>
<rect x="256.75" y="690.50" width="1.7" height="29.30" fill="#f0c27a"/>
<rect x="422.45" y="690.50" width="1.7" height="29.30" fill="#f0c27a"/>
<rect x="234.65" y="690.50" width="1.7" height="29.80" fill="#f0c27a"/>
<rect x="384.75" y="690.50" width="1.7" height="29.80" fill="#f0c27a"/>
<rect x="116.55" y="693.00" width="1.7" height="29.00" fill="#f0c27a"/>
<rect x="270.25" y="693.00" width="1.7" height="29.00" fill="#ebb55a"/>
<rect x="346.85" y="691.80" width="1.7" height="30.20" fill="#ebb55a"/>
<rect x="363.85" y="691.80" width="1.7" height="30.20" fill="#ebb55a"/>
<rect x="403.85" y="693.00" width="1.7" height="29.00" fill="#f0c27a"/>
<rect x="425.75" y="693.00" width="1.7" height="29.00" fill="#f0c27a"/>
<rect x="96.45" y="689.30" width="1.7" height="33.10" fill="#f0c27a"/>
<rect x="101.55" y="693.00" width="1.7" height="29.40" fill="#f0c27a"/>
<rect x="191.85" y="693.00" width="1.7" height="29.40" fill="#ebb55a"/>
<rect x="240.25" y="690.50" width="1.7" height="31.90" fill="#ebb55a"/>
<rect x="328.75" y="693.00" width="1.7" height="29.40" fill="#f0c27a"/>
<rect x="348.65" y="662.00" width="1.7" height="60.40" fill="#f0c27a"/>
<rect x="365.65" y="662.00" width="1.7" height="60.40" fill="#f0c27a"/>
<rect x="443.25" y="693.00" width="1.7" height="29.40" fill="#f0c27a"/>
<rect x="133.15" y="664.30" width="1.7" height="59.30" fill="#f0c27a"/>
<rect x="175.95" y="693.00" width="1.7" height="30.60" fill="#ebb55a"/>
<rect x="210.95" y="695.60" width="1.7" height="28.00" fill="#ebb55a"/>
<rect x="282.25" y="693.00" width="1.7" height="30.60" fill="#ebb55a"/>
<rect x="286.55" y="662.00" width="1.7" height="61.60" fill="#f0c27a"/>
<rect x="390.15" y="688.80" width="1.7" height="34.80" fill="#f0c27a"/>
<rect x="405.85" y="693.00" width="1.7" height="30.60" fill="#f0c27a"/>
<rect x="114.05" y="664.30" width="1.7" height="60.70" fill="#f0c27a"/>
<rect x="208.45" y="601.50" width="1.7" height="123.50" fill="#f0c27a"/>
<rect x="252.45" y="695.60" width="1.7" height="29.40" fill="#f0c27a"/>
<rect x="305.65" y="694.90" width="1.7" height="30.10" fill="#f0c27a"/>
<rect x="356.25" y="694.90" width="1.7" height="30.10" fill="#f0c27a"/>
<rect x="420.35" y="694.90" width="1.7" height="32.10" fill="#ebb55a"/>
<rect x="267.75" y="695.60" width="1.7" height="33.90" fill="#ebb55a"/>
<rect x="324.45" y="702.00" width="1.7" height="29.30" fill="#ebb55a"/>
<rect x="414.75" y="708.40" width="1.7" height="22.90" fill="#ebb55a"/>
<rect x="145.35" y="702.00" width="1.7" height="30.50" fill="#ebb55a"/>
<rect x="203.35" y="702.00" width="1.7" height="32.60" fill="#dba21c"/>
<rect x="264.95" y="706.60" width="1.7" height="29.70" fill="#dba21c"/>
<rect x="110.25" y="706.60" width="1.7" height="30.40" fill="#dba21c"/>
<rect x="170.05" y="705.80" width="1.7" height="31.20" fill="#dba21c"/>
<rect x="189.35" y="705.80" width="1.7" height="31.20" fill="#dba21c"/>
<rect x="434.35" y="706.60" width="1.7" height="30.40" fill="#dba21c"/>
<rect x="452.75" y="704.00" width="1.7" height="34.00" fill="#dba21c"/>
<rect x="214.05" y="710.90" width="1.7" height="29.10" fill="#dba21c"/>
<rect x="185.95" y="705.00" width="1.7" height="36.00" fill="#dba21c"/>
<rect x="121.65" y="711.00" width="1.7" height="30.40" fill="#dba21c"/>
<rect x="378.15" y="713.40" width="1.7" height="28.00" fill="#dba21c"/>
<rect x="197.45" y="713.40" width="1.7" height="29.30" fill="#dba21c"/>
<rect x="334.15" y="712.20" width="1.7" height="30.50" fill="#dba21c"/>
<rect x="338.45" y="713.40" width="1.7" height="29.30" fill="#dba21c"/>
<rect x="396.60" y="704.50" width="2.4" height="38.20" fill="#dba21c"/>
<rect x="260.05" y="714.70" width="1.7" height="30.60" fill="#dba21c"/>
<rect x="370.45" y="714.70" width="1.7" height="30.60" fill="#dba21c"/>
<rect x="410.15" y="714.70" width="1.7" height="30.60" fill="#dba21c"/>
<rect x="416.55" y="714.70" width="1.7" height="30.60" fill="#dba21c"/>
<rect x="272.55" y="717.00" width="1.7" height="29.50" fill="#dba21c"/>
<rect x="317.15" y="714.70" width="1.7" height="31.80" fill="#dba21c"/>
<rect x="362.55" y="726.20" width="1.7" height="30.50" fill="#b98b12"/>
<rect x="421.15" y="728.70" width="1.7" height="29.30" fill="#b98b12"/>
<text x="60.50" y="768.80" font-size="9.5" fill="#1c1c1c" text-anchor="end" transform="rotate(-90.00 60.50 768.80)" stroke="#1c1c1c" stroke-width="0.18">Si=0.67</text>
<text x="69.30" y="768.80" font-size="9.5" fill="#1c1c1c" text-anchor="end" transform="rotate(-90.00 69.30 768.80)" stroke="#1c1c1c" stroke-width="0.18">Si=0.17</text>
<text x="78.11" y="768.80" font-size="9.5" fill="#1c1c1c" text-anchor="end" transform="rotate(-90.00 78.11 768.80)" stroke="#1c1c1c" stroke-width="0.18">Si=0.50</text>
<text x="86.91" y="768.80" font-size="9.5" fill="#1c1c1c" text-anchor="end" transform="rotate(-90.00 86.91 768.80)" stroke="#1c1c1c" stroke-width="0.18">Si=0.08</text>
<text x="95.72" y="768.80" font-size="9.5" fill="#1c1c1c" text-anchor="end" transform="rotate(-90.00 95.72 768.80)" stroke="#1c1c1c" stroke-width="0.18">Si=0.33</text>
<text x="104.52" y="768.80" font-size="9.5" fill="#1c1c1c" text-anchor="end" transform="rotate(-90.00 104.52 768.80)" stroke="#1c1c1c" stroke-width="0.18">Si=0.00</text>
<text x="113.33" y="768.80" font-size="9.5" fill="#1c1c1c" text-anchor="end" transform="rotate(-90.00 113.33 768.80)" stroke="#1c1c1c" stroke-width="0.18">Si=0.25</text>
<text x="122.13" y="768.80" font-size="9.5" fill="#1c1c1c" text-anchor="end" transform="rotate(-90.00 122.13 768.80)" stroke="#1c1c1c" stroke-width="0.18">Si=0.67</text>
<text x="130.94" y="768.80" font-size="9.5" fill="#1c1c1c" text-anchor="end" transform="rotate(-90.00 130.94 768.80)" stroke="#1c1c1c" stroke-width="0.18">Si=0.17</text>
<text x="139.75" y="768.80" font-size="9.5" fill="#1c1c1c" text-anchor="end" transform="rotate(-90.00 139.75 768.80)" stroke="#1c1c1c" stroke-width="0.18">Si=0.50</text>
<text x="148.55" y="768.80" font-size="9.5" fill="#1c1c1c" text-anchor="end" transform="rotate(-90.00 148.55 768.80)" stroke="#1c1c1c" stroke-width="0.18">Si=0.08</text>
<text x="157.35" y="768.80" font-size="9.5" fill="#1c1c1c" text-anchor="end" transform="rotate(-90.00 157.35 768.80)" stroke="#1c1c1c" stroke-width="0.18">Si=0.33</text>
<text x="166.16" y="768.80" font-size="9.5" fill="#1c1c1c" text-anchor="end" transform="rotate(-90.00 166.16 768.80)" stroke="#1c1c1c" stroke-width="0.18">Si=0.00</text>
<text x="174.97" y="768.80" font-size="9.5" fill="#1c1c1c" text-anchor="end" transform="rotate(-90.00 174.97 768.80)" stroke="#1c1c1c" stroke-width="0.18">Si=0.25</text>
<text x="183.77" y="768.80" font-size="9.5" fill="#1c1c1c" text-anchor="end" transform="rotate(-90.00 183.77 768.80)" stroke="#1c1c1c" stroke-width="0.18">Si=0.67</text>
<text x="192.57" y="768.80" font-size="9.5" fill="#1c1c1c" text-anchor="end" transform="rotate(-90.00 192.57 768.80)" stroke="#1c1c1c" stroke-width="0.18">Si=0.17</text>
<text x="201.38" y="768.80" font-size="9.5" fill="#1c1c1c" text-anchor="end" transform="rotate(-90.00 201.38 768.80)" stroke="#1c1c1c" stroke-width="0.18">Si=0.50</text>
<text x="210.19" y="768.80" font-size="9.5" fill="#1c1c1c" text-anchor="end" transform="rotate(-90.00 210.19 768.80)" stroke="#1c1c1c" stroke-width="0.18">Si=0.08</text>
<text x="218.99" y="768.80" font-size="9.5" fill="#1c1c1c" text-anchor="end" transform="rotate(-90.00 218.99 768.80)" stroke="#1c1c1c" stroke-width="0.18">Si=0.33</text>
<text x="227.79" y="768.80" font-size="9.5" fill="#1c1c1c" text-anchor="end" transform="rotate(-90.00 227.79 768.80)" stroke="#1c1c1c" stroke-width="0.18">Si=0.00</text>
<text x="236.60" y="768.80" font-size="9.5" fill="#1c1c1c" text-anchor="end" transform="rotate(-90.00 236.60 768.80)" stroke="#1c1c1c" stroke-width="0.18">Si=0.25</text>
<text x="245.41" y="768.80" font-size="9.5" fill="#1c1c1c" text-anchor="end" transform="rotate(-90.00 245.41 768.80)" stroke="#1c1c1c" stroke-width="0.18">Si=0.67</text>
<text x="254.21" y="768.80" font-size="9.5" fill="#1c1c1c" text-anchor="end" transform="rotate(-90.00 254.21 768.80)" stroke="#1c1c1c" stroke-width="0.18">Si=0.17</text>
<text x="263.01" y="768.80" font-size="9.5" fill="#1c1c1c" text-anchor="end" transform="rotate(-90.00 263.01 768.80)" stroke="#1c1c1c" stroke-width="0.18">Si=0.50</text>
<text x="271.82" y="768.80" font-size="9.5" fill="#1c1c1c" text-anchor="end" transform="rotate(-90.00 271.82 768.80)" stroke="#1c1c1c" stroke-width="0.18">Si=0.08</text>
<text x="280.62" y="768.80" font-size="9.5" fill="#1c1c1c" text-anchor="end" transform="rotate(-90.00 280.62 768.80)" stroke="#1c1c1c" stroke-width="0.18">Si=0.33</text>
<text x="289.43" y="768.80" font-size="9.5" fill="#1c1c1c" text-anchor="end" transform="rotate(-90.00 289.43 768.80)" stroke="#1c1c1c" stroke-width="0.18">Si=0.00</text>
<text x="298.24" y="768.80" font-size="9.5" fill="#1c1c1c" text-anchor="end" transform="rotate(-90.00 298.24 768.80)" stroke="#1c1c1c" stroke-width="0.18">Si=0.25</text>
<text x="307.04" y="768.80" font-size="9.5" fill="#1c1c1c" text-anchor="end" transform="rotate(-90.00 307.04 768.80)" stroke="#1c1c1c" stroke-width="0.18">Si=0.67</text>
<text x="315.85" y="768.80" font-size="9.5" fill="#1c1c1c" text-anchor="end" transform="rotate(-90.00 315.85 768.80)" stroke="#1c1c1c" stroke-width="0.18">Si=0.17</text>
<text x="324.65" y="768.80" font-size="9.5" fill="#1c1c1c" text-anchor="end" transform="rotate(-90.00 324.65 768.80)" stroke="#1c1c1c" stroke-width="0.18">Si=0.50</text>
<text x="333.45" y="768.80" font-size="9.5" fill="#1c1c1c" text-anchor="end" transform="rotate(-90.00 333.45 768.80)" stroke="#1c1c1c" stroke-width="0.18">Si=0.08</text>
<text x="342.26" y="768.80" font-size="9.5" fill="#1c1c1c" text-anchor="end" transform="rotate(-90.00 342.26 768.80)" stroke="#1c1c1c" stroke-width="0.18">Si=0.33</text>
<text x="351.06" y="768.80" font-size="9.5" fill="#1c1c1c" text-anchor="end" transform="rotate(-90.00 351.06 768.80)" stroke="#1c1c1c" stroke-width="0.18">Si=0.00</text>
<text x="359.87" y="768.80" font-size="9.5" fill="#1c1c1c" text-anchor="end" transform="rotate(-90.00 359.87 768.80)" stroke="#1c1c1c" stroke-width="0.18">Si=0.25</text>
<text x="368.68" y="768.80" font-size="9.5" fill="#1c1c1c" text-anchor="end" transform="rotate(-90.00 368.68 768.80)" stroke="#1c1c1c" stroke-width="0.18">Si=0.67</text>
<text x="377.48" y="768.80" font-size="9.5" fill="#1c1c1c" text-anchor="end" transform="rotate(-90.00 377.48 768.80)" stroke="#1c1c1c" stroke-width="0.18">Si=0.17</text>
<text x="386.28" y="768.80" font-size="9.5" fill="#1c1c1c" text-anchor="end" transform="rotate(-90.00 386.28 768.80)" stroke="#1c1c1c" stroke-width="0.18">Si=0.50</text>
<text x="395.09" y="768.80" font-size="9.5" fill="#1c1c1c" text-anchor="end" transform="rotate(-90.00 395.09 768.80)" stroke="#1c1c1c" stroke-width="0.18">Si=0.08</text>
<text x="403.89" y="768.80" font-size="9.5" fill="#1c1c1c" text-anchor="end" transform="rotate(-90.00 403.89 768.80)" stroke="#1c1c1c" stroke-width="0.18">Si=0.33</text>
<text x="412.70" y="768.80" font-size="9.5" fill="#1c1c1c" text-anchor="end" transform="rotate(-90.00 412.70 768.80)" stroke="#1c1c1c" stroke-width="0.18">Si=0.00</text>
<text x="421.50" y="768.80" font-size="9.5" fill="#1c1c1c" text-anchor="end" transform="rotate(-90.00 421.50 768.80)" stroke="#1c1c1c" stroke-width="0.18">Si=0.25</text>
<text x="430.31" y="768.80" font-size="9.5" fill="#1c1c1c" text-anchor="end" transform="rotate(-90.00 430.31 768.80)" stroke="#1c1c1c" stroke-width="0.18">Si=0.67</text>
<text x="439.12" y="768.80" font-size="9.5" fill="#1c1c1c" text-anchor="end" transform="rotate(-90.00 439.12 768.80)" stroke="#1c1c1c" stroke-width="0.18">Si=0.17</text>
<path d="M53.20 805.20 L53.20 806.20 L66.60 806.20 L66.60 805.20 M59.90 806.20 l0 1.6" fill="none" stroke="#8c8c8c" stroke-width="0.7"/>
<path d="M68.62 805.20 L68.62 806.20 L82.02 806.20 L82.02 805.20 M75.32 806.20 l0 1.6" fill="none" stroke="#8c8c8c" stroke-width="0.7"/>
<path d="M84.04 805.20 L84.04 806.20 L97.44 806.20 L97.44 805.20 M90.74 806.20 l0 1.6" fill="none" stroke="#8c8c8c" stroke-width="0.7"/>
<path d="M99.46 805.20 L99.46 806.20 L112.86 806.20 L112.86 805.20 M106.16 806.20 l0 1.6" fill="none" stroke="#8c8c8c" stroke-width="0.7"/>
<path d="M114.88 805.20 L114.88 806.20 L128.28 806.20 L128.28 805.20 M121.58 806.20 l0 1.6" fill="none" stroke="#8c8c8c" stroke-width="0.7"/>
<path d="M130.30 805.20 L130.30 806.20 L143.70 806.20 L143.70 805.20 M137.00 806.20 l0 1.6" fill="none" stroke="#8c8c8c" stroke-width="0.7"/>
<path d="M145.72 805.20 L145.72 806.20 L159.12 806.20 L159.12 805.20 M152.42 806.20 l0 1.6" fill="none" stroke="#8c8c8c" stroke-width="0.7"/>
<path d="M161.14 805.20 L161.14 806.20 L174.54 806.20 L174.54 805.20 M167.84 806.20 l0 1.6" fill="none" stroke="#8c8c8c" stroke-width="0.7"/>
<path d="M176.56 805.20 L176.56 806.20 L189.96 806.20 L189.96 805.20 M183.26 806.20 l0 1.6" fill="none" stroke="#8c8c8c" stroke-width="0.7"/>
<path d="M191.98 805.20 L191.98 806.20 L205.38 806.20 L205.38 805.20 M198.68 806.20 l0 1.6" fill="none" stroke="#8c8c8c" stroke-width="0.7"/>
<path d="M207.40 805.20 L207.40 806.20 L220.80 806.20 L220.80 805.20 M214.10 806.20 l0 1.6" fill="none" stroke="#8c8c8c" stroke-width="0.7"/>
<path d="M222.82 805.20 L222.82 806.20 L236.22 806.20 L236.22 805.20 M229.52 806.20 l0 1.6" fill="none" stroke="#8c8c8c" stroke-width="0.7"/>
<path d="M238.24 805.20 L238.24 806.20 L251.64 806.20 L251.64 805.20 M244.94 806.20 l0 1.6" fill="none" stroke="#8c8c8c" stroke-width="0.7"/>
<path d="M253.66 805.20 L253.66 806.20 L267.06 806.20 L267.06 805.20 M260.36 806.20 l0 1.6" fill="none" stroke="#8c8c8c" stroke-width="0.7"/>
<path d="M269.08 805.20 L269.08 806.20 L282.48 806.20 L282.48 805.20 M275.78 806.20 l0 1.6" fill="none" stroke="#8c8c8c" stroke-width="0.7"/>
<path d="M284.50 805.20 L284.50 806.20 L297.90 806.20 L297.90 805.20 M291.20 806.20 l0 1.6" fill="none" stroke="#8c8c8c" stroke-width="0.7"/>
<path d="M299.92 805.20 L299.92 806.20 L313.32 806.20 L313.32 805.20 M306.62 806.20 l0 1.6" fill="none" stroke="#8c8c8c" stroke-width="0.7"/>
<path d="M315.34 805.20 L315.34 806.20 L328.74 806.20 L328.74 805.20 M322.04 806.20 l0 1.6" fill="none" stroke="#8c8c8c" stroke-width="0.7"/>
<path d="M330.76 805.20 L330.76 806.20 L344.16 806.20 L344.16 805.20 M337.46 806.20 l0 1.6" fill="none" stroke="#8c8c8c" stroke-width="0.7"/>
<path d="M346.18 805.20 L346.18 806.20 L359.58 806.20 L359.58 805.20 M352.88 806.20 l0 1.6" fill="none" stroke="#8c8c8c" stroke-width="0.7"/>
<path d="M361.60 805.20 L361.60 806.20 L375.00 806.20 L375.00 805.20 M368.30 806.20 l0 1.6" fill="none" stroke="#8c8c8c" stroke-width="0.7"/>
<path d="M377.02 805.20 L377.02 806.20 L390.42 806.20 L390.42 805.20 M383.72 806.20 l0 1.6" fill="none" stroke="#8c8c8c" stroke-width="0.7"/>
<path d="M392.44 805.20 L392.44 806.20 L405.84 806.20 L405.84 805.20 M399.14 806.20 l0 1.6" fill="none" stroke="#8c8c8c" stroke-width="0.7"/>
<path d="M407.86 805.20 L407.86 806.20 L421.26 806.20 L421.26 805.20 M414.56 806.20 l0 1.6" fill="none" stroke="#8c8c8c" stroke-width="0.7"/>
<path d="M423.28 805.20 L423.28 806.20 L436.68 806.20 L436.68 805.20 M429.98 806.20 l0 1.6" fill="none" stroke="#8c8c8c" stroke-width="0.7"/>
<text x="56.50" y="819.00" font-size="7.2" fill="#222" text-anchor="middle" >Oi=0.00</text>
<text x="76.80" y="828.00" font-size="7.2" fill="#222" text-anchor="middle" >Oi=0.25</text>
<text x="94.10" y="819.00" font-size="7.2" fill="#222" text-anchor="middle" >Oi=0.50</text>
<text x="108.30" y="828.00" font-size="7.2" fill="#222" text-anchor="middle" >Oi=0.75</text>
<text x="125.80" y="819.00" font-size="7.2" fill="#222" text-anchor="middle" >Oi=1.00</text>
<text x="137.00" y="828.00" font-size="7.2" fill="#222" text-anchor="middle" >Oi=0.00</text>
<text x="152.80" y="819.00" font-size="7.2" fill="#222" text-anchor="middle" >Oi=0.25</text>
<text x="167.00" y="828.00" font-size="7.2" fill="#222" text-anchor="middle" >Oi=0.50</text>
<text x="185.00" y="819.00" font-size="7.2" fill="#222" text-anchor="middle" >Oi=0.75</text>
<text x="199.20" y="828.00" font-size="7.2" fill="#222" text-anchor="middle" >Oi=1.00</text>
<text x="223.00" y="819.00" font-size="7.2" fill="#222" text-anchor="middle" >Oi=0.00</text>
<text x="233.40" y="828.00" font-size="7.2" fill="#222" text-anchor="middle" >Oi=0.25</text>
<text x="250.70" y="819.00" font-size="7.2" fill="#222" text-anchor="middle" >Oi=0.50</text>
<text x="264.30" y="828.00" font-size="7.2" fill="#222" text-anchor="middle" >Oi=0.75</text>
<text x="281.90" y="819.00" font-size="7.2" fill="#222" text-anchor="middle" >Oi=1.00</text>
<text x="294.40" y="828.00" font-size="7.2" fill="#222" text-anchor="middle" >Oi=0.00</text>
<text x="308.80" y="819.00" font-size="7.2" fill="#222" text-anchor="middle" >Oi=0.25</text>
<text x="325.00" y="828.00" font-size="7.2" fill="#222" text-anchor="middle" >Oi=0.50</text>
<text x="341.30" y="819.00" font-size="7.2" fill="#222" text-anchor="middle" >Oi=0.75</text>
<text x="356.30" y="828.00" font-size="7.2" fill="#222" text-anchor="middle" >Oi=1.00</text>
<text x="367.40" y="819.00" font-size="7.2" fill="#222" text-anchor="middle" >Oi=0.00</text>
<text x="387.60" y="828.00" font-size="7.2" fill="#222" text-anchor="middle" >Oi=0.25</text>
<text x="405.00" y="819.00" font-size="7.2" fill="#222" text-anchor="middle" >Oi=0.50</text>
<text x="420.20" y="828.00" font-size="7.2" fill="#222" text-anchor="middle" >Oi=0.75</text>
<text x="437.00" y="819.00" font-size="7.2" fill="#222" text-anchor="middle" >Oi=1.00</text>
<path d="M52.00 836.80 L52.80 838.00 L121.00 838.00 L121.80 836.80 M86.90 838.00 l0 2.6" fill="none" stroke="#858585" stroke-width="0.7"/>
<text x="88.20" y="857.60" font-size="12.6" fill="#222" text-anchor="middle" >Ui=0.00</text>
<path d="M131.60 836.80 L132.40 838.00 L202.80 838.00 L203.60 836.80 M167.60 838.00 l0 2.6" fill="none" stroke="#858585" stroke-width="0.7"/>
<text x="164.90" y="857.60" font-size="12.6" fill="#222" text-anchor="middle" >Ui=0.25</text>
<path d="M215.30 836.80 L216.10 838.00 L287.20 838.00 L288.00 836.80 M251.65 838.00 l0 2.6" fill="none" stroke="#858585" stroke-width="0.7"/>
<text x="255.10" y="857.60" font-size="12.6" fill="#222" text-anchor="middle" >Ui=0.50</text>
<path d="M295.60 836.80 L296.40 838.00 L368.20 838.00 L369.00 836.80 M332.30 838.00 l0 2.6" fill="none" stroke="#858585" stroke-width="0.7"/>
<text x="338.40" y="857.60" font-size="12.6" fill="#222" text-anchor="middle" >Ui=0.75</text>
<path d="M373.60 836.80 L374.40 838.00 L444.50 838.00 L445.30 836.80 M409.45 838.00 l0 2.6" fill="none" stroke="#858585" stroke-width="0.7"/>
<text x="419.30" y="857.60" font-size="12.6" fill="#222" text-anchor="middle" >Ui=1.00</text>
<text x="474.00" y="713.30" font-size="9.9" fill="#222" text-anchor="start" >Wi=1.00</text>
<text x="471.00" y="719.75" font-size="9.9" fill="#222" text-anchor="start" >Wi=0.25</text>
<text x="468.00" y="726.20" font-size="9.9" fill="#222" text-anchor="start" >Wi=0.75</text>
<text x="465.00" y="732.65" font-size="9.9" fill="#222" text-anchor="start" >Wi=0.00</text>
<text x="462.00" y="739.10" font-size="9.9" fill="#222" text-anchor="start" >Wi=0.50</text>
<text x="459.00" y="745.55" font-size="9.9" fill="#222" text-anchor="start" >Wi=1.00</text>
<text x="456.00" y="752.00" font-size="9.9" fill="#222" text-anchor="start" >Wi=0.25</text>
<text x="453.00" y="758.45" font-size="9.9" fill="#222" text-anchor="start" >Wi=0.75</text>
<text x="450.00" y="764.90" font-size="9.9" fill="#222" text-anchor="start" >Wi=0.00</text>
<line x1="515.33" y1="710.48" x2="511.27" y2="719.33" stroke="#666" stroke-width="0.8" />
<line x1="509.93" y1="722.27" x2="505.88" y2="731.12" stroke="#666" stroke-width="0.8" />
<line x1="504.52" y1="734.08" x2="500.48" y2="742.92" stroke="#666" stroke-width="0.8" />
<line x1="499.12" y1="745.88" x2="495.07" y2="754.73" stroke="#666" stroke-width="0.8" />
<line x1="493.73" y1="757.67" x2="489.68" y2="766.52" stroke="#666" stroke-width="0.8" />
<text x="499.50" y="786.50" font-size="7.5" fill="#222" text-anchor="start" transform="rotate(-62.50 499.50 786.50)" stroke="#222" stroke-width="0.25">Ci=0.0</text>
<text x="514.80" y="775.50" font-size="7.5" fill="#222" text-anchor="start" transform="rotate(-62.50 514.80 775.50)" stroke="#222" stroke-width="0.25">Ci=0.25</text>
<text x="511.00" y="759.00" font-size="7.5" fill="#222" text-anchor="start" transform="rotate(-62.50 511.00 759.00)" stroke="#222" stroke-width="0.25">Ci=0.5</text>
<text x="526.80" y="745.60" font-size="7.5" fill="#222" text-anchor="start" transform="rotate(-62.50 526.80 745.60)" stroke="#222" stroke-width="0.25">Ci=0.75</text>
<text x="523.00" y="732.00" font-size="7.5" fill="#222" text-anchor="start" transform="rotate(-62.50 523.00 732.00)" stroke="#222" stroke-width="0.25">Ci=1.0</text>
</svg></body></html>
